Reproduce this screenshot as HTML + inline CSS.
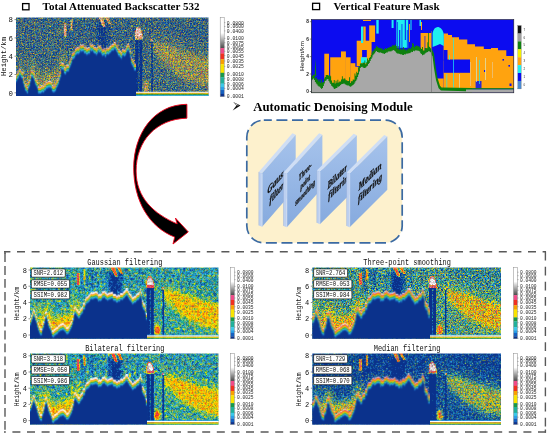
<!DOCTYPE html>
<html lang="en"><head><meta charset="utf-8"><title>Automatic Denoising Module</title>
<style>
html,body{margin:0;padding:0;background:#fff;}
body{width:550px;height:437px;overflow:hidden;}
svg{display:block;}
.mono{font-family:"Liberation Mono","DejaVu Sans Mono",monospace;}
.serif{font-family:"Liberation Serif","DejaVu Serif",serif;}
.sans{font-family:"Liberation Sans","DejaVu Sans",sans-serif;}
</style></head><body>
<svg width="550" height="437" viewBox="0 0 550 437">
<defs>
<linearGradient id="gg" x1="0" y1="0" x2="0" y2="1"><stop offset="0" stop-color="#fff"/><stop offset="1" stop-color="#484848"/></linearGradient>
<linearGradient id="pg" x1="0" y1="0" x2="0" y2="1"><stop offset="0" stop-color="#a6c3ec"/><stop offset="1" stop-color="#86aade"/></linearGradient>
<filter id="bl3" x="-20%" y="-20%" width="140%" height="140%"><feGaussianBlur stdDeviation="3"/></filter>
<filter id="soft" x="0" y="0" width="100%" height="100%" color-interpolation-filters="sRGB"><feConvolveMatrix order="3" kernelMatrix="0.07 0.26 0.07 0.26 1 0.26 0.07 0.26 0.07" divisor="2.32" edgeMode="duplicate" preserveAlpha="false"/></filter>
<filter id="bl2" x="-20%" y="-20%" width="140%" height="140%"><feGaussianBlur stdDeviation="2"/></filter>
<filter id="bl1" x="-20%" y="-20%" width="140%" height="140%"><feGaussianBlur stdDeviation="1"/></filter>
<filter id="nzraw" x="0" y="0" width="100%" height="100%" color-interpolation-filters="sRGB">
<feOffset in="SourceGraphic" dx="0" dy="0" result="b"/>
<feTurbulence type="fractalNoise" baseFrequency="0.620" numOctaves="2" seed="3" result="n0"/>
<feColorMatrix in="n0" type="matrix" values="1 0 0 0 0 1 0 0 0 0 1 0 0 0 0 0 0 0 0 1" result="g0"/>
<feComposite in="g0" in2="b" operator="arithmetic" k1="0" k2="1.5" k3="1" k4="-0.750" result="s0"/>
<feComponentTransfer in="s0" result="c0"><feFuncR type="discrete" tableValues="0.0431 0.0431 0.0431 0.0431 0.0431 0.0431 0.0431 0.0431 0.0431 0.0431 0.0431 0.0431 0.0431 0.0431 0.0431 0.0431 0.0431 0.0431 0.0431 0.0431 0.0431 0.0431 0.0431 0.0431 0.0431 0.0431 0.0431 0.0431 0.0431 0.0431 0.0431 0.0431 0.0431 0.0431 0.0431 0.0431 0.0431 0.0431 0.0431 0.0431 0.0431 0.0431 0.0431 0.0431 0.0431 0.0431 0.0431 0.0431 0.0431 0.0431 0.0431 0.0431 0.0431 0.0431 0.0431 0.0431 0.0431 0.0431 0.0431 0.0431 0.0824 0.0824 0.0824 0.0824 0.0824 0.0824 0.0824 0.165 0.165 0.165 0.165 0.165 0.165 0.235 0.235 0.235 0.235 0.125 0.125 0.125 0.125 0.0941 0.0941 0.0941 0.0941 0.0941 0.0941 0.973 0.973 0.973 0.973 0.973 0.973 0.973 0.973 0.973 0.973 0.973 0.973 0.973 0.973 0.973 0.973 0.973 0.973 0.973 0.973 0.973 0.973 0.973 0.973 0.973 0.973 0.973 0.973 0.973 0.973 0.973 0.973 0.973 0.973 0.973 0.973 0.973 0.973 0.973 0.941 0.941 0.941 0.941 0.941 0.941 0.941 0.941 0.941 0.941 0.941 0.941 0.941 0.941 0.941 0.941 0.941 0.941 0.941 0.941 0.941 0.941 0.941 0.941 0.941 0.941 0.941 0.941 0.376 0.376 0.565 0.565 0.565 0.565 0.565 0.565 0.565 0.565 0.784 0.784 0.784 0.784 0.784 0.784 0.784 0.784 0.784 0.784 1 1 1 1 1 1 1 1 1 1 1 1 1 1 1 1 1 1 1 1 1 1 1 1 1 1"/><feFuncG type="discrete" tableValues="0.196 0.196 0.196 0.196 0.196 0.196 0.196 0.196 0.196 0.196 0.196 0.196 0.196 0.196 0.196 0.196 0.196 0.196 0.196 0.196 0.196 0.196 0.196 0.196 0.196 0.196 0.196 0.196 0.196 0.196 0.196 0.196 0.196 0.196 0.196 0.196 0.196 0.196 0.196 0.196 0.196 0.196 0.196 0.196 0.196 0.196 0.196 0.196 0.196 0.196 0.196 0.196 0.196 0.196 0.196 0.196 0.196 0.196 0.196 0.196 0.376 0.376 0.376 0.376 0.376 0.376 0.376 0.627 0.627 0.627 0.627 0.627 0.627 0.784 0.784 0.784 0.784 0.69 0.69 0.69 0.69 0.596 0.596 0.596 0.596 0.596 0.596 0.894 0.894 0.894 0.894 0.894 0.894 0.894 0.894 0.894 0.894 0.894 0.894 0.894 0.894 0.894 0.894 0.894 0.894 0.894 0.894 0.894 0.894 0.894 0.894 0.894 0.627 0.627 0.627 0.627 0.627 0.627 0.627 0.627 0.627 0.627 0.627 0.627 0.627 0.627 0.188 0.188 0.188 0.188 0.188 0.188 0.188 0.188 0.188 0.188 0.188 0.188 0.188 0.188 0.29 0.29 0.29 0.29 0.29 0.29 0.29 0.29 0.29 0.29 0.29 0.29 0.29 0.29 0.376 0.376 0.565 0.565 0.565 0.565 0.565 0.565 0.565 0.565 0.784 0.784 0.784 0.784 0.784 0.784 0.784 0.784 0.784 0.784 1 1 1 1 1 1 1 1 1 1 1 1 1 1 1 1 1 1 1 1 1 1 1 1 1 1"/><feFuncB type="discrete" tableValues="0.549 0.549 0.549 0.549 0.549 0.549 0.549 0.549 0.549 0.549 0.549 0.549 0.549 0.549 0.549 0.549 0.549 0.549 0.549 0.549 0.549 0.549 0.549 0.549 0.549 0.549 0.549 0.549 0.549 0.549 0.549 0.549 0.549 0.549 0.549 0.549 0.549 0.549 0.549 0.549 0.549 0.549 0.549 0.549 0.549 0.549 0.549 0.549 0.549 0.549 0.549 0.549 0.549 0.549 0.549 0.549 0.549 0.549 0.549 0.549 0.753 0.753 0.753 0.753 0.753 0.753 0.753 0.91 0.91 0.91 0.91 0.91 0.91 0.91 0.91 0.91 0.91 0.604 0.604 0.604 0.604 0.282 0.282 0.282 0.282 0.282 0.282 0 0 0 0 0 0 0 0 0 0 0 0 0 0 0 0 0 0 0 0 0 0 0 0 0 0 0 0 0 0 0 0 0 0 0 0 0 0 0 0.125 0.125 0.125 0.125 0.125 0.125 0.125 0.125 0.125 0.125 0.125 0.125 0.125 0.125 0.533 0.533 0.533 0.533 0.533 0.533 0.533 0.533 0.533 0.533 0.533 0.533 0.533 0.533 0.376 0.376 0.565 0.565 0.565 0.565 0.565 0.565 0.565 0.565 0.784 0.784 0.784 0.784 0.784 0.784 0.784 0.784 0.784 0.784 1 1 1 1 1 1 1 1 1 1 1 1 1 1 1 1 1 1 1 1 1 1 1 1 1 1"/></feComponentTransfer>
<feColorMatrix in="n0" type="matrix" values="0 1 0 0 0 0 1 0 0 0 0 1 0 0 0 0 0 0 0 1" result="g1"/>
<feComposite in="g1" in2="b" operator="arithmetic" k1="0" k2="1.5" k3="1" k4="-0.750" result="s1"/>
<feComponentTransfer in="s1" result="c1"><feFuncR type="discrete" tableValues="0.0431 0.0431 0.0431 0.0431 0.0431 0.0431 0.0431 0.0431 0.0431 0.0431 0.0431 0.0431 0.0431 0.0431 0.0431 0.0431 0.0431 0.0431 0.0431 0.0431 0.0431 0.0431 0.0431 0.0431 0.0431 0.0431 0.0431 0.0431 0.0431 0.0431 0.0431 0.0431 0.0431 0.0431 0.0431 0.0431 0.0431 0.0431 0.0431 0.0431 0.0431 0.0431 0.0431 0.0431 0.0431 0.0431 0.0431 0.0431 0.0431 0.0431 0.0431 0.0431 0.0431 0.0431 0.0431 0.0431 0.0431 0.0431 0.0431 0.0431 0.0824 0.0824 0.0824 0.0824 0.0824 0.0824 0.0824 0.165 0.165 0.165 0.165 0.165 0.165 0.235 0.235 0.235 0.235 0.125 0.125 0.125 0.125 0.0941 0.0941 0.0941 0.0941 0.0941 0.0941 0.973 0.973 0.973 0.973 0.973 0.973 0.973 0.973 0.973 0.973 0.973 0.973 0.973 0.973 0.973 0.973 0.973 0.973 0.973 0.973 0.973 0.973 0.973 0.973 0.973 0.973 0.973 0.973 0.973 0.973 0.973 0.973 0.973 0.973 0.973 0.973 0.973 0.973 0.973 0.941 0.941 0.941 0.941 0.941 0.941 0.941 0.941 0.941 0.941 0.941 0.941 0.941 0.941 0.941 0.941 0.941 0.941 0.941 0.941 0.941 0.941 0.941 0.941 0.941 0.941 0.941 0.941 0.376 0.376 0.565 0.565 0.565 0.565 0.565 0.565 0.565 0.565 0.784 0.784 0.784 0.784 0.784 0.784 0.784 0.784 0.784 0.784 1 1 1 1 1 1 1 1 1 1 1 1 1 1 1 1 1 1 1 1 1 1 1 1 1 1"/><feFuncG type="discrete" tableValues="0.196 0.196 0.196 0.196 0.196 0.196 0.196 0.196 0.196 0.196 0.196 0.196 0.196 0.196 0.196 0.196 0.196 0.196 0.196 0.196 0.196 0.196 0.196 0.196 0.196 0.196 0.196 0.196 0.196 0.196 0.196 0.196 0.196 0.196 0.196 0.196 0.196 0.196 0.196 0.196 0.196 0.196 0.196 0.196 0.196 0.196 0.196 0.196 0.196 0.196 0.196 0.196 0.196 0.196 0.196 0.196 0.196 0.196 0.196 0.196 0.376 0.376 0.376 0.376 0.376 0.376 0.376 0.627 0.627 0.627 0.627 0.627 0.627 0.784 0.784 0.784 0.784 0.69 0.69 0.69 0.69 0.596 0.596 0.596 0.596 0.596 0.596 0.894 0.894 0.894 0.894 0.894 0.894 0.894 0.894 0.894 0.894 0.894 0.894 0.894 0.894 0.894 0.894 0.894 0.894 0.894 0.894 0.894 0.894 0.894 0.894 0.894 0.627 0.627 0.627 0.627 0.627 0.627 0.627 0.627 0.627 0.627 0.627 0.627 0.627 0.627 0.188 0.188 0.188 0.188 0.188 0.188 0.188 0.188 0.188 0.188 0.188 0.188 0.188 0.188 0.29 0.29 0.29 0.29 0.29 0.29 0.29 0.29 0.29 0.29 0.29 0.29 0.29 0.29 0.376 0.376 0.565 0.565 0.565 0.565 0.565 0.565 0.565 0.565 0.784 0.784 0.784 0.784 0.784 0.784 0.784 0.784 0.784 0.784 1 1 1 1 1 1 1 1 1 1 1 1 1 1 1 1 1 1 1 1 1 1 1 1 1 1"/><feFuncB type="discrete" tableValues="0.549 0.549 0.549 0.549 0.549 0.549 0.549 0.549 0.549 0.549 0.549 0.549 0.549 0.549 0.549 0.549 0.549 0.549 0.549 0.549 0.549 0.549 0.549 0.549 0.549 0.549 0.549 0.549 0.549 0.549 0.549 0.549 0.549 0.549 0.549 0.549 0.549 0.549 0.549 0.549 0.549 0.549 0.549 0.549 0.549 0.549 0.549 0.549 0.549 0.549 0.549 0.549 0.549 0.549 0.549 0.549 0.549 0.549 0.549 0.549 0.753 0.753 0.753 0.753 0.753 0.753 0.753 0.91 0.91 0.91 0.91 0.91 0.91 0.91 0.91 0.91 0.91 0.604 0.604 0.604 0.604 0.282 0.282 0.282 0.282 0.282 0.282 0 0 0 0 0 0 0 0 0 0 0 0 0 0 0 0 0 0 0 0 0 0 0 0 0 0 0 0 0 0 0 0 0 0 0 0 0 0 0 0.125 0.125 0.125 0.125 0.125 0.125 0.125 0.125 0.125 0.125 0.125 0.125 0.125 0.125 0.533 0.533 0.533 0.533 0.533 0.533 0.533 0.533 0.533 0.533 0.533 0.533 0.533 0.533 0.376 0.376 0.565 0.565 0.565 0.565 0.565 0.565 0.565 0.565 0.784 0.784 0.784 0.784 0.784 0.784 0.784 0.784 0.784 0.784 1 1 1 1 1 1 1 1 1 1 1 1 1 1 1 1 1 1 1 1 1 1 1 1 1 1"/></feComponentTransfer>
<feColorMatrix in="n0" type="matrix" values="0 0 1 0 0 0 0 1 0 0 0 0 1 0 0 0 0 0 0 1" result="g2"/>
<feComposite in="g2" in2="b" operator="arithmetic" k1="0" k2="1.5" k3="1" k4="-0.750" result="s2"/>
<feComponentTransfer in="s2" result="c2"><feFuncR type="discrete" tableValues="0.0431 0.0431 0.0431 0.0431 0.0431 0.0431 0.0431 0.0431 0.0431 0.0431 0.0431 0.0431 0.0431 0.0431 0.0431 0.0431 0.0431 0.0431 0.0431 0.0431 0.0431 0.0431 0.0431 0.0431 0.0431 0.0431 0.0431 0.0431 0.0431 0.0431 0.0431 0.0431 0.0431 0.0431 0.0431 0.0431 0.0431 0.0431 0.0431 0.0431 0.0431 0.0431 0.0431 0.0431 0.0431 0.0431 0.0431 0.0431 0.0431 0.0431 0.0431 0.0431 0.0431 0.0431 0.0431 0.0431 0.0431 0.0431 0.0431 0.0431 0.0824 0.0824 0.0824 0.0824 0.0824 0.0824 0.0824 0.165 0.165 0.165 0.165 0.165 0.165 0.235 0.235 0.235 0.235 0.125 0.125 0.125 0.125 0.0941 0.0941 0.0941 0.0941 0.0941 0.0941 0.973 0.973 0.973 0.973 0.973 0.973 0.973 0.973 0.973 0.973 0.973 0.973 0.973 0.973 0.973 0.973 0.973 0.973 0.973 0.973 0.973 0.973 0.973 0.973 0.973 0.973 0.973 0.973 0.973 0.973 0.973 0.973 0.973 0.973 0.973 0.973 0.973 0.973 0.973 0.941 0.941 0.941 0.941 0.941 0.941 0.941 0.941 0.941 0.941 0.941 0.941 0.941 0.941 0.941 0.941 0.941 0.941 0.941 0.941 0.941 0.941 0.941 0.941 0.941 0.941 0.941 0.941 0.376 0.376 0.565 0.565 0.565 0.565 0.565 0.565 0.565 0.565 0.784 0.784 0.784 0.784 0.784 0.784 0.784 0.784 0.784 0.784 1 1 1 1 1 1 1 1 1 1 1 1 1 1 1 1 1 1 1 1 1 1 1 1 1 1"/><feFuncG type="discrete" tableValues="0.196 0.196 0.196 0.196 0.196 0.196 0.196 0.196 0.196 0.196 0.196 0.196 0.196 0.196 0.196 0.196 0.196 0.196 0.196 0.196 0.196 0.196 0.196 0.196 0.196 0.196 0.196 0.196 0.196 0.196 0.196 0.196 0.196 0.196 0.196 0.196 0.196 0.196 0.196 0.196 0.196 0.196 0.196 0.196 0.196 0.196 0.196 0.196 0.196 0.196 0.196 0.196 0.196 0.196 0.196 0.196 0.196 0.196 0.196 0.196 0.376 0.376 0.376 0.376 0.376 0.376 0.376 0.627 0.627 0.627 0.627 0.627 0.627 0.784 0.784 0.784 0.784 0.69 0.69 0.69 0.69 0.596 0.596 0.596 0.596 0.596 0.596 0.894 0.894 0.894 0.894 0.894 0.894 0.894 0.894 0.894 0.894 0.894 0.894 0.894 0.894 0.894 0.894 0.894 0.894 0.894 0.894 0.894 0.894 0.894 0.894 0.894 0.627 0.627 0.627 0.627 0.627 0.627 0.627 0.627 0.627 0.627 0.627 0.627 0.627 0.627 0.188 0.188 0.188 0.188 0.188 0.188 0.188 0.188 0.188 0.188 0.188 0.188 0.188 0.188 0.29 0.29 0.29 0.29 0.29 0.29 0.29 0.29 0.29 0.29 0.29 0.29 0.29 0.29 0.376 0.376 0.565 0.565 0.565 0.565 0.565 0.565 0.565 0.565 0.784 0.784 0.784 0.784 0.784 0.784 0.784 0.784 0.784 0.784 1 1 1 1 1 1 1 1 1 1 1 1 1 1 1 1 1 1 1 1 1 1 1 1 1 1"/><feFuncB type="discrete" tableValues="0.549 0.549 0.549 0.549 0.549 0.549 0.549 0.549 0.549 0.549 0.549 0.549 0.549 0.549 0.549 0.549 0.549 0.549 0.549 0.549 0.549 0.549 0.549 0.549 0.549 0.549 0.549 0.549 0.549 0.549 0.549 0.549 0.549 0.549 0.549 0.549 0.549 0.549 0.549 0.549 0.549 0.549 0.549 0.549 0.549 0.549 0.549 0.549 0.549 0.549 0.549 0.549 0.549 0.549 0.549 0.549 0.549 0.549 0.549 0.549 0.753 0.753 0.753 0.753 0.753 0.753 0.753 0.91 0.91 0.91 0.91 0.91 0.91 0.91 0.91 0.91 0.91 0.604 0.604 0.604 0.604 0.282 0.282 0.282 0.282 0.282 0.282 0 0 0 0 0 0 0 0 0 0 0 0 0 0 0 0 0 0 0 0 0 0 0 0 0 0 0 0 0 0 0 0 0 0 0 0 0 0 0 0.125 0.125 0.125 0.125 0.125 0.125 0.125 0.125 0.125 0.125 0.125 0.125 0.125 0.125 0.533 0.533 0.533 0.533 0.533 0.533 0.533 0.533 0.533 0.533 0.533 0.533 0.533 0.533 0.376 0.376 0.565 0.565 0.565 0.565 0.565 0.565 0.565 0.565 0.784 0.784 0.784 0.784 0.784 0.784 0.784 0.784 0.784 0.784 1 1 1 1 1 1 1 1 1 1 1 1 1 1 1 1 1 1 1 1 1 1 1 1 1 1"/></feComponentTransfer>
<feTurbulence type="fractalNoise" baseFrequency="0.661" numOctaves="2" seed="20" result="n1"/>
<feColorMatrix in="n1" type="matrix" values="1 0 0 0 0 1 0 0 0 0 1 0 0 0 0 0 0 0 0 1" result="g3"/>
<feComposite in="g3" in2="b" operator="arithmetic" k1="0" k2="1.5" k3="1" k4="-0.750" result="s3"/>
<feComponentTransfer in="s3" result="c3"><feFuncR type="discrete" tableValues="0.0431 0.0431 0.0431 0.0431 0.0431 0.0431 0.0431 0.0431 0.0431 0.0431 0.0431 0.0431 0.0431 0.0431 0.0431 0.0431 0.0431 0.0431 0.0431 0.0431 0.0431 0.0431 0.0431 0.0431 0.0431 0.0431 0.0431 0.0431 0.0431 0.0431 0.0431 0.0431 0.0431 0.0431 0.0431 0.0431 0.0431 0.0431 0.0431 0.0431 0.0431 0.0431 0.0431 0.0431 0.0431 0.0431 0.0431 0.0431 0.0431 0.0431 0.0431 0.0431 0.0431 0.0431 0.0431 0.0431 0.0431 0.0431 0.0431 0.0431 0.0824 0.0824 0.0824 0.0824 0.0824 0.0824 0.0824 0.165 0.165 0.165 0.165 0.165 0.165 0.235 0.235 0.235 0.235 0.125 0.125 0.125 0.125 0.0941 0.0941 0.0941 0.0941 0.0941 0.0941 0.973 0.973 0.973 0.973 0.973 0.973 0.973 0.973 0.973 0.973 0.973 0.973 0.973 0.973 0.973 0.973 0.973 0.973 0.973 0.973 0.973 0.973 0.973 0.973 0.973 0.973 0.973 0.973 0.973 0.973 0.973 0.973 0.973 0.973 0.973 0.973 0.973 0.973 0.973 0.941 0.941 0.941 0.941 0.941 0.941 0.941 0.941 0.941 0.941 0.941 0.941 0.941 0.941 0.941 0.941 0.941 0.941 0.941 0.941 0.941 0.941 0.941 0.941 0.941 0.941 0.941 0.941 0.376 0.376 0.565 0.565 0.565 0.565 0.565 0.565 0.565 0.565 0.784 0.784 0.784 0.784 0.784 0.784 0.784 0.784 0.784 0.784 1 1 1 1 1 1 1 1 1 1 1 1 1 1 1 1 1 1 1 1 1 1 1 1 1 1"/><feFuncG type="discrete" tableValues="0.196 0.196 0.196 0.196 0.196 0.196 0.196 0.196 0.196 0.196 0.196 0.196 0.196 0.196 0.196 0.196 0.196 0.196 0.196 0.196 0.196 0.196 0.196 0.196 0.196 0.196 0.196 0.196 0.196 0.196 0.196 0.196 0.196 0.196 0.196 0.196 0.196 0.196 0.196 0.196 0.196 0.196 0.196 0.196 0.196 0.196 0.196 0.196 0.196 0.196 0.196 0.196 0.196 0.196 0.196 0.196 0.196 0.196 0.196 0.196 0.376 0.376 0.376 0.376 0.376 0.376 0.376 0.627 0.627 0.627 0.627 0.627 0.627 0.784 0.784 0.784 0.784 0.69 0.69 0.69 0.69 0.596 0.596 0.596 0.596 0.596 0.596 0.894 0.894 0.894 0.894 0.894 0.894 0.894 0.894 0.894 0.894 0.894 0.894 0.894 0.894 0.894 0.894 0.894 0.894 0.894 0.894 0.894 0.894 0.894 0.894 0.894 0.627 0.627 0.627 0.627 0.627 0.627 0.627 0.627 0.627 0.627 0.627 0.627 0.627 0.627 0.188 0.188 0.188 0.188 0.188 0.188 0.188 0.188 0.188 0.188 0.188 0.188 0.188 0.188 0.29 0.29 0.29 0.29 0.29 0.29 0.29 0.29 0.29 0.29 0.29 0.29 0.29 0.29 0.376 0.376 0.565 0.565 0.565 0.565 0.565 0.565 0.565 0.565 0.784 0.784 0.784 0.784 0.784 0.784 0.784 0.784 0.784 0.784 1 1 1 1 1 1 1 1 1 1 1 1 1 1 1 1 1 1 1 1 1 1 1 1 1 1"/><feFuncB type="discrete" tableValues="0.549 0.549 0.549 0.549 0.549 0.549 0.549 0.549 0.549 0.549 0.549 0.549 0.549 0.549 0.549 0.549 0.549 0.549 0.549 0.549 0.549 0.549 0.549 0.549 0.549 0.549 0.549 0.549 0.549 0.549 0.549 0.549 0.549 0.549 0.549 0.549 0.549 0.549 0.549 0.549 0.549 0.549 0.549 0.549 0.549 0.549 0.549 0.549 0.549 0.549 0.549 0.549 0.549 0.549 0.549 0.549 0.549 0.549 0.549 0.549 0.753 0.753 0.753 0.753 0.753 0.753 0.753 0.91 0.91 0.91 0.91 0.91 0.91 0.91 0.91 0.91 0.91 0.604 0.604 0.604 0.604 0.282 0.282 0.282 0.282 0.282 0.282 0 0 0 0 0 0 0 0 0 0 0 0 0 0 0 0 0 0 0 0 0 0 0 0 0 0 0 0 0 0 0 0 0 0 0 0 0 0 0 0.125 0.125 0.125 0.125 0.125 0.125 0.125 0.125 0.125 0.125 0.125 0.125 0.125 0.125 0.533 0.533 0.533 0.533 0.533 0.533 0.533 0.533 0.533 0.533 0.533 0.533 0.533 0.533 0.376 0.376 0.565 0.565 0.565 0.565 0.565 0.565 0.565 0.565 0.784 0.784 0.784 0.784 0.784 0.784 0.784 0.784 0.784 0.784 1 1 1 1 1 1 1 1 1 1 1 1 1 1 1 1 1 1 1 1 1 1 1 1 1 1"/></feComponentTransfer>
<feColorMatrix in="n1" type="matrix" values="0 1 0 0 0 0 1 0 0 0 0 1 0 0 0 0 0 0 0 1" result="g4"/>
<feComposite in="g4" in2="b" operator="arithmetic" k1="0" k2="1.5" k3="1" k4="-0.750" result="s4"/>
<feComponentTransfer in="s4" result="c4"><feFuncR type="discrete" tableValues="0.0431 0.0431 0.0431 0.0431 0.0431 0.0431 0.0431 0.0431 0.0431 0.0431 0.0431 0.0431 0.0431 0.0431 0.0431 0.0431 0.0431 0.0431 0.0431 0.0431 0.0431 0.0431 0.0431 0.0431 0.0431 0.0431 0.0431 0.0431 0.0431 0.0431 0.0431 0.0431 0.0431 0.0431 0.0431 0.0431 0.0431 0.0431 0.0431 0.0431 0.0431 0.0431 0.0431 0.0431 0.0431 0.0431 0.0431 0.0431 0.0431 0.0431 0.0431 0.0431 0.0431 0.0431 0.0431 0.0431 0.0431 0.0431 0.0431 0.0431 0.0824 0.0824 0.0824 0.0824 0.0824 0.0824 0.0824 0.165 0.165 0.165 0.165 0.165 0.165 0.235 0.235 0.235 0.235 0.125 0.125 0.125 0.125 0.0941 0.0941 0.0941 0.0941 0.0941 0.0941 0.973 0.973 0.973 0.973 0.973 0.973 0.973 0.973 0.973 0.973 0.973 0.973 0.973 0.973 0.973 0.973 0.973 0.973 0.973 0.973 0.973 0.973 0.973 0.973 0.973 0.973 0.973 0.973 0.973 0.973 0.973 0.973 0.973 0.973 0.973 0.973 0.973 0.973 0.973 0.941 0.941 0.941 0.941 0.941 0.941 0.941 0.941 0.941 0.941 0.941 0.941 0.941 0.941 0.941 0.941 0.941 0.941 0.941 0.941 0.941 0.941 0.941 0.941 0.941 0.941 0.941 0.941 0.376 0.376 0.565 0.565 0.565 0.565 0.565 0.565 0.565 0.565 0.784 0.784 0.784 0.784 0.784 0.784 0.784 0.784 0.784 0.784 1 1 1 1 1 1 1 1 1 1 1 1 1 1 1 1 1 1 1 1 1 1 1 1 1 1"/><feFuncG type="discrete" tableValues="0.196 0.196 0.196 0.196 0.196 0.196 0.196 0.196 0.196 0.196 0.196 0.196 0.196 0.196 0.196 0.196 0.196 0.196 0.196 0.196 0.196 0.196 0.196 0.196 0.196 0.196 0.196 0.196 0.196 0.196 0.196 0.196 0.196 0.196 0.196 0.196 0.196 0.196 0.196 0.196 0.196 0.196 0.196 0.196 0.196 0.196 0.196 0.196 0.196 0.196 0.196 0.196 0.196 0.196 0.196 0.196 0.196 0.196 0.196 0.196 0.376 0.376 0.376 0.376 0.376 0.376 0.376 0.627 0.627 0.627 0.627 0.627 0.627 0.784 0.784 0.784 0.784 0.69 0.69 0.69 0.69 0.596 0.596 0.596 0.596 0.596 0.596 0.894 0.894 0.894 0.894 0.894 0.894 0.894 0.894 0.894 0.894 0.894 0.894 0.894 0.894 0.894 0.894 0.894 0.894 0.894 0.894 0.894 0.894 0.894 0.894 0.894 0.627 0.627 0.627 0.627 0.627 0.627 0.627 0.627 0.627 0.627 0.627 0.627 0.627 0.627 0.188 0.188 0.188 0.188 0.188 0.188 0.188 0.188 0.188 0.188 0.188 0.188 0.188 0.188 0.29 0.29 0.29 0.29 0.29 0.29 0.29 0.29 0.29 0.29 0.29 0.29 0.29 0.29 0.376 0.376 0.565 0.565 0.565 0.565 0.565 0.565 0.565 0.565 0.784 0.784 0.784 0.784 0.784 0.784 0.784 0.784 0.784 0.784 1 1 1 1 1 1 1 1 1 1 1 1 1 1 1 1 1 1 1 1 1 1 1 1 1 1"/><feFuncB type="discrete" tableValues="0.549 0.549 0.549 0.549 0.549 0.549 0.549 0.549 0.549 0.549 0.549 0.549 0.549 0.549 0.549 0.549 0.549 0.549 0.549 0.549 0.549 0.549 0.549 0.549 0.549 0.549 0.549 0.549 0.549 0.549 0.549 0.549 0.549 0.549 0.549 0.549 0.549 0.549 0.549 0.549 0.549 0.549 0.549 0.549 0.549 0.549 0.549 0.549 0.549 0.549 0.549 0.549 0.549 0.549 0.549 0.549 0.549 0.549 0.549 0.549 0.753 0.753 0.753 0.753 0.753 0.753 0.753 0.91 0.91 0.91 0.91 0.91 0.91 0.91 0.91 0.91 0.91 0.604 0.604 0.604 0.604 0.282 0.282 0.282 0.282 0.282 0.282 0 0 0 0 0 0 0 0 0 0 0 0 0 0 0 0 0 0 0 0 0 0 0 0 0 0 0 0 0 0 0 0 0 0 0 0 0 0 0 0.125 0.125 0.125 0.125 0.125 0.125 0.125 0.125 0.125 0.125 0.125 0.125 0.125 0.125 0.533 0.533 0.533 0.533 0.533 0.533 0.533 0.533 0.533 0.533 0.533 0.533 0.533 0.533 0.376 0.376 0.565 0.565 0.565 0.565 0.565 0.565 0.565 0.565 0.784 0.784 0.784 0.784 0.784 0.784 0.784 0.784 0.784 0.784 1 1 1 1 1 1 1 1 1 1 1 1 1 1 1 1 1 1 1 1 1 1 1 1 1 1"/></feComponentTransfer>
<feColorMatrix in="n1" type="matrix" values="0 0 1 0 0 0 0 1 0 0 0 0 1 0 0 0 0 0 0 1" result="g5"/>
<feComposite in="g5" in2="b" operator="arithmetic" k1="0" k2="1.5" k3="1" k4="-0.750" result="s5"/>
<feComponentTransfer in="s5" result="c5"><feFuncR type="discrete" tableValues="0.0431 0.0431 0.0431 0.0431 0.0431 0.0431 0.0431 0.0431 0.0431 0.0431 0.0431 0.0431 0.0431 0.0431 0.0431 0.0431 0.0431 0.0431 0.0431 0.0431 0.0431 0.0431 0.0431 0.0431 0.0431 0.0431 0.0431 0.0431 0.0431 0.0431 0.0431 0.0431 0.0431 0.0431 0.0431 0.0431 0.0431 0.0431 0.0431 0.0431 0.0431 0.0431 0.0431 0.0431 0.0431 0.0431 0.0431 0.0431 0.0431 0.0431 0.0431 0.0431 0.0431 0.0431 0.0431 0.0431 0.0431 0.0431 0.0431 0.0431 0.0824 0.0824 0.0824 0.0824 0.0824 0.0824 0.0824 0.165 0.165 0.165 0.165 0.165 0.165 0.235 0.235 0.235 0.235 0.125 0.125 0.125 0.125 0.0941 0.0941 0.0941 0.0941 0.0941 0.0941 0.973 0.973 0.973 0.973 0.973 0.973 0.973 0.973 0.973 0.973 0.973 0.973 0.973 0.973 0.973 0.973 0.973 0.973 0.973 0.973 0.973 0.973 0.973 0.973 0.973 0.973 0.973 0.973 0.973 0.973 0.973 0.973 0.973 0.973 0.973 0.973 0.973 0.973 0.973 0.941 0.941 0.941 0.941 0.941 0.941 0.941 0.941 0.941 0.941 0.941 0.941 0.941 0.941 0.941 0.941 0.941 0.941 0.941 0.941 0.941 0.941 0.941 0.941 0.941 0.941 0.941 0.941 0.376 0.376 0.565 0.565 0.565 0.565 0.565 0.565 0.565 0.565 0.784 0.784 0.784 0.784 0.784 0.784 0.784 0.784 0.784 0.784 1 1 1 1 1 1 1 1 1 1 1 1 1 1 1 1 1 1 1 1 1 1 1 1 1 1"/><feFuncG type="discrete" tableValues="0.196 0.196 0.196 0.196 0.196 0.196 0.196 0.196 0.196 0.196 0.196 0.196 0.196 0.196 0.196 0.196 0.196 0.196 0.196 0.196 0.196 0.196 0.196 0.196 0.196 0.196 0.196 0.196 0.196 0.196 0.196 0.196 0.196 0.196 0.196 0.196 0.196 0.196 0.196 0.196 0.196 0.196 0.196 0.196 0.196 0.196 0.196 0.196 0.196 0.196 0.196 0.196 0.196 0.196 0.196 0.196 0.196 0.196 0.196 0.196 0.376 0.376 0.376 0.376 0.376 0.376 0.376 0.627 0.627 0.627 0.627 0.627 0.627 0.784 0.784 0.784 0.784 0.69 0.69 0.69 0.69 0.596 0.596 0.596 0.596 0.596 0.596 0.894 0.894 0.894 0.894 0.894 0.894 0.894 0.894 0.894 0.894 0.894 0.894 0.894 0.894 0.894 0.894 0.894 0.894 0.894 0.894 0.894 0.894 0.894 0.894 0.894 0.627 0.627 0.627 0.627 0.627 0.627 0.627 0.627 0.627 0.627 0.627 0.627 0.627 0.627 0.188 0.188 0.188 0.188 0.188 0.188 0.188 0.188 0.188 0.188 0.188 0.188 0.188 0.188 0.29 0.29 0.29 0.29 0.29 0.29 0.29 0.29 0.29 0.29 0.29 0.29 0.29 0.29 0.376 0.376 0.565 0.565 0.565 0.565 0.565 0.565 0.565 0.565 0.784 0.784 0.784 0.784 0.784 0.784 0.784 0.784 0.784 0.784 1 1 1 1 1 1 1 1 1 1 1 1 1 1 1 1 1 1 1 1 1 1 1 1 1 1"/><feFuncB type="discrete" tableValues="0.549 0.549 0.549 0.549 0.549 0.549 0.549 0.549 0.549 0.549 0.549 0.549 0.549 0.549 0.549 0.549 0.549 0.549 0.549 0.549 0.549 0.549 0.549 0.549 0.549 0.549 0.549 0.549 0.549 0.549 0.549 0.549 0.549 0.549 0.549 0.549 0.549 0.549 0.549 0.549 0.549 0.549 0.549 0.549 0.549 0.549 0.549 0.549 0.549 0.549 0.549 0.549 0.549 0.549 0.549 0.549 0.549 0.549 0.549 0.549 0.753 0.753 0.753 0.753 0.753 0.753 0.753 0.91 0.91 0.91 0.91 0.91 0.91 0.91 0.91 0.91 0.91 0.604 0.604 0.604 0.604 0.282 0.282 0.282 0.282 0.282 0.282 0 0 0 0 0 0 0 0 0 0 0 0 0 0 0 0 0 0 0 0 0 0 0 0 0 0 0 0 0 0 0 0 0 0 0 0 0 0 0 0.125 0.125 0.125 0.125 0.125 0.125 0.125 0.125 0.125 0.125 0.125 0.125 0.125 0.125 0.533 0.533 0.533 0.533 0.533 0.533 0.533 0.533 0.533 0.533 0.533 0.533 0.533 0.533 0.376 0.376 0.565 0.565 0.565 0.565 0.565 0.565 0.565 0.565 0.784 0.784 0.784 0.784 0.784 0.784 0.784 0.784 0.784 0.784 1 1 1 1 1 1 1 1 1 1 1 1 1 1 1 1 1 1 1 1 1 1 1 1 1 1"/></feComponentTransfer>
<feComposite in="c0" in2="c1" operator="arithmetic" k1="0" k2="0.5000" k3="0.5000" k4="0" result="a1"/>
<feComposite in="a1" in2="c2" operator="arithmetic" k1="0" k2="0.6667" k3="0.3333" k4="0" result="a2"/>
<feComposite in="a2" in2="c3" operator="arithmetic" k1="0" k2="0.7500" k3="0.2500" k4="0" result="a3"/>
<feComposite in="a3" in2="c4" operator="arithmetic" k1="0" k2="0.8000" k3="0.2000" k4="0" result="a4"/>
<feComposite in="a4" in2="c5" operator="arithmetic" k1="0" k2="0.8333" k3="0.1667" k4="0" result="a5"/>
<feOffset in="a5" dx="0" dy="0"/>
</filter>
<filter id="nzg" x="0" y="0" width="100%" height="100%" color-interpolation-filters="sRGB">
<feOffset in="SourceGraphic" dx="0" dy="0" result="b"/>
<feTurbulence type="fractalNoise" baseFrequency="0.360" numOctaves="2" seed="5" result="n0"/>
<feColorMatrix in="n0" type="matrix" values="1 0 0 0 0 1 0 0 0 0 1 0 0 0 0 0 0 0 0 1" result="g0"/>
<feComposite in="g0" in2="b" operator="arithmetic" k1="0" k2="0.48" k3="1" k4="-0.240" result="s0"/>
<feComponentTransfer in="s0" result="c0"><feFuncR type="discrete" tableValues="0.0431 0.0431 0.0431 0.0431 0.0431 0.0431 0.0431 0.0431 0.0431 0.0431 0.0431 0.0431 0.0431 0.0431 0.0431 0.0431 0.0431 0.0431 0.0431 0.0431 0.0431 0.0431 0.0431 0.0431 0.0431 0.0431 0.0431 0.0431 0.0431 0.0431 0.0431 0.0431 0.0431 0.0431 0.0431 0.0431 0.0431 0.0431 0.0431 0.0431 0.0431 0.0431 0.0431 0.0431 0.0431 0.0431 0.0431 0.0431 0.0431 0.0431 0.0431 0.0431 0.0431 0.0431 0.0431 0.0431 0.0431 0.0431 0.0431 0.0431 0.0824 0.0824 0.0824 0.0824 0.0824 0.165 0.165 0.165 0.165 0.165 0.235 0.235 0.235 0.235 0.235 0.125 0.125 0.125 0.125 0.125 0.0941 0.0941 0.0941 0.0941 0.0941 0.0941 0.973 0.973 0.973 0.973 0.973 0.973 0.973 0.973 0.973 0.973 0.973 0.973 0.973 0.973 0.973 0.973 0.973 0.973 0.973 0.973 0.973 0.973 0.973 0.973 0.973 0.973 0.973 0.973 0.973 0.973 0.941 0.941 0.941 0.941 0.941 0.941 0.941 0.941 0.941 0.941 0.941 0.941 0.941 0.941 0.941 0.941 0.941 0.941 0.941 0.941 0.941 0.941 0.941 0.941 0.941 0.941 0.941 0.941 0.941 0.941 0.941 0.941 0.941 0.941 0.376 0.376 0.376 0.376 0.376 0.376 0.565 0.565 0.565 0.565 0.565 0.565 0.565 0.565 0.784 0.784 0.784 0.784 0.784 0.784 0.784 0.784 0.784 0.784 1 1 1 1 1 1 1 1 1 1 1 1 1 1 1 1 1 1 1 1 1 1 1 1 1 1"/><feFuncG type="discrete" tableValues="0.196 0.196 0.196 0.196 0.196 0.196 0.196 0.196 0.196 0.196 0.196 0.196 0.196 0.196 0.196 0.196 0.196 0.196 0.196 0.196 0.196 0.196 0.196 0.196 0.196 0.196 0.196 0.196 0.196 0.196 0.196 0.196 0.196 0.196 0.196 0.196 0.196 0.196 0.196 0.196 0.196 0.196 0.196 0.196 0.196 0.196 0.196 0.196 0.196 0.196 0.196 0.196 0.196 0.196 0.196 0.196 0.196 0.196 0.196 0.196 0.376 0.376 0.376 0.376 0.376 0.627 0.627 0.627 0.627 0.627 0.784 0.784 0.784 0.784 0.784 0.69 0.69 0.69 0.69 0.69 0.596 0.596 0.596 0.596 0.596 0.596 0.894 0.894 0.894 0.894 0.894 0.894 0.894 0.894 0.894 0.894 0.894 0.894 0.894 0.894 0.894 0.894 0.894 0.894 0.627 0.627 0.627 0.627 0.627 0.627 0.627 0.627 0.627 0.627 0.627 0.627 0.188 0.188 0.188 0.188 0.188 0.188 0.188 0.188 0.188 0.188 0.188 0.188 0.188 0.188 0.188 0.188 0.188 0.188 0.29 0.29 0.29 0.29 0.29 0.29 0.29 0.29 0.29 0.29 0.29 0.29 0.29 0.29 0.29 0.29 0.376 0.376 0.376 0.376 0.376 0.376 0.565 0.565 0.565 0.565 0.565 0.565 0.565 0.565 0.784 0.784 0.784 0.784 0.784 0.784 0.784 0.784 0.784 0.784 1 1 1 1 1 1 1 1 1 1 1 1 1 1 1 1 1 1 1 1 1 1 1 1 1 1"/><feFuncB type="discrete" tableValues="0.549 0.549 0.549 0.549 0.549 0.549 0.549 0.549 0.549 0.549 0.549 0.549 0.549 0.549 0.549 0.549 0.549 0.549 0.549 0.549 0.549 0.549 0.549 0.549 0.549 0.549 0.549 0.549 0.549 0.549 0.549 0.549 0.549 0.549 0.549 0.549 0.549 0.549 0.549 0.549 0.549 0.549 0.549 0.549 0.549 0.549 0.549 0.549 0.549 0.549 0.549 0.549 0.549 0.549 0.549 0.549 0.549 0.549 0.549 0.549 0.753 0.753 0.753 0.753 0.753 0.91 0.91 0.91 0.91 0.91 0.91 0.91 0.91 0.91 0.91 0.604 0.604 0.604 0.604 0.604 0.282 0.282 0.282 0.282 0.282 0.282 0 0 0 0 0 0 0 0 0 0 0 0 0 0 0 0 0 0 0 0 0 0 0 0 0 0 0 0 0 0 0.125 0.125 0.125 0.125 0.125 0.125 0.125 0.125 0.125 0.125 0.125 0.125 0.125 0.125 0.125 0.125 0.125 0.125 0.533 0.533 0.533 0.533 0.533 0.533 0.533 0.533 0.533 0.533 0.533 0.533 0.533 0.533 0.533 0.533 0.376 0.376 0.376 0.376 0.376 0.376 0.565 0.565 0.565 0.565 0.565 0.565 0.565 0.565 0.784 0.784 0.784 0.784 0.784 0.784 0.784 0.784 0.784 0.784 1 1 1 1 1 1 1 1 1 1 1 1 1 1 1 1 1 1 1 1 1 1 1 1 1 1"/></feComponentTransfer>
<feColorMatrix in="n0" type="matrix" values="0 1 0 0 0 0 1 0 0 0 0 1 0 0 0 0 0 0 0 1" result="g1"/>
<feComposite in="g1" in2="b" operator="arithmetic" k1="0" k2="0.48" k3="1" k4="-0.240" result="s1"/>
<feComponentTransfer in="s1" result="c1"><feFuncR type="discrete" tableValues="0.0431 0.0431 0.0431 0.0431 0.0431 0.0431 0.0431 0.0431 0.0431 0.0431 0.0431 0.0431 0.0431 0.0431 0.0431 0.0431 0.0431 0.0431 0.0431 0.0431 0.0431 0.0431 0.0431 0.0431 0.0431 0.0431 0.0431 0.0431 0.0431 0.0431 0.0431 0.0431 0.0431 0.0431 0.0431 0.0431 0.0431 0.0431 0.0431 0.0431 0.0431 0.0431 0.0431 0.0431 0.0431 0.0431 0.0431 0.0431 0.0431 0.0431 0.0431 0.0431 0.0431 0.0431 0.0431 0.0431 0.0431 0.0431 0.0431 0.0431 0.0824 0.0824 0.0824 0.0824 0.0824 0.165 0.165 0.165 0.165 0.165 0.235 0.235 0.235 0.235 0.235 0.125 0.125 0.125 0.125 0.125 0.0941 0.0941 0.0941 0.0941 0.0941 0.0941 0.973 0.973 0.973 0.973 0.973 0.973 0.973 0.973 0.973 0.973 0.973 0.973 0.973 0.973 0.973 0.973 0.973 0.973 0.973 0.973 0.973 0.973 0.973 0.973 0.973 0.973 0.973 0.973 0.973 0.973 0.941 0.941 0.941 0.941 0.941 0.941 0.941 0.941 0.941 0.941 0.941 0.941 0.941 0.941 0.941 0.941 0.941 0.941 0.941 0.941 0.941 0.941 0.941 0.941 0.941 0.941 0.941 0.941 0.941 0.941 0.941 0.941 0.941 0.941 0.376 0.376 0.376 0.376 0.376 0.376 0.565 0.565 0.565 0.565 0.565 0.565 0.565 0.565 0.784 0.784 0.784 0.784 0.784 0.784 0.784 0.784 0.784 0.784 1 1 1 1 1 1 1 1 1 1 1 1 1 1 1 1 1 1 1 1 1 1 1 1 1 1"/><feFuncG type="discrete" tableValues="0.196 0.196 0.196 0.196 0.196 0.196 0.196 0.196 0.196 0.196 0.196 0.196 0.196 0.196 0.196 0.196 0.196 0.196 0.196 0.196 0.196 0.196 0.196 0.196 0.196 0.196 0.196 0.196 0.196 0.196 0.196 0.196 0.196 0.196 0.196 0.196 0.196 0.196 0.196 0.196 0.196 0.196 0.196 0.196 0.196 0.196 0.196 0.196 0.196 0.196 0.196 0.196 0.196 0.196 0.196 0.196 0.196 0.196 0.196 0.196 0.376 0.376 0.376 0.376 0.376 0.627 0.627 0.627 0.627 0.627 0.784 0.784 0.784 0.784 0.784 0.69 0.69 0.69 0.69 0.69 0.596 0.596 0.596 0.596 0.596 0.596 0.894 0.894 0.894 0.894 0.894 0.894 0.894 0.894 0.894 0.894 0.894 0.894 0.894 0.894 0.894 0.894 0.894 0.894 0.627 0.627 0.627 0.627 0.627 0.627 0.627 0.627 0.627 0.627 0.627 0.627 0.188 0.188 0.188 0.188 0.188 0.188 0.188 0.188 0.188 0.188 0.188 0.188 0.188 0.188 0.188 0.188 0.188 0.188 0.29 0.29 0.29 0.29 0.29 0.29 0.29 0.29 0.29 0.29 0.29 0.29 0.29 0.29 0.29 0.29 0.376 0.376 0.376 0.376 0.376 0.376 0.565 0.565 0.565 0.565 0.565 0.565 0.565 0.565 0.784 0.784 0.784 0.784 0.784 0.784 0.784 0.784 0.784 0.784 1 1 1 1 1 1 1 1 1 1 1 1 1 1 1 1 1 1 1 1 1 1 1 1 1 1"/><feFuncB type="discrete" tableValues="0.549 0.549 0.549 0.549 0.549 0.549 0.549 0.549 0.549 0.549 0.549 0.549 0.549 0.549 0.549 0.549 0.549 0.549 0.549 0.549 0.549 0.549 0.549 0.549 0.549 0.549 0.549 0.549 0.549 0.549 0.549 0.549 0.549 0.549 0.549 0.549 0.549 0.549 0.549 0.549 0.549 0.549 0.549 0.549 0.549 0.549 0.549 0.549 0.549 0.549 0.549 0.549 0.549 0.549 0.549 0.549 0.549 0.549 0.549 0.549 0.753 0.753 0.753 0.753 0.753 0.91 0.91 0.91 0.91 0.91 0.91 0.91 0.91 0.91 0.91 0.604 0.604 0.604 0.604 0.604 0.282 0.282 0.282 0.282 0.282 0.282 0 0 0 0 0 0 0 0 0 0 0 0 0 0 0 0 0 0 0 0 0 0 0 0 0 0 0 0 0 0 0.125 0.125 0.125 0.125 0.125 0.125 0.125 0.125 0.125 0.125 0.125 0.125 0.125 0.125 0.125 0.125 0.125 0.125 0.533 0.533 0.533 0.533 0.533 0.533 0.533 0.533 0.533 0.533 0.533 0.533 0.533 0.533 0.533 0.533 0.376 0.376 0.376 0.376 0.376 0.376 0.565 0.565 0.565 0.565 0.565 0.565 0.565 0.565 0.784 0.784 0.784 0.784 0.784 0.784 0.784 0.784 0.784 0.784 1 1 1 1 1 1 1 1 1 1 1 1 1 1 1 1 1 1 1 1 1 1 1 1 1 1"/></feComponentTransfer>
<feColorMatrix in="n0" type="matrix" values="0 0 1 0 0 0 0 1 0 0 0 0 1 0 0 0 0 0 0 1" result="g2"/>
<feComposite in="g2" in2="b" operator="arithmetic" k1="0" k2="0.48" k3="1" k4="-0.240" result="s2"/>
<feComponentTransfer in="s2" result="c2"><feFuncR type="discrete" tableValues="0.0431 0.0431 0.0431 0.0431 0.0431 0.0431 0.0431 0.0431 0.0431 0.0431 0.0431 0.0431 0.0431 0.0431 0.0431 0.0431 0.0431 0.0431 0.0431 0.0431 0.0431 0.0431 0.0431 0.0431 0.0431 0.0431 0.0431 0.0431 0.0431 0.0431 0.0431 0.0431 0.0431 0.0431 0.0431 0.0431 0.0431 0.0431 0.0431 0.0431 0.0431 0.0431 0.0431 0.0431 0.0431 0.0431 0.0431 0.0431 0.0431 0.0431 0.0431 0.0431 0.0431 0.0431 0.0431 0.0431 0.0431 0.0431 0.0431 0.0431 0.0824 0.0824 0.0824 0.0824 0.0824 0.165 0.165 0.165 0.165 0.165 0.235 0.235 0.235 0.235 0.235 0.125 0.125 0.125 0.125 0.125 0.0941 0.0941 0.0941 0.0941 0.0941 0.0941 0.973 0.973 0.973 0.973 0.973 0.973 0.973 0.973 0.973 0.973 0.973 0.973 0.973 0.973 0.973 0.973 0.973 0.973 0.973 0.973 0.973 0.973 0.973 0.973 0.973 0.973 0.973 0.973 0.973 0.973 0.941 0.941 0.941 0.941 0.941 0.941 0.941 0.941 0.941 0.941 0.941 0.941 0.941 0.941 0.941 0.941 0.941 0.941 0.941 0.941 0.941 0.941 0.941 0.941 0.941 0.941 0.941 0.941 0.941 0.941 0.941 0.941 0.941 0.941 0.376 0.376 0.376 0.376 0.376 0.376 0.565 0.565 0.565 0.565 0.565 0.565 0.565 0.565 0.784 0.784 0.784 0.784 0.784 0.784 0.784 0.784 0.784 0.784 1 1 1 1 1 1 1 1 1 1 1 1 1 1 1 1 1 1 1 1 1 1 1 1 1 1"/><feFuncG type="discrete" tableValues="0.196 0.196 0.196 0.196 0.196 0.196 0.196 0.196 0.196 0.196 0.196 0.196 0.196 0.196 0.196 0.196 0.196 0.196 0.196 0.196 0.196 0.196 0.196 0.196 0.196 0.196 0.196 0.196 0.196 0.196 0.196 0.196 0.196 0.196 0.196 0.196 0.196 0.196 0.196 0.196 0.196 0.196 0.196 0.196 0.196 0.196 0.196 0.196 0.196 0.196 0.196 0.196 0.196 0.196 0.196 0.196 0.196 0.196 0.196 0.196 0.376 0.376 0.376 0.376 0.376 0.627 0.627 0.627 0.627 0.627 0.784 0.784 0.784 0.784 0.784 0.69 0.69 0.69 0.69 0.69 0.596 0.596 0.596 0.596 0.596 0.596 0.894 0.894 0.894 0.894 0.894 0.894 0.894 0.894 0.894 0.894 0.894 0.894 0.894 0.894 0.894 0.894 0.894 0.894 0.627 0.627 0.627 0.627 0.627 0.627 0.627 0.627 0.627 0.627 0.627 0.627 0.188 0.188 0.188 0.188 0.188 0.188 0.188 0.188 0.188 0.188 0.188 0.188 0.188 0.188 0.188 0.188 0.188 0.188 0.29 0.29 0.29 0.29 0.29 0.29 0.29 0.29 0.29 0.29 0.29 0.29 0.29 0.29 0.29 0.29 0.376 0.376 0.376 0.376 0.376 0.376 0.565 0.565 0.565 0.565 0.565 0.565 0.565 0.565 0.784 0.784 0.784 0.784 0.784 0.784 0.784 0.784 0.784 0.784 1 1 1 1 1 1 1 1 1 1 1 1 1 1 1 1 1 1 1 1 1 1 1 1 1 1"/><feFuncB type="discrete" tableValues="0.549 0.549 0.549 0.549 0.549 0.549 0.549 0.549 0.549 0.549 0.549 0.549 0.549 0.549 0.549 0.549 0.549 0.549 0.549 0.549 0.549 0.549 0.549 0.549 0.549 0.549 0.549 0.549 0.549 0.549 0.549 0.549 0.549 0.549 0.549 0.549 0.549 0.549 0.549 0.549 0.549 0.549 0.549 0.549 0.549 0.549 0.549 0.549 0.549 0.549 0.549 0.549 0.549 0.549 0.549 0.549 0.549 0.549 0.549 0.549 0.753 0.753 0.753 0.753 0.753 0.91 0.91 0.91 0.91 0.91 0.91 0.91 0.91 0.91 0.91 0.604 0.604 0.604 0.604 0.604 0.282 0.282 0.282 0.282 0.282 0.282 0 0 0 0 0 0 0 0 0 0 0 0 0 0 0 0 0 0 0 0 0 0 0 0 0 0 0 0 0 0 0.125 0.125 0.125 0.125 0.125 0.125 0.125 0.125 0.125 0.125 0.125 0.125 0.125 0.125 0.125 0.125 0.125 0.125 0.533 0.533 0.533 0.533 0.533 0.533 0.533 0.533 0.533 0.533 0.533 0.533 0.533 0.533 0.533 0.533 0.376 0.376 0.376 0.376 0.376 0.376 0.565 0.565 0.565 0.565 0.565 0.565 0.565 0.565 0.784 0.784 0.784 0.784 0.784 0.784 0.784 0.784 0.784 0.784 1 1 1 1 1 1 1 1 1 1 1 1 1 1 1 1 1 1 1 1 1 1 1 1 1 1"/></feComponentTransfer>
<feComposite in="c0" in2="c1" operator="arithmetic" k1="0" k2="0.5000" k3="0.5000" k4="0" result="a1"/>
<feComposite in="a1" in2="c2" operator="arithmetic" k1="0" k2="0.6667" k3="0.3333" k4="0" result="a2"/>
<feConvolveMatrix in="a2" order="3" kernelMatrix="0.0019 0.0439 0.0019 0.0439 1 0.0439 0.0019 0.0439 0.0019" divisor="1.1835" edgeMode="duplicate" preserveAlpha="true"/>
</filter>
<filter id="nzb" x="0" y="0" width="100%" height="100%" color-interpolation-filters="sRGB">
<feOffset in="SourceGraphic" dx="0" dy="0" result="b"/>
<feTurbulence type="fractalNoise" baseFrequency="0.380" numOctaves="2" seed="11" result="n0"/>
<feColorMatrix in="n0" type="matrix" values="1 0 0 0 0 1 0 0 0 0 1 0 0 0 0 0 0 0 0 1" result="g0"/>
<feComposite in="g0" in2="b" operator="arithmetic" k1="0" k2="0.48" k3="1" k4="-0.240" result="s0"/>
<feComponentTransfer in="s0" result="c0"><feFuncR type="discrete" tableValues="0.0431 0.0431 0.0431 0.0431 0.0431 0.0431 0.0431 0.0431 0.0431 0.0431 0.0431 0.0431 0.0431 0.0431 0.0431 0.0431 0.0431 0.0431 0.0431 0.0431 0.0431 0.0431 0.0431 0.0431 0.0431 0.0431 0.0431 0.0431 0.0431 0.0431 0.0431 0.0431 0.0431 0.0431 0.0431 0.0431 0.0431 0.0431 0.0431 0.0431 0.0431 0.0431 0.0431 0.0431 0.0431 0.0431 0.0431 0.0431 0.0431 0.0431 0.0431 0.0431 0.0431 0.0431 0.0431 0.0431 0.0431 0.0431 0.0431 0.0431 0.0824 0.0824 0.0824 0.0824 0.0824 0.165 0.165 0.165 0.165 0.165 0.235 0.235 0.235 0.235 0.235 0.125 0.125 0.125 0.125 0.125 0.0941 0.0941 0.0941 0.0941 0.0941 0.0941 0.973 0.973 0.973 0.973 0.973 0.973 0.973 0.973 0.973 0.973 0.973 0.973 0.973 0.973 0.973 0.973 0.973 0.973 0.973 0.973 0.973 0.973 0.973 0.973 0.973 0.973 0.973 0.973 0.973 0.973 0.941 0.941 0.941 0.941 0.941 0.941 0.941 0.941 0.941 0.941 0.941 0.941 0.941 0.941 0.941 0.941 0.941 0.941 0.941 0.941 0.941 0.941 0.941 0.941 0.941 0.941 0.941 0.941 0.941 0.941 0.941 0.941 0.941 0.941 0.376 0.376 0.376 0.376 0.376 0.376 0.565 0.565 0.565 0.565 0.565 0.565 0.565 0.565 0.784 0.784 0.784 0.784 0.784 0.784 0.784 0.784 0.784 0.784 1 1 1 1 1 1 1 1 1 1 1 1 1 1 1 1 1 1 1 1 1 1 1 1 1 1"/><feFuncG type="discrete" tableValues="0.196 0.196 0.196 0.196 0.196 0.196 0.196 0.196 0.196 0.196 0.196 0.196 0.196 0.196 0.196 0.196 0.196 0.196 0.196 0.196 0.196 0.196 0.196 0.196 0.196 0.196 0.196 0.196 0.196 0.196 0.196 0.196 0.196 0.196 0.196 0.196 0.196 0.196 0.196 0.196 0.196 0.196 0.196 0.196 0.196 0.196 0.196 0.196 0.196 0.196 0.196 0.196 0.196 0.196 0.196 0.196 0.196 0.196 0.196 0.196 0.376 0.376 0.376 0.376 0.376 0.627 0.627 0.627 0.627 0.627 0.784 0.784 0.784 0.784 0.784 0.69 0.69 0.69 0.69 0.69 0.596 0.596 0.596 0.596 0.596 0.596 0.894 0.894 0.894 0.894 0.894 0.894 0.894 0.894 0.894 0.894 0.894 0.894 0.894 0.894 0.894 0.894 0.894 0.894 0.627 0.627 0.627 0.627 0.627 0.627 0.627 0.627 0.627 0.627 0.627 0.627 0.188 0.188 0.188 0.188 0.188 0.188 0.188 0.188 0.188 0.188 0.188 0.188 0.188 0.188 0.188 0.188 0.188 0.188 0.29 0.29 0.29 0.29 0.29 0.29 0.29 0.29 0.29 0.29 0.29 0.29 0.29 0.29 0.29 0.29 0.376 0.376 0.376 0.376 0.376 0.376 0.565 0.565 0.565 0.565 0.565 0.565 0.565 0.565 0.784 0.784 0.784 0.784 0.784 0.784 0.784 0.784 0.784 0.784 1 1 1 1 1 1 1 1 1 1 1 1 1 1 1 1 1 1 1 1 1 1 1 1 1 1"/><feFuncB type="discrete" tableValues="0.549 0.549 0.549 0.549 0.549 0.549 0.549 0.549 0.549 0.549 0.549 0.549 0.549 0.549 0.549 0.549 0.549 0.549 0.549 0.549 0.549 0.549 0.549 0.549 0.549 0.549 0.549 0.549 0.549 0.549 0.549 0.549 0.549 0.549 0.549 0.549 0.549 0.549 0.549 0.549 0.549 0.549 0.549 0.549 0.549 0.549 0.549 0.549 0.549 0.549 0.549 0.549 0.549 0.549 0.549 0.549 0.549 0.549 0.549 0.549 0.753 0.753 0.753 0.753 0.753 0.91 0.91 0.91 0.91 0.91 0.91 0.91 0.91 0.91 0.91 0.604 0.604 0.604 0.604 0.604 0.282 0.282 0.282 0.282 0.282 0.282 0 0 0 0 0 0 0 0 0 0 0 0 0 0 0 0 0 0 0 0 0 0 0 0 0 0 0 0 0 0 0.125 0.125 0.125 0.125 0.125 0.125 0.125 0.125 0.125 0.125 0.125 0.125 0.125 0.125 0.125 0.125 0.125 0.125 0.533 0.533 0.533 0.533 0.533 0.533 0.533 0.533 0.533 0.533 0.533 0.533 0.533 0.533 0.533 0.533 0.376 0.376 0.376 0.376 0.376 0.376 0.565 0.565 0.565 0.565 0.565 0.565 0.565 0.565 0.784 0.784 0.784 0.784 0.784 0.784 0.784 0.784 0.784 0.784 1 1 1 1 1 1 1 1 1 1 1 1 1 1 1 1 1 1 1 1 1 1 1 1 1 1"/></feComponentTransfer>
<feColorMatrix in="n0" type="matrix" values="0 1 0 0 0 0 1 0 0 0 0 1 0 0 0 0 0 0 0 1" result="g1"/>
<feComposite in="g1" in2="b" operator="arithmetic" k1="0" k2="0.48" k3="1" k4="-0.240" result="s1"/>
<feComponentTransfer in="s1" result="c1"><feFuncR type="discrete" tableValues="0.0431 0.0431 0.0431 0.0431 0.0431 0.0431 0.0431 0.0431 0.0431 0.0431 0.0431 0.0431 0.0431 0.0431 0.0431 0.0431 0.0431 0.0431 0.0431 0.0431 0.0431 0.0431 0.0431 0.0431 0.0431 0.0431 0.0431 0.0431 0.0431 0.0431 0.0431 0.0431 0.0431 0.0431 0.0431 0.0431 0.0431 0.0431 0.0431 0.0431 0.0431 0.0431 0.0431 0.0431 0.0431 0.0431 0.0431 0.0431 0.0431 0.0431 0.0431 0.0431 0.0431 0.0431 0.0431 0.0431 0.0431 0.0431 0.0431 0.0431 0.0824 0.0824 0.0824 0.0824 0.0824 0.165 0.165 0.165 0.165 0.165 0.235 0.235 0.235 0.235 0.235 0.125 0.125 0.125 0.125 0.125 0.0941 0.0941 0.0941 0.0941 0.0941 0.0941 0.973 0.973 0.973 0.973 0.973 0.973 0.973 0.973 0.973 0.973 0.973 0.973 0.973 0.973 0.973 0.973 0.973 0.973 0.973 0.973 0.973 0.973 0.973 0.973 0.973 0.973 0.973 0.973 0.973 0.973 0.941 0.941 0.941 0.941 0.941 0.941 0.941 0.941 0.941 0.941 0.941 0.941 0.941 0.941 0.941 0.941 0.941 0.941 0.941 0.941 0.941 0.941 0.941 0.941 0.941 0.941 0.941 0.941 0.941 0.941 0.941 0.941 0.941 0.941 0.376 0.376 0.376 0.376 0.376 0.376 0.565 0.565 0.565 0.565 0.565 0.565 0.565 0.565 0.784 0.784 0.784 0.784 0.784 0.784 0.784 0.784 0.784 0.784 1 1 1 1 1 1 1 1 1 1 1 1 1 1 1 1 1 1 1 1 1 1 1 1 1 1"/><feFuncG type="discrete" tableValues="0.196 0.196 0.196 0.196 0.196 0.196 0.196 0.196 0.196 0.196 0.196 0.196 0.196 0.196 0.196 0.196 0.196 0.196 0.196 0.196 0.196 0.196 0.196 0.196 0.196 0.196 0.196 0.196 0.196 0.196 0.196 0.196 0.196 0.196 0.196 0.196 0.196 0.196 0.196 0.196 0.196 0.196 0.196 0.196 0.196 0.196 0.196 0.196 0.196 0.196 0.196 0.196 0.196 0.196 0.196 0.196 0.196 0.196 0.196 0.196 0.376 0.376 0.376 0.376 0.376 0.627 0.627 0.627 0.627 0.627 0.784 0.784 0.784 0.784 0.784 0.69 0.69 0.69 0.69 0.69 0.596 0.596 0.596 0.596 0.596 0.596 0.894 0.894 0.894 0.894 0.894 0.894 0.894 0.894 0.894 0.894 0.894 0.894 0.894 0.894 0.894 0.894 0.894 0.894 0.627 0.627 0.627 0.627 0.627 0.627 0.627 0.627 0.627 0.627 0.627 0.627 0.188 0.188 0.188 0.188 0.188 0.188 0.188 0.188 0.188 0.188 0.188 0.188 0.188 0.188 0.188 0.188 0.188 0.188 0.29 0.29 0.29 0.29 0.29 0.29 0.29 0.29 0.29 0.29 0.29 0.29 0.29 0.29 0.29 0.29 0.376 0.376 0.376 0.376 0.376 0.376 0.565 0.565 0.565 0.565 0.565 0.565 0.565 0.565 0.784 0.784 0.784 0.784 0.784 0.784 0.784 0.784 0.784 0.784 1 1 1 1 1 1 1 1 1 1 1 1 1 1 1 1 1 1 1 1 1 1 1 1 1 1"/><feFuncB type="discrete" tableValues="0.549 0.549 0.549 0.549 0.549 0.549 0.549 0.549 0.549 0.549 0.549 0.549 0.549 0.549 0.549 0.549 0.549 0.549 0.549 0.549 0.549 0.549 0.549 0.549 0.549 0.549 0.549 0.549 0.549 0.549 0.549 0.549 0.549 0.549 0.549 0.549 0.549 0.549 0.549 0.549 0.549 0.549 0.549 0.549 0.549 0.549 0.549 0.549 0.549 0.549 0.549 0.549 0.549 0.549 0.549 0.549 0.549 0.549 0.549 0.549 0.753 0.753 0.753 0.753 0.753 0.91 0.91 0.91 0.91 0.91 0.91 0.91 0.91 0.91 0.91 0.604 0.604 0.604 0.604 0.604 0.282 0.282 0.282 0.282 0.282 0.282 0 0 0 0 0 0 0 0 0 0 0 0 0 0 0 0 0 0 0 0 0 0 0 0 0 0 0 0 0 0 0.125 0.125 0.125 0.125 0.125 0.125 0.125 0.125 0.125 0.125 0.125 0.125 0.125 0.125 0.125 0.125 0.125 0.125 0.533 0.533 0.533 0.533 0.533 0.533 0.533 0.533 0.533 0.533 0.533 0.533 0.533 0.533 0.533 0.533 0.376 0.376 0.376 0.376 0.376 0.376 0.565 0.565 0.565 0.565 0.565 0.565 0.565 0.565 0.784 0.784 0.784 0.784 0.784 0.784 0.784 0.784 0.784 0.784 1 1 1 1 1 1 1 1 1 1 1 1 1 1 1 1 1 1 1 1 1 1 1 1 1 1"/></feComponentTransfer>
<feColorMatrix in="n0" type="matrix" values="0 0 1 0 0 0 0 1 0 0 0 0 1 0 0 0 0 0 0 1" result="g2"/>
<feComposite in="g2" in2="b" operator="arithmetic" k1="0" k2="0.48" k3="1" k4="-0.240" result="s2"/>
<feComponentTransfer in="s2" result="c2"><feFuncR type="discrete" tableValues="0.0431 0.0431 0.0431 0.0431 0.0431 0.0431 0.0431 0.0431 0.0431 0.0431 0.0431 0.0431 0.0431 0.0431 0.0431 0.0431 0.0431 0.0431 0.0431 0.0431 0.0431 0.0431 0.0431 0.0431 0.0431 0.0431 0.0431 0.0431 0.0431 0.0431 0.0431 0.0431 0.0431 0.0431 0.0431 0.0431 0.0431 0.0431 0.0431 0.0431 0.0431 0.0431 0.0431 0.0431 0.0431 0.0431 0.0431 0.0431 0.0431 0.0431 0.0431 0.0431 0.0431 0.0431 0.0431 0.0431 0.0431 0.0431 0.0431 0.0431 0.0824 0.0824 0.0824 0.0824 0.0824 0.165 0.165 0.165 0.165 0.165 0.235 0.235 0.235 0.235 0.235 0.125 0.125 0.125 0.125 0.125 0.0941 0.0941 0.0941 0.0941 0.0941 0.0941 0.973 0.973 0.973 0.973 0.973 0.973 0.973 0.973 0.973 0.973 0.973 0.973 0.973 0.973 0.973 0.973 0.973 0.973 0.973 0.973 0.973 0.973 0.973 0.973 0.973 0.973 0.973 0.973 0.973 0.973 0.941 0.941 0.941 0.941 0.941 0.941 0.941 0.941 0.941 0.941 0.941 0.941 0.941 0.941 0.941 0.941 0.941 0.941 0.941 0.941 0.941 0.941 0.941 0.941 0.941 0.941 0.941 0.941 0.941 0.941 0.941 0.941 0.941 0.941 0.376 0.376 0.376 0.376 0.376 0.376 0.565 0.565 0.565 0.565 0.565 0.565 0.565 0.565 0.784 0.784 0.784 0.784 0.784 0.784 0.784 0.784 0.784 0.784 1 1 1 1 1 1 1 1 1 1 1 1 1 1 1 1 1 1 1 1 1 1 1 1 1 1"/><feFuncG type="discrete" tableValues="0.196 0.196 0.196 0.196 0.196 0.196 0.196 0.196 0.196 0.196 0.196 0.196 0.196 0.196 0.196 0.196 0.196 0.196 0.196 0.196 0.196 0.196 0.196 0.196 0.196 0.196 0.196 0.196 0.196 0.196 0.196 0.196 0.196 0.196 0.196 0.196 0.196 0.196 0.196 0.196 0.196 0.196 0.196 0.196 0.196 0.196 0.196 0.196 0.196 0.196 0.196 0.196 0.196 0.196 0.196 0.196 0.196 0.196 0.196 0.196 0.376 0.376 0.376 0.376 0.376 0.627 0.627 0.627 0.627 0.627 0.784 0.784 0.784 0.784 0.784 0.69 0.69 0.69 0.69 0.69 0.596 0.596 0.596 0.596 0.596 0.596 0.894 0.894 0.894 0.894 0.894 0.894 0.894 0.894 0.894 0.894 0.894 0.894 0.894 0.894 0.894 0.894 0.894 0.894 0.627 0.627 0.627 0.627 0.627 0.627 0.627 0.627 0.627 0.627 0.627 0.627 0.188 0.188 0.188 0.188 0.188 0.188 0.188 0.188 0.188 0.188 0.188 0.188 0.188 0.188 0.188 0.188 0.188 0.188 0.29 0.29 0.29 0.29 0.29 0.29 0.29 0.29 0.29 0.29 0.29 0.29 0.29 0.29 0.29 0.29 0.376 0.376 0.376 0.376 0.376 0.376 0.565 0.565 0.565 0.565 0.565 0.565 0.565 0.565 0.784 0.784 0.784 0.784 0.784 0.784 0.784 0.784 0.784 0.784 1 1 1 1 1 1 1 1 1 1 1 1 1 1 1 1 1 1 1 1 1 1 1 1 1 1"/><feFuncB type="discrete" tableValues="0.549 0.549 0.549 0.549 0.549 0.549 0.549 0.549 0.549 0.549 0.549 0.549 0.549 0.549 0.549 0.549 0.549 0.549 0.549 0.549 0.549 0.549 0.549 0.549 0.549 0.549 0.549 0.549 0.549 0.549 0.549 0.549 0.549 0.549 0.549 0.549 0.549 0.549 0.549 0.549 0.549 0.549 0.549 0.549 0.549 0.549 0.549 0.549 0.549 0.549 0.549 0.549 0.549 0.549 0.549 0.549 0.549 0.549 0.549 0.549 0.753 0.753 0.753 0.753 0.753 0.91 0.91 0.91 0.91 0.91 0.91 0.91 0.91 0.91 0.91 0.604 0.604 0.604 0.604 0.604 0.282 0.282 0.282 0.282 0.282 0.282 0 0 0 0 0 0 0 0 0 0 0 0 0 0 0 0 0 0 0 0 0 0 0 0 0 0 0 0 0 0 0.125 0.125 0.125 0.125 0.125 0.125 0.125 0.125 0.125 0.125 0.125 0.125 0.125 0.125 0.125 0.125 0.125 0.125 0.533 0.533 0.533 0.533 0.533 0.533 0.533 0.533 0.533 0.533 0.533 0.533 0.533 0.533 0.533 0.533 0.376 0.376 0.376 0.376 0.376 0.376 0.565 0.565 0.565 0.565 0.565 0.565 0.565 0.565 0.784 0.784 0.784 0.784 0.784 0.784 0.784 0.784 0.784 0.784 1 1 1 1 1 1 1 1 1 1 1 1 1 1 1 1 1 1 1 1 1 1 1 1 1 1"/></feComponentTransfer>
<feComposite in="c0" in2="c1" operator="arithmetic" k1="0" k2="0.5000" k3="0.5000" k4="0" result="a1"/>
<feComposite in="a1" in2="c2" operator="arithmetic" k1="0" k2="0.6667" k3="0.3333" k4="0" result="a2"/>
<feConvolveMatrix in="a2" order="3" kernelMatrix="0.0019 0.0439 0.0019 0.0439 1 0.0439 0.0019 0.0439 0.0019" divisor="1.1835" edgeMode="duplicate" preserveAlpha="true"/>
</filter>
<filter id="nzt" x="0" y="0" width="100%" height="100%" color-interpolation-filters="sRGB">
<feOffset in="SourceGraphic" dx="0" dy="0" result="b"/>
<feTurbulence type="fractalNoise" baseFrequency="0.600" numOctaves="2" seed="7" result="n0"/>
<feColorMatrix in="n0" type="matrix" values="1 0 0 0 0 1 0 0 0 0 1 0 0 0 0 0 0 0 0 1" result="g0"/>
<feComposite in="g0" in2="b" operator="arithmetic" k1="0" k2="0.72" k3="1" k4="-0.360" result="s0"/>
<feComponentTransfer in="s0" result="c0"><feFuncR type="discrete" tableValues="0.0431 0.0431 0.0431 0.0431 0.0431 0.0431 0.0431 0.0431 0.0431 0.0431 0.0431 0.0431 0.0431 0.0431 0.0431 0.0431 0.0431 0.0431 0.0431 0.0431 0.0431 0.0431 0.0431 0.0431 0.0431 0.0431 0.0431 0.0431 0.0431 0.0431 0.0431 0.0431 0.0431 0.0431 0.0431 0.0431 0.0431 0.0431 0.0431 0.0431 0.0431 0.0431 0.0431 0.0431 0.0431 0.0431 0.0431 0.0431 0.0431 0.0431 0.0431 0.0431 0.0431 0.0431 0.0431 0.0431 0.0431 0.0431 0.0431 0.0431 0.0824 0.0824 0.0824 0.0824 0.0824 0.165 0.165 0.165 0.165 0.165 0.235 0.235 0.235 0.235 0.235 0.125 0.125 0.125 0.125 0.125 0.0941 0.0941 0.0941 0.0941 0.0941 0.0941 0.973 0.973 0.973 0.973 0.973 0.973 0.973 0.973 0.973 0.973 0.973 0.973 0.973 0.973 0.973 0.973 0.973 0.973 0.973 0.973 0.973 0.973 0.973 0.973 0.973 0.973 0.973 0.973 0.973 0.973 0.941 0.941 0.941 0.941 0.941 0.941 0.941 0.941 0.941 0.941 0.941 0.941 0.941 0.941 0.941 0.941 0.941 0.941 0.941 0.941 0.941 0.941 0.941 0.941 0.941 0.941 0.941 0.941 0.941 0.941 0.941 0.941 0.941 0.941 0.376 0.376 0.376 0.376 0.376 0.376 0.565 0.565 0.565 0.565 0.565 0.565 0.565 0.565 0.784 0.784 0.784 0.784 0.784 0.784 0.784 0.784 0.784 0.784 1 1 1 1 1 1 1 1 1 1 1 1 1 1 1 1 1 1 1 1 1 1 1 1 1 1"/><feFuncG type="discrete" tableValues="0.196 0.196 0.196 0.196 0.196 0.196 0.196 0.196 0.196 0.196 0.196 0.196 0.196 0.196 0.196 0.196 0.196 0.196 0.196 0.196 0.196 0.196 0.196 0.196 0.196 0.196 0.196 0.196 0.196 0.196 0.196 0.196 0.196 0.196 0.196 0.196 0.196 0.196 0.196 0.196 0.196 0.196 0.196 0.196 0.196 0.196 0.196 0.196 0.196 0.196 0.196 0.196 0.196 0.196 0.196 0.196 0.196 0.196 0.196 0.196 0.376 0.376 0.376 0.376 0.376 0.627 0.627 0.627 0.627 0.627 0.784 0.784 0.784 0.784 0.784 0.69 0.69 0.69 0.69 0.69 0.596 0.596 0.596 0.596 0.596 0.596 0.894 0.894 0.894 0.894 0.894 0.894 0.894 0.894 0.894 0.894 0.894 0.894 0.894 0.894 0.894 0.894 0.894 0.894 0.627 0.627 0.627 0.627 0.627 0.627 0.627 0.627 0.627 0.627 0.627 0.627 0.188 0.188 0.188 0.188 0.188 0.188 0.188 0.188 0.188 0.188 0.188 0.188 0.188 0.188 0.188 0.188 0.188 0.188 0.29 0.29 0.29 0.29 0.29 0.29 0.29 0.29 0.29 0.29 0.29 0.29 0.29 0.29 0.29 0.29 0.376 0.376 0.376 0.376 0.376 0.376 0.565 0.565 0.565 0.565 0.565 0.565 0.565 0.565 0.784 0.784 0.784 0.784 0.784 0.784 0.784 0.784 0.784 0.784 1 1 1 1 1 1 1 1 1 1 1 1 1 1 1 1 1 1 1 1 1 1 1 1 1 1"/><feFuncB type="discrete" tableValues="0.549 0.549 0.549 0.549 0.549 0.549 0.549 0.549 0.549 0.549 0.549 0.549 0.549 0.549 0.549 0.549 0.549 0.549 0.549 0.549 0.549 0.549 0.549 0.549 0.549 0.549 0.549 0.549 0.549 0.549 0.549 0.549 0.549 0.549 0.549 0.549 0.549 0.549 0.549 0.549 0.549 0.549 0.549 0.549 0.549 0.549 0.549 0.549 0.549 0.549 0.549 0.549 0.549 0.549 0.549 0.549 0.549 0.549 0.549 0.549 0.753 0.753 0.753 0.753 0.753 0.91 0.91 0.91 0.91 0.91 0.91 0.91 0.91 0.91 0.91 0.604 0.604 0.604 0.604 0.604 0.282 0.282 0.282 0.282 0.282 0.282 0 0 0 0 0 0 0 0 0 0 0 0 0 0 0 0 0 0 0 0 0 0 0 0 0 0 0 0 0 0 0.125 0.125 0.125 0.125 0.125 0.125 0.125 0.125 0.125 0.125 0.125 0.125 0.125 0.125 0.125 0.125 0.125 0.125 0.533 0.533 0.533 0.533 0.533 0.533 0.533 0.533 0.533 0.533 0.533 0.533 0.533 0.533 0.533 0.533 0.376 0.376 0.376 0.376 0.376 0.376 0.565 0.565 0.565 0.565 0.565 0.565 0.565 0.565 0.784 0.784 0.784 0.784 0.784 0.784 0.784 0.784 0.784 0.784 1 1 1 1 1 1 1 1 1 1 1 1 1 1 1 1 1 1 1 1 1 1 1 1 1 1"/></feComponentTransfer>
<feColorMatrix in="n0" type="matrix" values="0 1 0 0 0 0 1 0 0 0 0 1 0 0 0 0 0 0 0 1" result="g1"/>
<feComposite in="g1" in2="b" operator="arithmetic" k1="0" k2="0.72" k3="1" k4="-0.360" result="s1"/>
<feComponentTransfer in="s1" result="c1"><feFuncR type="discrete" tableValues="0.0431 0.0431 0.0431 0.0431 0.0431 0.0431 0.0431 0.0431 0.0431 0.0431 0.0431 0.0431 0.0431 0.0431 0.0431 0.0431 0.0431 0.0431 0.0431 0.0431 0.0431 0.0431 0.0431 0.0431 0.0431 0.0431 0.0431 0.0431 0.0431 0.0431 0.0431 0.0431 0.0431 0.0431 0.0431 0.0431 0.0431 0.0431 0.0431 0.0431 0.0431 0.0431 0.0431 0.0431 0.0431 0.0431 0.0431 0.0431 0.0431 0.0431 0.0431 0.0431 0.0431 0.0431 0.0431 0.0431 0.0431 0.0431 0.0431 0.0431 0.0824 0.0824 0.0824 0.0824 0.0824 0.165 0.165 0.165 0.165 0.165 0.235 0.235 0.235 0.235 0.235 0.125 0.125 0.125 0.125 0.125 0.0941 0.0941 0.0941 0.0941 0.0941 0.0941 0.973 0.973 0.973 0.973 0.973 0.973 0.973 0.973 0.973 0.973 0.973 0.973 0.973 0.973 0.973 0.973 0.973 0.973 0.973 0.973 0.973 0.973 0.973 0.973 0.973 0.973 0.973 0.973 0.973 0.973 0.941 0.941 0.941 0.941 0.941 0.941 0.941 0.941 0.941 0.941 0.941 0.941 0.941 0.941 0.941 0.941 0.941 0.941 0.941 0.941 0.941 0.941 0.941 0.941 0.941 0.941 0.941 0.941 0.941 0.941 0.941 0.941 0.941 0.941 0.376 0.376 0.376 0.376 0.376 0.376 0.565 0.565 0.565 0.565 0.565 0.565 0.565 0.565 0.784 0.784 0.784 0.784 0.784 0.784 0.784 0.784 0.784 0.784 1 1 1 1 1 1 1 1 1 1 1 1 1 1 1 1 1 1 1 1 1 1 1 1 1 1"/><feFuncG type="discrete" tableValues="0.196 0.196 0.196 0.196 0.196 0.196 0.196 0.196 0.196 0.196 0.196 0.196 0.196 0.196 0.196 0.196 0.196 0.196 0.196 0.196 0.196 0.196 0.196 0.196 0.196 0.196 0.196 0.196 0.196 0.196 0.196 0.196 0.196 0.196 0.196 0.196 0.196 0.196 0.196 0.196 0.196 0.196 0.196 0.196 0.196 0.196 0.196 0.196 0.196 0.196 0.196 0.196 0.196 0.196 0.196 0.196 0.196 0.196 0.196 0.196 0.376 0.376 0.376 0.376 0.376 0.627 0.627 0.627 0.627 0.627 0.784 0.784 0.784 0.784 0.784 0.69 0.69 0.69 0.69 0.69 0.596 0.596 0.596 0.596 0.596 0.596 0.894 0.894 0.894 0.894 0.894 0.894 0.894 0.894 0.894 0.894 0.894 0.894 0.894 0.894 0.894 0.894 0.894 0.894 0.627 0.627 0.627 0.627 0.627 0.627 0.627 0.627 0.627 0.627 0.627 0.627 0.188 0.188 0.188 0.188 0.188 0.188 0.188 0.188 0.188 0.188 0.188 0.188 0.188 0.188 0.188 0.188 0.188 0.188 0.29 0.29 0.29 0.29 0.29 0.29 0.29 0.29 0.29 0.29 0.29 0.29 0.29 0.29 0.29 0.29 0.376 0.376 0.376 0.376 0.376 0.376 0.565 0.565 0.565 0.565 0.565 0.565 0.565 0.565 0.784 0.784 0.784 0.784 0.784 0.784 0.784 0.784 0.784 0.784 1 1 1 1 1 1 1 1 1 1 1 1 1 1 1 1 1 1 1 1 1 1 1 1 1 1"/><feFuncB type="discrete" tableValues="0.549 0.549 0.549 0.549 0.549 0.549 0.549 0.549 0.549 0.549 0.549 0.549 0.549 0.549 0.549 0.549 0.549 0.549 0.549 0.549 0.549 0.549 0.549 0.549 0.549 0.549 0.549 0.549 0.549 0.549 0.549 0.549 0.549 0.549 0.549 0.549 0.549 0.549 0.549 0.549 0.549 0.549 0.549 0.549 0.549 0.549 0.549 0.549 0.549 0.549 0.549 0.549 0.549 0.549 0.549 0.549 0.549 0.549 0.549 0.549 0.753 0.753 0.753 0.753 0.753 0.91 0.91 0.91 0.91 0.91 0.91 0.91 0.91 0.91 0.91 0.604 0.604 0.604 0.604 0.604 0.282 0.282 0.282 0.282 0.282 0.282 0 0 0 0 0 0 0 0 0 0 0 0 0 0 0 0 0 0 0 0 0 0 0 0 0 0 0 0 0 0 0.125 0.125 0.125 0.125 0.125 0.125 0.125 0.125 0.125 0.125 0.125 0.125 0.125 0.125 0.125 0.125 0.125 0.125 0.533 0.533 0.533 0.533 0.533 0.533 0.533 0.533 0.533 0.533 0.533 0.533 0.533 0.533 0.533 0.533 0.376 0.376 0.376 0.376 0.376 0.376 0.565 0.565 0.565 0.565 0.565 0.565 0.565 0.565 0.784 0.784 0.784 0.784 0.784 0.784 0.784 0.784 0.784 0.784 1 1 1 1 1 1 1 1 1 1 1 1 1 1 1 1 1 1 1 1 1 1 1 1 1 1"/></feComponentTransfer>
<feColorMatrix in="n0" type="matrix" values="0 0 1 0 0 0 0 1 0 0 0 0 1 0 0 0 0 0 0 1" result="g2"/>
<feComposite in="g2" in2="b" operator="arithmetic" k1="0" k2="0.72" k3="1" k4="-0.360" result="s2"/>
<feComponentTransfer in="s2" result="c2"><feFuncR type="discrete" tableValues="0.0431 0.0431 0.0431 0.0431 0.0431 0.0431 0.0431 0.0431 0.0431 0.0431 0.0431 0.0431 0.0431 0.0431 0.0431 0.0431 0.0431 0.0431 0.0431 0.0431 0.0431 0.0431 0.0431 0.0431 0.0431 0.0431 0.0431 0.0431 0.0431 0.0431 0.0431 0.0431 0.0431 0.0431 0.0431 0.0431 0.0431 0.0431 0.0431 0.0431 0.0431 0.0431 0.0431 0.0431 0.0431 0.0431 0.0431 0.0431 0.0431 0.0431 0.0431 0.0431 0.0431 0.0431 0.0431 0.0431 0.0431 0.0431 0.0431 0.0431 0.0824 0.0824 0.0824 0.0824 0.0824 0.165 0.165 0.165 0.165 0.165 0.235 0.235 0.235 0.235 0.235 0.125 0.125 0.125 0.125 0.125 0.0941 0.0941 0.0941 0.0941 0.0941 0.0941 0.973 0.973 0.973 0.973 0.973 0.973 0.973 0.973 0.973 0.973 0.973 0.973 0.973 0.973 0.973 0.973 0.973 0.973 0.973 0.973 0.973 0.973 0.973 0.973 0.973 0.973 0.973 0.973 0.973 0.973 0.941 0.941 0.941 0.941 0.941 0.941 0.941 0.941 0.941 0.941 0.941 0.941 0.941 0.941 0.941 0.941 0.941 0.941 0.941 0.941 0.941 0.941 0.941 0.941 0.941 0.941 0.941 0.941 0.941 0.941 0.941 0.941 0.941 0.941 0.376 0.376 0.376 0.376 0.376 0.376 0.565 0.565 0.565 0.565 0.565 0.565 0.565 0.565 0.784 0.784 0.784 0.784 0.784 0.784 0.784 0.784 0.784 0.784 1 1 1 1 1 1 1 1 1 1 1 1 1 1 1 1 1 1 1 1 1 1 1 1 1 1"/><feFuncG type="discrete" tableValues="0.196 0.196 0.196 0.196 0.196 0.196 0.196 0.196 0.196 0.196 0.196 0.196 0.196 0.196 0.196 0.196 0.196 0.196 0.196 0.196 0.196 0.196 0.196 0.196 0.196 0.196 0.196 0.196 0.196 0.196 0.196 0.196 0.196 0.196 0.196 0.196 0.196 0.196 0.196 0.196 0.196 0.196 0.196 0.196 0.196 0.196 0.196 0.196 0.196 0.196 0.196 0.196 0.196 0.196 0.196 0.196 0.196 0.196 0.196 0.196 0.376 0.376 0.376 0.376 0.376 0.627 0.627 0.627 0.627 0.627 0.784 0.784 0.784 0.784 0.784 0.69 0.69 0.69 0.69 0.69 0.596 0.596 0.596 0.596 0.596 0.596 0.894 0.894 0.894 0.894 0.894 0.894 0.894 0.894 0.894 0.894 0.894 0.894 0.894 0.894 0.894 0.894 0.894 0.894 0.627 0.627 0.627 0.627 0.627 0.627 0.627 0.627 0.627 0.627 0.627 0.627 0.188 0.188 0.188 0.188 0.188 0.188 0.188 0.188 0.188 0.188 0.188 0.188 0.188 0.188 0.188 0.188 0.188 0.188 0.29 0.29 0.29 0.29 0.29 0.29 0.29 0.29 0.29 0.29 0.29 0.29 0.29 0.29 0.29 0.29 0.376 0.376 0.376 0.376 0.376 0.376 0.565 0.565 0.565 0.565 0.565 0.565 0.565 0.565 0.784 0.784 0.784 0.784 0.784 0.784 0.784 0.784 0.784 0.784 1 1 1 1 1 1 1 1 1 1 1 1 1 1 1 1 1 1 1 1 1 1 1 1 1 1"/><feFuncB type="discrete" tableValues="0.549 0.549 0.549 0.549 0.549 0.549 0.549 0.549 0.549 0.549 0.549 0.549 0.549 0.549 0.549 0.549 0.549 0.549 0.549 0.549 0.549 0.549 0.549 0.549 0.549 0.549 0.549 0.549 0.549 0.549 0.549 0.549 0.549 0.549 0.549 0.549 0.549 0.549 0.549 0.549 0.549 0.549 0.549 0.549 0.549 0.549 0.549 0.549 0.549 0.549 0.549 0.549 0.549 0.549 0.549 0.549 0.549 0.549 0.549 0.549 0.753 0.753 0.753 0.753 0.753 0.91 0.91 0.91 0.91 0.91 0.91 0.91 0.91 0.91 0.91 0.604 0.604 0.604 0.604 0.604 0.282 0.282 0.282 0.282 0.282 0.282 0 0 0 0 0 0 0 0 0 0 0 0 0 0 0 0 0 0 0 0 0 0 0 0 0 0 0 0 0 0 0.125 0.125 0.125 0.125 0.125 0.125 0.125 0.125 0.125 0.125 0.125 0.125 0.125 0.125 0.125 0.125 0.125 0.125 0.533 0.533 0.533 0.533 0.533 0.533 0.533 0.533 0.533 0.533 0.533 0.533 0.533 0.533 0.533 0.533 0.376 0.376 0.376 0.376 0.376 0.376 0.565 0.565 0.565 0.565 0.565 0.565 0.565 0.565 0.784 0.784 0.784 0.784 0.784 0.784 0.784 0.784 0.784 0.784 1 1 1 1 1 1 1 1 1 1 1 1 1 1 1 1 1 1 1 1 1 1 1 1 1 1"/></feComponentTransfer>
<feComposite in="c0" in2="c1" operator="arithmetic" k1="0" k2="0.5000" k3="0.5000" k4="0" result="a1"/>
<feComposite in="a1" in2="c2" operator="arithmetic" k1="0" k2="0.6667" k3="0.3333" k4="0" result="a2"/>
<feConvolveMatrix in="a2" order="3" kernelMatrix="0.0000 0.0039 0.0000 0.0039 1 0.0039 0.0000 0.0039 0.0000" divisor="1.0155" edgeMode="duplicate" preserveAlpha="true"/>
</filter>
<filter id="nzm" x="0" y="0" width="100%" height="100%" color-interpolation-filters="sRGB">
<feOffset in="SourceGraphic" dx="0" dy="0" result="b"/>
<feTurbulence type="fractalNoise" baseFrequency="0.600" numOctaves="2" seed="9" result="n0"/>
<feColorMatrix in="n0" type="matrix" values="1 0 0 0 0 1 0 0 0 0 1 0 0 0 0 0 0 0 0 1" result="g0"/>
<feComposite in="g0" in2="b" operator="arithmetic" k1="0" k2="0.8" k3="1" k4="-0.400" result="s0"/>
<feComponentTransfer in="s0" result="c0"><feFuncR type="discrete" tableValues="0.0431 0.0431 0.0431 0.0431 0.0431 0.0431 0.0431 0.0431 0.0431 0.0431 0.0431 0.0431 0.0431 0.0431 0.0431 0.0431 0.0431 0.0431 0.0431 0.0431 0.0431 0.0431 0.0431 0.0431 0.0431 0.0431 0.0431 0.0431 0.0431 0.0431 0.0431 0.0431 0.0431 0.0431 0.0431 0.0431 0.0431 0.0431 0.0431 0.0431 0.0431 0.0431 0.0431 0.0431 0.0431 0.0431 0.0431 0.0431 0.0431 0.0431 0.0431 0.0431 0.0431 0.0431 0.0431 0.0431 0.0431 0.0431 0.0431 0.0431 0.0824 0.0824 0.0824 0.0824 0.0824 0.165 0.165 0.165 0.165 0.165 0.235 0.235 0.235 0.235 0.235 0.125 0.125 0.125 0.125 0.125 0.0941 0.0941 0.0941 0.0941 0.0941 0.0941 0.973 0.973 0.973 0.973 0.973 0.973 0.973 0.973 0.973 0.973 0.973 0.973 0.973 0.973 0.973 0.973 0.973 0.973 0.973 0.973 0.973 0.973 0.973 0.973 0.973 0.973 0.973 0.973 0.973 0.973 0.941 0.941 0.941 0.941 0.941 0.941 0.941 0.941 0.941 0.941 0.941 0.941 0.941 0.941 0.941 0.941 0.941 0.941 0.941 0.941 0.941 0.941 0.941 0.941 0.941 0.941 0.941 0.941 0.941 0.941 0.941 0.941 0.941 0.941 0.376 0.376 0.376 0.376 0.376 0.376 0.565 0.565 0.565 0.565 0.565 0.565 0.565 0.565 0.784 0.784 0.784 0.784 0.784 0.784 0.784 0.784 0.784 0.784 1 1 1 1 1 1 1 1 1 1 1 1 1 1 1 1 1 1 1 1 1 1 1 1 1 1"/><feFuncG type="discrete" tableValues="0.196 0.196 0.196 0.196 0.196 0.196 0.196 0.196 0.196 0.196 0.196 0.196 0.196 0.196 0.196 0.196 0.196 0.196 0.196 0.196 0.196 0.196 0.196 0.196 0.196 0.196 0.196 0.196 0.196 0.196 0.196 0.196 0.196 0.196 0.196 0.196 0.196 0.196 0.196 0.196 0.196 0.196 0.196 0.196 0.196 0.196 0.196 0.196 0.196 0.196 0.196 0.196 0.196 0.196 0.196 0.196 0.196 0.196 0.196 0.196 0.376 0.376 0.376 0.376 0.376 0.627 0.627 0.627 0.627 0.627 0.784 0.784 0.784 0.784 0.784 0.69 0.69 0.69 0.69 0.69 0.596 0.596 0.596 0.596 0.596 0.596 0.894 0.894 0.894 0.894 0.894 0.894 0.894 0.894 0.894 0.894 0.894 0.894 0.894 0.894 0.894 0.894 0.894 0.894 0.627 0.627 0.627 0.627 0.627 0.627 0.627 0.627 0.627 0.627 0.627 0.627 0.188 0.188 0.188 0.188 0.188 0.188 0.188 0.188 0.188 0.188 0.188 0.188 0.188 0.188 0.188 0.188 0.188 0.188 0.29 0.29 0.29 0.29 0.29 0.29 0.29 0.29 0.29 0.29 0.29 0.29 0.29 0.29 0.29 0.29 0.376 0.376 0.376 0.376 0.376 0.376 0.565 0.565 0.565 0.565 0.565 0.565 0.565 0.565 0.784 0.784 0.784 0.784 0.784 0.784 0.784 0.784 0.784 0.784 1 1 1 1 1 1 1 1 1 1 1 1 1 1 1 1 1 1 1 1 1 1 1 1 1 1"/><feFuncB type="discrete" tableValues="0.549 0.549 0.549 0.549 0.549 0.549 0.549 0.549 0.549 0.549 0.549 0.549 0.549 0.549 0.549 0.549 0.549 0.549 0.549 0.549 0.549 0.549 0.549 0.549 0.549 0.549 0.549 0.549 0.549 0.549 0.549 0.549 0.549 0.549 0.549 0.549 0.549 0.549 0.549 0.549 0.549 0.549 0.549 0.549 0.549 0.549 0.549 0.549 0.549 0.549 0.549 0.549 0.549 0.549 0.549 0.549 0.549 0.549 0.549 0.549 0.753 0.753 0.753 0.753 0.753 0.91 0.91 0.91 0.91 0.91 0.91 0.91 0.91 0.91 0.91 0.604 0.604 0.604 0.604 0.604 0.282 0.282 0.282 0.282 0.282 0.282 0 0 0 0 0 0 0 0 0 0 0 0 0 0 0 0 0 0 0 0 0 0 0 0 0 0 0 0 0 0 0.125 0.125 0.125 0.125 0.125 0.125 0.125 0.125 0.125 0.125 0.125 0.125 0.125 0.125 0.125 0.125 0.125 0.125 0.533 0.533 0.533 0.533 0.533 0.533 0.533 0.533 0.533 0.533 0.533 0.533 0.533 0.533 0.533 0.533 0.376 0.376 0.376 0.376 0.376 0.376 0.565 0.565 0.565 0.565 0.565 0.565 0.565 0.565 0.784 0.784 0.784 0.784 0.784 0.784 0.784 0.784 0.784 0.784 1 1 1 1 1 1 1 1 1 1 1 1 1 1 1 1 1 1 1 1 1 1 1 1 1 1"/></feComponentTransfer>
<feColorMatrix in="n0" type="matrix" values="0 1 0 0 0 0 1 0 0 0 0 1 0 0 0 0 0 0 0 1" result="g1"/>
<feComposite in="g1" in2="b" operator="arithmetic" k1="0" k2="0.8" k3="1" k4="-0.400" result="s1"/>
<feComponentTransfer in="s1" result="c1"><feFuncR type="discrete" tableValues="0.0431 0.0431 0.0431 0.0431 0.0431 0.0431 0.0431 0.0431 0.0431 0.0431 0.0431 0.0431 0.0431 0.0431 0.0431 0.0431 0.0431 0.0431 0.0431 0.0431 0.0431 0.0431 0.0431 0.0431 0.0431 0.0431 0.0431 0.0431 0.0431 0.0431 0.0431 0.0431 0.0431 0.0431 0.0431 0.0431 0.0431 0.0431 0.0431 0.0431 0.0431 0.0431 0.0431 0.0431 0.0431 0.0431 0.0431 0.0431 0.0431 0.0431 0.0431 0.0431 0.0431 0.0431 0.0431 0.0431 0.0431 0.0431 0.0431 0.0431 0.0824 0.0824 0.0824 0.0824 0.0824 0.165 0.165 0.165 0.165 0.165 0.235 0.235 0.235 0.235 0.235 0.125 0.125 0.125 0.125 0.125 0.0941 0.0941 0.0941 0.0941 0.0941 0.0941 0.973 0.973 0.973 0.973 0.973 0.973 0.973 0.973 0.973 0.973 0.973 0.973 0.973 0.973 0.973 0.973 0.973 0.973 0.973 0.973 0.973 0.973 0.973 0.973 0.973 0.973 0.973 0.973 0.973 0.973 0.941 0.941 0.941 0.941 0.941 0.941 0.941 0.941 0.941 0.941 0.941 0.941 0.941 0.941 0.941 0.941 0.941 0.941 0.941 0.941 0.941 0.941 0.941 0.941 0.941 0.941 0.941 0.941 0.941 0.941 0.941 0.941 0.941 0.941 0.376 0.376 0.376 0.376 0.376 0.376 0.565 0.565 0.565 0.565 0.565 0.565 0.565 0.565 0.784 0.784 0.784 0.784 0.784 0.784 0.784 0.784 0.784 0.784 1 1 1 1 1 1 1 1 1 1 1 1 1 1 1 1 1 1 1 1 1 1 1 1 1 1"/><feFuncG type="discrete" tableValues="0.196 0.196 0.196 0.196 0.196 0.196 0.196 0.196 0.196 0.196 0.196 0.196 0.196 0.196 0.196 0.196 0.196 0.196 0.196 0.196 0.196 0.196 0.196 0.196 0.196 0.196 0.196 0.196 0.196 0.196 0.196 0.196 0.196 0.196 0.196 0.196 0.196 0.196 0.196 0.196 0.196 0.196 0.196 0.196 0.196 0.196 0.196 0.196 0.196 0.196 0.196 0.196 0.196 0.196 0.196 0.196 0.196 0.196 0.196 0.196 0.376 0.376 0.376 0.376 0.376 0.627 0.627 0.627 0.627 0.627 0.784 0.784 0.784 0.784 0.784 0.69 0.69 0.69 0.69 0.69 0.596 0.596 0.596 0.596 0.596 0.596 0.894 0.894 0.894 0.894 0.894 0.894 0.894 0.894 0.894 0.894 0.894 0.894 0.894 0.894 0.894 0.894 0.894 0.894 0.627 0.627 0.627 0.627 0.627 0.627 0.627 0.627 0.627 0.627 0.627 0.627 0.188 0.188 0.188 0.188 0.188 0.188 0.188 0.188 0.188 0.188 0.188 0.188 0.188 0.188 0.188 0.188 0.188 0.188 0.29 0.29 0.29 0.29 0.29 0.29 0.29 0.29 0.29 0.29 0.29 0.29 0.29 0.29 0.29 0.29 0.376 0.376 0.376 0.376 0.376 0.376 0.565 0.565 0.565 0.565 0.565 0.565 0.565 0.565 0.784 0.784 0.784 0.784 0.784 0.784 0.784 0.784 0.784 0.784 1 1 1 1 1 1 1 1 1 1 1 1 1 1 1 1 1 1 1 1 1 1 1 1 1 1"/><feFuncB type="discrete" tableValues="0.549 0.549 0.549 0.549 0.549 0.549 0.549 0.549 0.549 0.549 0.549 0.549 0.549 0.549 0.549 0.549 0.549 0.549 0.549 0.549 0.549 0.549 0.549 0.549 0.549 0.549 0.549 0.549 0.549 0.549 0.549 0.549 0.549 0.549 0.549 0.549 0.549 0.549 0.549 0.549 0.549 0.549 0.549 0.549 0.549 0.549 0.549 0.549 0.549 0.549 0.549 0.549 0.549 0.549 0.549 0.549 0.549 0.549 0.549 0.549 0.753 0.753 0.753 0.753 0.753 0.91 0.91 0.91 0.91 0.91 0.91 0.91 0.91 0.91 0.91 0.604 0.604 0.604 0.604 0.604 0.282 0.282 0.282 0.282 0.282 0.282 0 0 0 0 0 0 0 0 0 0 0 0 0 0 0 0 0 0 0 0 0 0 0 0 0 0 0 0 0 0 0.125 0.125 0.125 0.125 0.125 0.125 0.125 0.125 0.125 0.125 0.125 0.125 0.125 0.125 0.125 0.125 0.125 0.125 0.533 0.533 0.533 0.533 0.533 0.533 0.533 0.533 0.533 0.533 0.533 0.533 0.533 0.533 0.533 0.533 0.376 0.376 0.376 0.376 0.376 0.376 0.565 0.565 0.565 0.565 0.565 0.565 0.565 0.565 0.784 0.784 0.784 0.784 0.784 0.784 0.784 0.784 0.784 0.784 1 1 1 1 1 1 1 1 1 1 1 1 1 1 1 1 1 1 1 1 1 1 1 1 1 1"/></feComponentTransfer>
<feColorMatrix in="n0" type="matrix" values="0 0 1 0 0 0 0 1 0 0 0 0 1 0 0 0 0 0 0 1" result="g2"/>
<feComposite in="g2" in2="b" operator="arithmetic" k1="0" k2="0.8" k3="1" k4="-0.400" result="s2"/>
<feComponentTransfer in="s2" result="c2"><feFuncR type="discrete" tableValues="0.0431 0.0431 0.0431 0.0431 0.0431 0.0431 0.0431 0.0431 0.0431 0.0431 0.0431 0.0431 0.0431 0.0431 0.0431 0.0431 0.0431 0.0431 0.0431 0.0431 0.0431 0.0431 0.0431 0.0431 0.0431 0.0431 0.0431 0.0431 0.0431 0.0431 0.0431 0.0431 0.0431 0.0431 0.0431 0.0431 0.0431 0.0431 0.0431 0.0431 0.0431 0.0431 0.0431 0.0431 0.0431 0.0431 0.0431 0.0431 0.0431 0.0431 0.0431 0.0431 0.0431 0.0431 0.0431 0.0431 0.0431 0.0431 0.0431 0.0431 0.0824 0.0824 0.0824 0.0824 0.0824 0.165 0.165 0.165 0.165 0.165 0.235 0.235 0.235 0.235 0.235 0.125 0.125 0.125 0.125 0.125 0.0941 0.0941 0.0941 0.0941 0.0941 0.0941 0.973 0.973 0.973 0.973 0.973 0.973 0.973 0.973 0.973 0.973 0.973 0.973 0.973 0.973 0.973 0.973 0.973 0.973 0.973 0.973 0.973 0.973 0.973 0.973 0.973 0.973 0.973 0.973 0.973 0.973 0.941 0.941 0.941 0.941 0.941 0.941 0.941 0.941 0.941 0.941 0.941 0.941 0.941 0.941 0.941 0.941 0.941 0.941 0.941 0.941 0.941 0.941 0.941 0.941 0.941 0.941 0.941 0.941 0.941 0.941 0.941 0.941 0.941 0.941 0.376 0.376 0.376 0.376 0.376 0.376 0.565 0.565 0.565 0.565 0.565 0.565 0.565 0.565 0.784 0.784 0.784 0.784 0.784 0.784 0.784 0.784 0.784 0.784 1 1 1 1 1 1 1 1 1 1 1 1 1 1 1 1 1 1 1 1 1 1 1 1 1 1"/><feFuncG type="discrete" tableValues="0.196 0.196 0.196 0.196 0.196 0.196 0.196 0.196 0.196 0.196 0.196 0.196 0.196 0.196 0.196 0.196 0.196 0.196 0.196 0.196 0.196 0.196 0.196 0.196 0.196 0.196 0.196 0.196 0.196 0.196 0.196 0.196 0.196 0.196 0.196 0.196 0.196 0.196 0.196 0.196 0.196 0.196 0.196 0.196 0.196 0.196 0.196 0.196 0.196 0.196 0.196 0.196 0.196 0.196 0.196 0.196 0.196 0.196 0.196 0.196 0.376 0.376 0.376 0.376 0.376 0.627 0.627 0.627 0.627 0.627 0.784 0.784 0.784 0.784 0.784 0.69 0.69 0.69 0.69 0.69 0.596 0.596 0.596 0.596 0.596 0.596 0.894 0.894 0.894 0.894 0.894 0.894 0.894 0.894 0.894 0.894 0.894 0.894 0.894 0.894 0.894 0.894 0.894 0.894 0.627 0.627 0.627 0.627 0.627 0.627 0.627 0.627 0.627 0.627 0.627 0.627 0.188 0.188 0.188 0.188 0.188 0.188 0.188 0.188 0.188 0.188 0.188 0.188 0.188 0.188 0.188 0.188 0.188 0.188 0.29 0.29 0.29 0.29 0.29 0.29 0.29 0.29 0.29 0.29 0.29 0.29 0.29 0.29 0.29 0.29 0.376 0.376 0.376 0.376 0.376 0.376 0.565 0.565 0.565 0.565 0.565 0.565 0.565 0.565 0.784 0.784 0.784 0.784 0.784 0.784 0.784 0.784 0.784 0.784 1 1 1 1 1 1 1 1 1 1 1 1 1 1 1 1 1 1 1 1 1 1 1 1 1 1"/><feFuncB type="discrete" tableValues="0.549 0.549 0.549 0.549 0.549 0.549 0.549 0.549 0.549 0.549 0.549 0.549 0.549 0.549 0.549 0.549 0.549 0.549 0.549 0.549 0.549 0.549 0.549 0.549 0.549 0.549 0.549 0.549 0.549 0.549 0.549 0.549 0.549 0.549 0.549 0.549 0.549 0.549 0.549 0.549 0.549 0.549 0.549 0.549 0.549 0.549 0.549 0.549 0.549 0.549 0.549 0.549 0.549 0.549 0.549 0.549 0.549 0.549 0.549 0.549 0.753 0.753 0.753 0.753 0.753 0.91 0.91 0.91 0.91 0.91 0.91 0.91 0.91 0.91 0.91 0.604 0.604 0.604 0.604 0.604 0.282 0.282 0.282 0.282 0.282 0.282 0 0 0 0 0 0 0 0 0 0 0 0 0 0 0 0 0 0 0 0 0 0 0 0 0 0 0 0 0 0 0.125 0.125 0.125 0.125 0.125 0.125 0.125 0.125 0.125 0.125 0.125 0.125 0.125 0.125 0.125 0.125 0.125 0.125 0.533 0.533 0.533 0.533 0.533 0.533 0.533 0.533 0.533 0.533 0.533 0.533 0.533 0.533 0.533 0.533 0.376 0.376 0.376 0.376 0.376 0.376 0.565 0.565 0.565 0.565 0.565 0.565 0.565 0.565 0.784 0.784 0.784 0.784 0.784 0.784 0.784 0.784 0.784 0.784 1 1 1 1 1 1 1 1 1 1 1 1 1 1 1 1 1 1 1 1 1 1 1 1 1 1"/></feComponentTransfer>
<feComposite in="c0" in2="c1" operator="arithmetic" k1="0" k2="0.5000" k3="0.5000" k4="0" result="a1"/>
<feComposite in="a1" in2="c2" operator="arithmetic" k1="0" k2="0.6667" k3="0.3333" k4="0" result="a2"/>
<feConvolveMatrix in="a2" order="3" kernelMatrix="0.0072 0.0847 0.0072 0.0847 1 0.0847 0.0072 0.0847 0.0072" divisor="1.3673" edgeMode="duplicate" preserveAlpha="true"/>
</filter>
</defs>
<rect width="550" height="437" fill="#fff"/>
<clipPath id="cptl"><rect x="16.0" y="17.5" width="192.5" height="78.5"/></clipPath>
<g clip-path="url(#cptl)">
<g filter="url(#nzraw)">
<rect x="13.0" y="14.5" width="198.5" height="84.5" fill="#494949"/>
<g filter="url(#bl3)">
<polygon points="16.0,61.3 16.6,60.2 17.7,56.1 18.9,52.0 20.0,49.1 21.1,53.6 22.2,56.5 23.4,61.6 24.7,65.9 26.0,69.7 27.3,74.2 28.5,68.1 29.6,63.9 30.7,58.7 32.6,50.6 33.7,54.4 34.7,60.2 36.0,64.2 37.3,67.6 38.7,72.8 40.0,74.8 41.2,72.5 42.3,71.8 43.5,71.2 44.7,69.1 45.8,67.2 46.9,66.5 48.1,66.1 50.0,65.3 51.4,67.5 52.8,69.1 54.1,69.7 55.4,69.0 56.7,66.5 58.1,64.7 59.1,61.1 60.1,57.9 61.4,47.8 62.8,47.0 64.7,51.4 66.1,52.0 67.5,50.6 68.0,88.2 68.0,97.4 16.0,97.4" fill="#575757"/>
<polygon points="24.7,71.4 26.0,75.2 27.3,79.7 28.5,73.6 29.6,69.4 30.7,64.2 32.6,56.1 33.7,59.8 34.7,65.6 36.0,69.7 37.3,73.1 38.7,78.3 40.0,80.3 41.2,77.9 42.3,77.2 43.5,76.7 44.7,74.5 45.8,72.7 46.9,72.0 48.1,71.6 50.0,70.8 51.4,73.0 52.8,74.5 54.1,75.2 55.4,74.5 56.7,72.0 58.1,70.2 59.1,66.5 60.1,63.4 61.4,53.3 62.8,52.5 64.7,56.9 66.1,97.4 23.7,97.4" fill="#707070"/>
<polygon points="150.8,12.3 216.2,12.3 216.2,45.2 181.6,34.2 158.4,28.8" fill="#454545"/>
<polygon points="148.8,36.1 170.0,37.0 216.2,51.6 216.2,98.3 148.8,98.3" fill="#535353"/>
<polygon points="152.7,63.5 170.0,77.2 189.2,88.2 189.2,98.3 152.7,98.3" fill="#4c4c4c"/>
</g>
<g filter="url(#bl2)">
<polygon points="152.7,41.6 162.3,42.5 189.2,53.5 216.2,60.8 216.2,90.1 189.2,81.8 170.0,69.9 156.5,54.4 152.7,49.8" fill="#757575"/>
</g>
<g filter="url(#bl1)">
<polygon points="95.3,21.4 111.3,21.4 109.9,50.7 96.5,50.7" fill="#383838"/>
<polygon points="98.4,25.1 106.5,25.1 106.1,52.5 99.2,52.5" fill="#1a1a1a"/>
<polygon points="68.0,15.9 70.3,15.9 70.3,43.4 68.0,43.4" fill="#383838"/>
<polygon points="78.0,19.6 80.7,19.6 80.7,38.8 78.0,38.8" fill="#383838"/>
<polygon points="73.8,15.9 75.3,15.9 75.3,34.2 73.8,34.2" fill="#383838"/>
<polygon points="83.8,15.9 85.3,15.9 85.3,37.9 83.8,37.9" fill="#404040"/>
<polygon points="90.1,15.9 92.0,15.9 92.0,42.5 90.1,42.5" fill="#404040"/>
<polygon points="116.1,19.6 118.0,19.6 118.0,39.7 116.1,39.7" fill="#404040"/>
<polygon points="126.7,15.9 128.6,15.9 128.6,37.9 126.7,37.9" fill="#404040"/>
</g>
<rect x="135.3" y="37.9" width="2.9" height="62.2" fill="#000000"/>
<rect x="139.5" y="37.9" width="2.7" height="62.2" fill="#000000"/>
<rect x="138.1" y="37.9" width="1.3" height="62.2" fill="#383838"/>
<rect x="151.5" y="41.6" width="1.1" height="56.7" fill="#000000"/>
<rect x="151.1" y="39.3" width="1.6" height="1.8" fill="#e6e6e6"/>
<polygon points="97.6,15.0 101.9,15.0 105.7,26.9 103.0,26.9" fill="#adadad"/>
<polygon points="103.8,15.0 107.2,15.0 111.1,24.2 108.8,24.2" fill="#a3a3a3"/>
<polygon points="70.7,18.7 72.6,18.7 72.6,30.6 70.7,30.6" fill="#9e9e9e"/>
<polygon points="63.9,23.3 66.4,23.3 66.4,36.5 63.9,36.5" fill="#bababa"/>
<g filter="url(#bl1)"><ellipse cx="145.9" cy="86.9" rx="2.5" ry="5.9" fill="#999999"/></g>
<path d="M135.0,39.7 L135.0,32.4 Q136.1,26.0 138.8,26.5 Q142.5,29.2 143.1,39.7 Z" fill="#a8a8a8"/>
<path d="M135.5,36.5 L135.5,32.4 Q136.7,27.4 138.8,27.8 Q141.7,30.1 142.3,36.5 Z" fill="#dbdbdb"/>
</g>
<rect x="135.0" y="91.75" width="74.5" height="1.15" fill="#ffffff"/>
<rect x="135.0" y="92.85" width="74.5" height="0.75" fill="#f8a000"/>
<rect x="135.0" y="93.55" width="74.5" height="0.85" fill="#f8e400"/>
<rect x="135.0" y="94.35" width="74.5" height="0.75" fill="#189848"/>
<rect x="135.0" y="95.05" width="74.5" height="0.85" fill="#3cc8e8"/>
<rect x="135.0" y="95.85" width="74.5" height="0.85" fill="#1560c0"/>
<rect x="135.0" y="96.65" width="74.5" height="3.65" fill="#0b328c"/>
<defs><polygon id="tptl" points="16.0,75.3 17.0,75.3 17.0,72.6 18.0,72.6 18.0,71.5 19.0,71.5 19.0,68.7 20.0,68.7 20.0,69.3 21.0,69.3 21.0,71.4 22.0,71.4 22.0,72.1 23.0,72.1 23.0,77.2 24.0,77.2 24.0,80.7 25.0,80.7 25.0,84.1 26.0,84.1 26.0,85.2 27.0,85.2 27.0,86.9 28.0,86.9 28.0,81.9 29.0,81.9 29.0,80.0 30.0,80.0 30.0,75.2 31.0,75.2 31.0,70.4 32.0,70.4 32.0,70.5 33.0,70.5 33.0,71.9 34.0,71.9 34.0,74.5 35.0,74.5 35.0,78.0 36.0,78.0 36.0,79.6 37.0,79.6 37.0,82.0 38.0,82.0 38.0,86.8 39.0,86.8 39.0,86.7 40.0,86.7 40.0,86.9 41.0,86.9 41.0,86.1 42.0,86.1 42.0,85.2 43.0,85.2 43.0,86.1 44.0,86.1 44.0,84.3 45.0,84.3 45.0,83.7 46.0,83.7 46.0,81.9 47.0,81.9 47.0,81.7 48.0,81.7 48.0,81.0 49.0,81.0 49.0,81.0 50.0,81.0 50.0,81.0 51.0,81.0 51.0,82.1 52.0,82.1 52.0,85.1 53.0,85.1 53.0,85.7 54.0,85.7 54.0,85.4 55.0,85.4 55.0,84.4 56.0,84.4 56.0,81.5 57.0,81.5 57.0,79.8 58.0,79.8 58.0,77.6 59.0,77.6 59.0,73.7 60.0,73.7 60.0,70.7 61.0,70.7 61.0,62.5 62.0,62.5 62.0,63.1 63.0,63.1 63.0,63.4 64.0,63.4 64.0,67.1 65.0,67.1 65.0,67.7 66.0,67.7 66.0,65.3 67.0,65.3 67.0,64.8 68.0,64.8 68.0,64.8 69.0,64.8 69.0,61.6 70.0,61.6 70.0,59.4 71.0,59.4 71.0,56.8 72.0,56.8 72.0,52.9 73.0,52.9 73.0,52.4 74.0,52.4 74.0,51.4 75.0,51.4 75.0,48.8 76.0,48.8 76.0,47.9 77.0,47.9 77.0,47.1 78.0,47.1 78.0,47.5 79.0,47.5 79.0,46.4 80.0,46.4 80.0,44.3 81.0,44.3 81.0,45.2 82.0,45.2 82.0,44.6 83.0,44.6 83.0,44.5 84.0,44.5 84.0,46.9 85.0,46.9 85.0,46.6 86.0,46.6 86.0,48.3 87.0,48.3 87.0,48.0 88.0,48.0 88.0,47.1 89.0,47.1 89.0,47.2 90.0,47.2 90.0,43.6 91.0,43.6 91.0,44.9 92.0,44.9 92.0,43.9 93.0,43.9 93.0,45.8 94.0,45.8 94.0,46.9 95.0,46.9 95.0,47.1 96.0,47.1 96.0,48.5 97.0,48.5 97.0,47.0 98.0,47.0 98.0,44.5 99.0,44.5 99.0,46.1 100.0,46.1 100.0,45.2 101.0,45.2 101.0,47.4 102.0,47.4 102.0,49.4 103.0,49.4 103.0,48.7 104.0,48.7 104.0,48.3 105.0,48.3 105.0,50.6 106.0,50.6 106.0,48.1 107.0,48.1 107.0,47.4 108.0,47.4 108.0,48.1 109.0,48.1 109.0,46.6 110.0,46.6 110.0,46.0 111.0,46.0 111.0,44.5 112.0,44.5 112.0,43.9 113.0,43.9 113.0,44.0 114.0,44.0 114.0,42.0 115.0,42.0 115.0,42.6 116.0,42.6 116.0,44.7 117.0,44.7 117.0,46.5 118.0,46.5 118.0,49.2 119.0,49.2 119.0,49.5 120.0,49.5 120.0,51.1 121.0,51.1 121.0,52.3 122.0,52.3 122.0,49.3 123.0,49.3 123.0,48.6 124.0,48.6 124.0,49.9 125.0,49.9 125.0,48.7 126.0,48.7 126.0,46.0 127.0,46.0 127.0,44.2 128.0,44.2 128.0,43.8 129.0,43.8 129.0,46.4 130.0,46.4 130.0,50.8 131.0,50.8 131.0,57.3 132.0,57.3 132.0,59.3 133.0,59.3 133.0,60.9 134.0,60.9 134.0,63.7 135.0,63.7 135.0,99.0 135.5,99.0 135.5,98.0 16.0,98.0"/></defs>
<g filter="url(#soft)">
<use href="#tptl" y="0.00" fill="#ffffff"/>
<use href="#tptl" y="0.90" fill="#f04a88"/>
<use href="#tptl" y="1.10" fill="#f03020"/>
<use href="#tptl" y="1.50" fill="#f8a000"/>
<use href="#tptl" y="2.10" fill="#f8e400"/>
<use href="#tptl" y="3.20" fill="#189848"/>
<use href="#tptl" y="4.40" fill="#3cc8e8"/>
<use href="#tptl" y="5.80" fill="#1560c0"/>
<use href="#tptl" y="7.20" fill="#0b328c"/>
</g>
</g>
<text x="13.0" y="95.5" font-size="7.4" class="mono" text-anchor="end" fill="#111">0</text>
<line x1="14.5" y1="92.8" x2="16.0" y2="92.8" stroke="#222" stroke-width="0.5"/>
<text x="13.0" y="77.2" font-size="7.4" class="mono" text-anchor="end" fill="#111">2</text>
<line x1="14.5" y1="74.5" x2="16.0" y2="74.5" stroke="#222" stroke-width="0.5"/>
<text x="13.0" y="58.9" font-size="7.4" class="mono" text-anchor="end" fill="#111">4</text>
<line x1="14.5" y1="56.2" x2="16.0" y2="56.2" stroke="#222" stroke-width="0.5"/>
<text x="13.0" y="40.6" font-size="7.4" class="mono" text-anchor="end" fill="#111">6</text>
<line x1="14.5" y1="37.9" x2="16.0" y2="37.9" stroke="#222" stroke-width="0.5"/>
<text x="13.0" y="22.3" font-size="7.4" class="mono" text-anchor="end" fill="#111">8</text>
<line x1="14.5" y1="19.6" x2="16.0" y2="19.6" stroke="#222" stroke-width="0.5"/>
<text transform="translate(6.4,56.5) rotate(-90)" font-size="7.8" class="mono" text-anchor="middle" fill="#111" textLength="39" lengthAdjust="spacingAndGlyphs">Height/km</text>
<rect x="220.2" y="17.50" width="4.0" height="15.68" fill="#ffffff"/>
<rect x="220.2" y="32.98" width="4.0" height="15.29" fill="url(#gg)"/>
<rect x="220.2" y="48.07" width="4.0" height="5.57" fill="#f04a88"/>
<rect x="220.2" y="53.45" width="4.0" height="6.05" fill="#f03020"/>
<rect x="220.2" y="59.29" width="4.0" height="5.10" fill="#f8a000"/>
<rect x="220.2" y="64.19" width="4.0" height="8.81" fill="#f8e400"/>
<rect x="220.2" y="72.80" width="4.0" height="4.55" fill="#189848"/>
<rect x="220.2" y="77.15" width="4.0" height="6.68" fill="#20b09a"/>
<rect x="220.2" y="83.62" width="4.0" height="3.60" fill="#3cc8e8"/>
<rect x="220.2" y="87.02" width="4.0" height="3.20" fill="#2aa0e8"/>
<rect x="220.2" y="90.02" width="4.0" height="4.07" fill="#1560c0"/>
<rect x="220.2" y="93.89" width="4.0" height="2.81" fill="#0b328c"/>
<rect x="220.2" y="17.5" width="4.0" height="79.00" fill="none" stroke="#8a8a8a" stroke-width="0.5"/>
<line x1="224.2" y1="22.6" x2="225.39999999999998" y2="22.6" stroke="#555" stroke-width="0.4"/>
<text x="226.8" y="24.5" font-size="5.8" class="mono" fill="#222" textLength="17.1" lengthAdjust="spacingAndGlyphs">0.0800</text>
<line x1="224.2" y1="26.5" x2="225.39999999999998" y2="26.5" stroke="#555" stroke-width="0.4"/>
<text x="226.8" y="28.4" font-size="5.8" class="mono" fill="#222" textLength="17.1" lengthAdjust="spacingAndGlyphs">0.0600</text>
<line x1="224.2" y1="30.9" x2="225.39999999999998" y2="30.9" stroke="#555" stroke-width="0.4"/>
<text x="226.8" y="32.8" font-size="5.8" class="mono" fill="#222" textLength="17.1" lengthAdjust="spacingAndGlyphs">0.0400</text>
<line x1="224.2" y1="38.4" x2="225.39999999999998" y2="38.4" stroke="#555" stroke-width="0.4"/>
<text x="226.8" y="40.3" font-size="5.8" class="mono" fill="#222" textLength="17.1" lengthAdjust="spacingAndGlyphs">0.0100</text>
<line x1="224.2" y1="42.7" x2="225.39999999999998" y2="42.7" stroke="#555" stroke-width="0.4"/>
<text x="226.8" y="44.6" font-size="5.8" class="mono" fill="#222" textLength="17.1" lengthAdjust="spacingAndGlyphs">0.0075</text>
<line x1="224.2" y1="47.0" x2="225.39999999999998" y2="47.0" stroke="#555" stroke-width="0.4"/>
<text x="226.8" y="48.9" font-size="5.8" class="mono" fill="#222" textLength="17.1" lengthAdjust="spacingAndGlyphs">0.0065</text>
<line x1="224.2" y1="51.3" x2="225.39999999999998" y2="51.3" stroke="#555" stroke-width="0.4"/>
<text x="226.8" y="53.2" font-size="5.8" class="mono" fill="#222" textLength="17.1" lengthAdjust="spacingAndGlyphs">0.0055</text>
<line x1="224.2" y1="55.6" x2="225.39999999999998" y2="55.6" stroke="#555" stroke-width="0.4"/>
<text x="226.8" y="57.5" font-size="5.8" class="mono" fill="#222" textLength="17.1" lengthAdjust="spacingAndGlyphs">0.0045</text>
<line x1="224.2" y1="61.0" x2="225.39999999999998" y2="61.0" stroke="#555" stroke-width="0.4"/>
<text x="226.8" y="62.9" font-size="5.8" class="mono" fill="#222" textLength="17.1" lengthAdjust="spacingAndGlyphs">0.0035</text>
<line x1="224.2" y1="66.4" x2="225.39999999999998" y2="66.4" stroke="#555" stroke-width="0.4"/>
<text x="226.8" y="68.3" font-size="5.8" class="mono" fill="#222" textLength="17.1" lengthAdjust="spacingAndGlyphs">0.0025</text>
<line x1="224.2" y1="73.9" x2="225.39999999999998" y2="73.9" stroke="#555" stroke-width="0.4"/>
<text x="226.8" y="75.8" font-size="5.8" class="mono" fill="#222" textLength="17.1" lengthAdjust="spacingAndGlyphs">0.0010</text>
<line x1="224.2" y1="78.6" x2="225.39999999999998" y2="78.6" stroke="#555" stroke-width="0.4"/>
<text x="226.8" y="80.5" font-size="5.8" class="mono" fill="#222" textLength="17.1" lengthAdjust="spacingAndGlyphs">0.0008</text>
<line x1="224.2" y1="83.6" x2="225.39999999999998" y2="83.6" stroke="#555" stroke-width="0.4"/>
<text x="226.8" y="85.5" font-size="5.8" class="mono" fill="#222" textLength="17.1" lengthAdjust="spacingAndGlyphs">0.0006</text>
<line x1="224.2" y1="88.5" x2="225.39999999999998" y2="88.5" stroke="#555" stroke-width="0.4"/>
<text x="226.8" y="90.4" font-size="5.8" class="mono" fill="#222" textLength="17.1" lengthAdjust="spacingAndGlyphs">0.0004</text>
<line x1="224.2" y1="96.1" x2="225.39999999999998" y2="96.1" stroke="#555" stroke-width="0.4"/>
<text x="226.8" y="98.0" font-size="5.8" class="mono" fill="#222" textLength="17.1" lengthAdjust="spacingAndGlyphs">0.0001</text>
<rect x="22.6" y="3.6" width="6.4" height="6.2" fill="#fff" stroke="#000" stroke-width="1.3"/>
<text x="42.6" y="10.2" font-size="10.4" font-weight="bold" class="serif" fill="#000" textLength="157" lengthAdjust="spacingAndGlyphs">Total Attenuated Backscatter 532</text>
<clipPath id="cpg"><rect x="30.0" y="267.6" width="188.5" height="71.09999999999997"/></clipPath>
<g clip-path="url(#cpg)">
<g filter="url(#nzg)">
<rect x="27.0" y="264.6" width="194.5" height="77.09999999999997" fill="#5d5d5d"/>
<g filter="url(#bl3)">
<polygon points="30.0,307.0 30.6,306.0 31.7,302.4 32.8,298.8 33.9,296.2 35.0,300.2 36.1,302.8 37.2,307.3 38.5,311.1 39.8,314.5 41.1,318.5 42.2,313.0 43.3,309.3 44.4,304.7 46.3,297.5 47.3,300.9 48.3,306.0 49.6,309.6 50.9,312.6 52.2,317.2 53.5,319.0 54.6,316.9 55.8,316.3 57.0,315.8 58.1,313.9 59.2,312.3 60.3,311.6 61.4,311.3 63.3,310.6 64.6,312.5 66.0,313.9 67.3,314.5 68.6,313.9 69.9,311.7 71.2,310.0 72.2,306.8 73.2,304.0 74.5,295.0 75.8,294.3 77.7,298.2 79.0,298.8 80.4,297.5 80.9,330.9 80.9,339.1 30.0,339.1" fill="#666666"/>
<polygon points="38.5,316.0 39.8,319.4 41.1,323.4 42.2,317.9 43.3,314.2 44.4,309.6 46.3,302.4 47.3,305.7 48.3,310.9 49.6,314.5 50.9,317.5 52.2,322.1 53.5,323.9 54.6,321.8 55.8,321.2 57.0,320.7 58.1,318.8 59.2,317.2 60.3,316.5 61.4,316.2 63.3,315.5 64.6,317.4 66.0,318.8 67.3,319.4 68.6,318.8 69.9,316.5 71.2,314.9 72.2,311.7 73.2,308.9 74.5,299.9 75.8,299.2 77.7,303.1 79.0,339.1 37.5,339.1" fill="#858585"/>
<polygon points="161.9,263.5 226.0,263.5 226.0,292.8 192.1,283.0 169.5,278.1" fill="#5b5b5b"/>
<polygon points="160.1,284.6 180.8,285.4 226.0,298.4 226.0,339.9 160.1,339.9" fill="#626262"/>
<polygon points="163.8,309.0 180.8,321.2 199.7,330.9 199.7,339.9 163.8,339.9" fill="#606060"/>
</g>
<g filter="url(#bl2)">
<polygon points="163.8,289.5 173.3,290.3 199.7,300.1 226.0,306.6 226.0,332.6 199.7,325.2 180.8,314.7 167.6,300.9 163.8,296.8" fill="#808080"/>
</g>
<g filter="url(#bl1)">
<polygon points="107.7,271.6 123.3,271.6 122.0,297.6 108.8,297.6" fill="#4c4c4c"/>
<polygon points="110.7,274.9 118.6,274.9 118.2,299.2 111.4,299.2" fill="#383838"/>
<polygon points="80.9,266.8 83.2,266.8 83.2,291.1 80.9,291.1" fill="#4c4c4c"/>
<polygon points="90.7,270.0 93.3,270.0 93.3,287.1 90.7,287.1" fill="#4c4c4c"/>
<polygon points="86.5,266.8 88.1,266.8 88.1,283.0 86.5,283.0" fill="#4c4c4c"/>
<polygon points="96.4,266.8 97.9,266.8 97.9,286.2 96.4,286.2" fill="#545454"/>
<polygon points="102.6,266.8 104.5,266.8 104.5,290.3 102.6,290.3" fill="#545454"/>
<polygon points="128.0,270.0 129.9,270.0 129.9,287.9 128.0,287.9" fill="#545454"/>
<polygon points="138.4,266.8 140.3,266.8 140.3,286.2 138.4,286.2" fill="#545454"/>
</g>
<rect x="146.8" y="286.2" width="2.8" height="55.2" fill="#1f1f1f"/>
<rect x="150.9" y="286.2" width="2.6" height="55.2" fill="#1f1f1f"/>
<rect x="149.6" y="286.2" width="1.3" height="55.2" fill="#4c4c4c"/>
<rect x="162.7" y="289.5" width="1.1" height="50.4" fill="#1f1f1f"/>
<rect x="162.3" y="287.5" width="1.6" height="1.8" fill="#e6e6e6"/>
<polygon points="109.9,265.9 114.1,265.9 117.8,276.5 115.2,276.5" fill="#9e9e9e"/>
<polygon points="116.0,265.9 119.3,265.9 123.1,274.1 120.9,274.1" fill="#949494"/>
<polygon points="83.5,269.2 85.4,269.2 85.4,279.8 83.5,279.8" fill="#8f8f8f"/>
<polygon points="76.9,273.2 79.4,273.2 79.4,285.0 76.9,285.0" fill="#ababab"/>
<g filter="url(#bl1)"><ellipse cx="157.2" cy="329.7" rx="2.5" ry="5.3" fill="#a1a1a1"/></g>
<path d="M146.5,287.9 L146.5,281.4 Q147.6,275.7 150.3,276.1 Q153.8,278.5 154.4,287.9 Z" fill="#adadad"/>
<path d="M147.1,285.0 L147.1,281.4 Q148.2,276.9 150.3,277.3 Q153.1,279.3 153.7,285.0 Z" fill="#e0e0e0"/>
</g>
<rect x="146.5" y="334.71" width="73.0" height="0.75" fill="#2aa0e8"/>
<rect x="146.5" y="335.41" width="73.0" height="1.35" fill="#ffffff"/>
<rect x="146.5" y="336.71" width="73.0" height="0.75" fill="#f8a000"/>
<rect x="146.5" y="337.41" width="73.0" height="0.85" fill="#f8e400"/>
<rect x="146.5" y="338.21" width="73.0" height="1.85" fill="#189848"/>
<defs><polygon id="tpg" points="30.0,318.3 31.0,318.3 31.0,315.3 32.0,315.3 32.0,312.6 33.0,312.6 33.0,309.3 34.0,309.3 34.0,310.6 35.0,310.6 35.0,313.7 36.0,313.7 36.0,316.2 37.0,316.2 37.0,320.4 38.0,320.4 38.0,323.5 39.0,323.5 39.0,326.3 40.0,326.3 40.0,328.3 41.0,328.3 41.0,328.4 42.0,328.4 42.0,323.6 43.0,323.6 43.0,321.1 44.0,321.1 44.0,316.8 45.0,316.8 45.0,312.1 46.0,312.1 46.0,311.0 47.0,311.0 47.0,314.7 48.0,314.7 48.0,319.0 49.0,319.0 49.0,321.7 50.0,321.7 50.0,323.4 51.0,323.4 51.0,326.3 52.0,326.3 52.0,329.9 53.0,329.9 53.0,330.6 54.0,330.6 54.0,329.0 55.0,329.0 55.0,328.3 56.0,328.3 56.0,327.5 57.0,327.5 57.0,327.0 58.0,327.0 58.0,325.4 59.0,325.4 59.0,324.8 60.0,324.8 60.0,323.8 61.0,323.8 61.0,323.7 62.0,323.7 62.0,323.1 63.0,323.1 63.0,323.3 64.0,323.3 64.0,324.4 65.0,324.4 65.0,325.3 66.0,325.3 66.0,327.0 67.0,327.0 67.0,327.3 68.0,327.3 68.0,326.6 69.0,326.6 69.0,324.8 70.0,324.8 70.0,322.8 71.0,322.8 71.0,320.9 72.0,320.9 72.0,317.9 73.0,317.9 73.0,313.5 74.0,313.5 74.0,307.6 75.0,307.6 75.0,306.5 76.0,306.5 76.0,308.4 77.0,308.4 77.0,309.8 78.0,309.8 78.0,311.4 79.0,311.4 79.0,311.0 80.0,311.0 80.0,308.8 81.0,308.8 81.0,307.4 82.0,307.4 82.0,306.4 83.0,306.4 83.0,302.8 84.0,302.8 84.0,302.6 85.0,302.6 85.0,298.8 86.0,298.8 86.0,296.8 87.0,296.8 87.0,296.4 88.0,296.4 88.0,295.6 89.0,295.6 89.0,294.5 90.0,294.5 90.0,292.7 91.0,292.7 91.0,292.1 92.0,292.1 92.0,292.6 93.0,292.6 93.0,292.0 94.0,292.0 94.0,291.8 95.0,291.8 95.0,291.3 96.0,291.3 96.0,291.5 97.0,291.5 97.0,292.3 98.0,292.3 98.0,294.5 99.0,294.5 99.0,293.8 100.0,293.8 100.0,294.2 101.0,294.2 101.0,293.4 102.0,293.4 102.0,291.4 103.0,291.4 103.0,291.2 104.0,291.2 104.0,290.6 105.0,290.6 105.0,292.1 106.0,292.1 106.0,292.7 107.0,292.7 107.0,293.8 108.0,293.8 108.0,293.1 109.0,293.1 109.0,292.5 110.0,292.5 110.0,292.4 111.0,292.4 111.0,291.9 112.0,291.9 112.0,291.8 113.0,291.8 113.0,293.9 114.0,293.9 114.0,294.1 115.0,294.1 115.0,294.1 116.0,294.1 116.0,295.6 117.0,295.6 117.0,295.5 118.0,295.5 118.0,294.4 119.0,294.4 119.0,294.9 120.0,294.9 120.0,293.1 121.0,293.1 121.0,292.9 122.0,292.9 122.0,293.2 123.0,293.2 123.0,291.7 124.0,291.7 124.0,291.1 125.0,291.1 125.0,289.7 126.0,289.7 126.0,288.7 127.0,288.7 127.0,289.3 128.0,289.3 128.0,291.2 129.0,291.2 129.0,293.1 130.0,293.1 130.0,294.1 131.0,294.1 131.0,295.6 132.0,295.6 132.0,297.4 133.0,297.4 133.0,296.8 134.0,296.8 134.0,295.8 135.0,295.8 135.0,295.8 136.0,295.8 136.0,294.2 137.0,294.2 137.0,293.2 138.0,293.2 138.0,293.1 139.0,293.1 139.0,291.4 140.0,291.4 140.0,289.3 141.0,289.3 141.0,292.3 142.0,292.3 142.0,300.3 143.0,300.3 143.0,302.7 144.0,302.7 144.0,303.7 145.0,303.7 145.0,307.2 146.0,307.2 146.0,312.9 147.0,312.9 147.0,340.7 30.0,340.7"/></defs>
<g filter="url(#soft)">
<use href="#tpg" y="0.00" fill="#ffffff"/>
<use href="#tpg" y="2.00" fill="#f03020"/>
<use href="#tpg" y="2.30" fill="#f8a000"/>
<use href="#tpg" y="2.90" fill="#f8e400"/>
<use href="#tpg" y="4.00" fill="#189848"/>
<use href="#tpg" y="5.00" fill="#3cc8e8"/>
<use href="#tpg" y="6.20" fill="#1560c0"/>
<use href="#tpg" y="7.40" fill="#0b328c"/>
</g>
</g>
<text x="27.0" y="337.5" font-size="7.0" class="mono" text-anchor="end" fill="#111">0</text>
<line x1="28.5" y1="335.0" x2="30.0" y2="335.0" stroke="#222" stroke-width="0.5"/>
<text x="27.0" y="321.3" font-size="7.0" class="mono" text-anchor="end" fill="#111">2</text>
<line x1="28.5" y1="318.8" x2="30.0" y2="318.8" stroke="#222" stroke-width="0.5"/>
<text x="27.0" y="305.0" font-size="7.0" class="mono" text-anchor="end" fill="#111">4</text>
<line x1="28.5" y1="302.5" x2="30.0" y2="302.5" stroke="#222" stroke-width="0.5"/>
<text x="27.0" y="288.8" font-size="7.0" class="mono" text-anchor="end" fill="#111">6</text>
<line x1="28.5" y1="286.2" x2="30.0" y2="286.2" stroke="#222" stroke-width="0.5"/>
<text x="27.0" y="272.5" font-size="7.0" class="mono" text-anchor="end" fill="#111">8</text>
<line x1="28.5" y1="270.0" x2="30.0" y2="270.0" stroke="#222" stroke-width="0.5"/>
<text transform="translate(19.0,303.65) rotate(-90)" font-size="7.2" class="mono" text-anchor="middle" fill="#111" textLength="33.6" lengthAdjust="spacingAndGlyphs">Height/km</text>
<rect x="230.5" y="267.60" width="3.9" height="14.14" fill="#ffffff"/>
<rect x="230.5" y="281.54" width="3.9" height="13.78" fill="url(#gg)"/>
<rect x="230.5" y="295.12" width="3.9" height="5.03" fill="#f04a88"/>
<rect x="230.5" y="299.95" width="3.9" height="5.46" fill="#f03020"/>
<rect x="230.5" y="305.21" width="3.9" height="4.61" fill="#f8a000"/>
<rect x="230.5" y="309.62" width="3.9" height="7.95" fill="#f8e400"/>
<rect x="230.5" y="317.37" width="3.9" height="4.11" fill="#189848"/>
<rect x="230.5" y="321.28" width="3.9" height="6.03" fill="#20b09a"/>
<rect x="230.5" y="327.11" width="3.9" height="3.26" fill="#3cc8e8"/>
<rect x="230.5" y="330.17" width="3.9" height="2.90" fill="#2aa0e8"/>
<rect x="230.5" y="332.87" width="3.9" height="3.68" fill="#1560c0"/>
<rect x="230.5" y="336.35" width="3.9" height="2.55" fill="#0b328c"/>
<rect x="230.5" y="267.6" width="3.9" height="71.10" fill="none" stroke="#8a8a8a" stroke-width="0.5"/>
<line x1="234.4" y1="272.2" x2="235.6" y2="272.2" stroke="#555" stroke-width="0.4"/>
<text x="237.0" y="274.1" font-size="5.6" class="mono" fill="#222" textLength="16.5" lengthAdjust="spacingAndGlyphs">0.0800</text>
<line x1="234.4" y1="275.7" x2="235.6" y2="275.7" stroke="#555" stroke-width="0.4"/>
<text x="237.0" y="277.6" font-size="5.6" class="mono" fill="#222" textLength="16.5" lengthAdjust="spacingAndGlyphs">0.0600</text>
<line x1="234.4" y1="279.6" x2="235.6" y2="279.6" stroke="#555" stroke-width="0.4"/>
<text x="237.0" y="281.5" font-size="5.6" class="mono" fill="#222" textLength="16.5" lengthAdjust="spacingAndGlyphs">0.0400</text>
<line x1="234.4" y1="286.4" x2="235.6" y2="286.4" stroke="#555" stroke-width="0.4"/>
<text x="237.0" y="288.3" font-size="5.6" class="mono" fill="#222" textLength="16.5" lengthAdjust="spacingAndGlyphs">0.0100</text>
<line x1="234.4" y1="290.3" x2="235.6" y2="290.3" stroke="#555" stroke-width="0.4"/>
<text x="237.0" y="292.2" font-size="5.6" class="mono" fill="#222" textLength="16.5" lengthAdjust="spacingAndGlyphs">0.0075</text>
<line x1="234.4" y1="294.1" x2="235.6" y2="294.1" stroke="#555" stroke-width="0.4"/>
<text x="237.0" y="296.0" font-size="5.6" class="mono" fill="#222" textLength="16.5" lengthAdjust="spacingAndGlyphs">0.0065</text>
<line x1="234.4" y1="298.0" x2="235.6" y2="298.0" stroke="#555" stroke-width="0.4"/>
<text x="237.0" y="299.9" font-size="5.6" class="mono" fill="#222" textLength="16.5" lengthAdjust="spacingAndGlyphs">0.0055</text>
<line x1="234.4" y1="301.9" x2="235.6" y2="301.9" stroke="#555" stroke-width="0.4"/>
<text x="237.0" y="303.8" font-size="5.6" class="mono" fill="#222" textLength="16.5" lengthAdjust="spacingAndGlyphs">0.0045</text>
<line x1="234.4" y1="306.7" x2="235.6" y2="306.7" stroke="#555" stroke-width="0.4"/>
<text x="237.0" y="308.6" font-size="5.6" class="mono" fill="#222" textLength="16.5" lengthAdjust="spacingAndGlyphs">0.0035</text>
<line x1="234.4" y1="311.6" x2="235.6" y2="311.6" stroke="#555" stroke-width="0.4"/>
<text x="237.0" y="313.5" font-size="5.6" class="mono" fill="#222" textLength="16.5" lengthAdjust="spacingAndGlyphs">0.0025</text>
<line x1="234.4" y1="318.4" x2="235.6" y2="318.4" stroke="#555" stroke-width="0.4"/>
<text x="237.0" y="320.3" font-size="5.6" class="mono" fill="#222" textLength="16.5" lengthAdjust="spacingAndGlyphs">0.0010</text>
<line x1="234.4" y1="322.6" x2="235.6" y2="322.6" stroke="#555" stroke-width="0.4"/>
<text x="237.0" y="324.5" font-size="5.6" class="mono" fill="#222" textLength="16.5" lengthAdjust="spacingAndGlyphs">0.0008</text>
<line x1="234.4" y1="327.1" x2="235.6" y2="327.1" stroke="#555" stroke-width="0.4"/>
<text x="237.0" y="329.0" font-size="5.6" class="mono" fill="#222" textLength="16.5" lengthAdjust="spacingAndGlyphs">0.0006</text>
<line x1="234.4" y1="331.5" x2="235.6" y2="331.5" stroke="#555" stroke-width="0.4"/>
<text x="237.0" y="333.4" font-size="5.6" class="mono" fill="#222" textLength="16.5" lengthAdjust="spacingAndGlyphs">0.0004</text>
<line x1="234.4" y1="338.3" x2="235.6" y2="338.3" stroke="#555" stroke-width="0.4"/>
<text x="237.0" y="340.2" font-size="5.6" class="mono" fill="#222" textLength="16.5" lengthAdjust="spacingAndGlyphs">0.0001</text>
<text x="124.8" y="265.0" font-size="8.2" class="mono" text-anchor="middle" fill="#111" textLength="75.1" lengthAdjust="spacingAndGlyphs">Gaussian filtering</text>
<rect x="31.3" y="268.90000000000003" width="34.0" height="8.3" rx="1.2" fill="#fff" stroke="#111" stroke-width="0.7"/><text x="33.5" y="275.3" font-size="6.9" class="mono" fill="#111" textLength="29.6" lengthAdjust="spacingAndGlyphs">SNR=2.612</text>
<rect x="31.3" y="279.8" width="38.3" height="8.3" rx="1.2" fill="#fff" stroke="#111" stroke-width="0.7"/><text x="33.5" y="286.2" font-size="6.9" class="mono" fill="#111" textLength="33.9" lengthAdjust="spacingAndGlyphs">RMSE=0.055</text>
<rect x="31.3" y="290.6" width="38.3" height="8.3" rx="1.2" fill="#fff" stroke="#111" stroke-width="0.7"/><text x="33.5" y="297.0" font-size="6.9" class="mono" fill="#111" textLength="33.9" lengthAdjust="spacingAndGlyphs">SSIM=0.982</text>
<clipPath id="cpt"><rect x="312.3" y="267.6" width="188.7" height="71.09999999999997"/></clipPath>
<g clip-path="url(#cpt)">
<g filter="url(#nzt)">
<rect x="309.3" y="264.6" width="194.7" height="77.09999999999997" fill="#5d5d5d"/>
<g filter="url(#bl3)">
<polygon points="312.3,307.0 312.9,306.0 314.0,302.4 315.1,298.8 316.2,296.2 317.3,300.2 318.4,302.8 319.5,307.3 320.8,311.1 322.1,314.5 323.4,318.5 324.5,313.0 325.6,309.3 326.7,304.7 328.6,297.5 329.6,300.9 330.6,306.0 331.9,309.6 333.2,312.6 334.5,317.2 335.8,319.0 337.0,316.9 338.1,316.3 339.3,315.8 340.4,313.9 341.5,312.3 342.6,311.6 343.7,311.3 345.6,310.6 347.0,312.5 348.3,313.9 349.6,314.5 350.9,313.9 352.2,311.7 353.5,310.0 354.5,306.8 355.5,304.0 356.8,295.0 358.1,294.3 360.1,298.2 361.4,298.8 362.8,297.5 363.2,330.9 363.2,339.1 312.3,339.1" fill="#696969"/>
<polygon points="320.8,316.0 322.1,319.4 323.4,323.4 324.5,317.9 325.6,314.2 326.7,309.6 328.6,302.4 329.6,305.7 330.6,310.9 331.9,314.5 333.2,317.5 334.5,322.1 335.8,323.9 337.0,321.8 338.1,321.2 339.3,320.7 340.4,318.8 341.5,317.2 342.6,316.5 343.7,316.2 345.6,315.5 347.0,317.4 348.3,318.8 349.6,319.4 350.9,318.8 352.2,316.5 353.5,314.9 354.5,311.7 355.5,308.9 356.8,299.9 358.1,299.2 360.1,303.1 361.4,339.1 319.8,339.1" fill="#878787"/>
<polygon points="444.4,263.5 508.5,263.5 508.5,292.8 474.6,283.0 451.9,278.1" fill="#595959"/>
<polygon points="442.5,284.6 463.3,285.4 508.5,298.4 508.5,339.9 442.5,339.9" fill="#626262"/>
<polygon points="446.3,309.0 463.3,321.2 482.1,330.9 482.1,339.9 446.3,339.9" fill="#5e5e5e"/>
</g>
<g filter="url(#bl2)">
<polygon points="446.3,289.5 455.7,290.3 482.1,300.1 508.5,306.6 508.5,332.6 482.1,325.2 463.3,314.7 450.1,300.9 446.3,296.8" fill="#808080"/>
</g>
<g filter="url(#bl1)">
<polygon points="390.0,271.6 405.7,271.6 404.4,297.6 391.2,297.6" fill="#454545"/>
<polygon points="393.1,274.9 401.0,274.9 400.6,299.2 393.8,299.2" fill="#262626"/>
<polygon points="363.2,266.8 365.5,266.8 365.5,291.1 363.2,291.1" fill="#454545"/>
<polygon points="373.1,270.0 375.7,270.0 375.7,287.1 373.1,287.1" fill="#454545"/>
<polygon points="368.9,266.8 370.4,266.8 370.4,283.0 368.9,283.0" fill="#454545"/>
<polygon points="378.7,266.8 380.2,266.8 380.2,286.2 378.7,286.2" fill="#4d4d4d"/>
<polygon points="384.9,266.8 386.8,266.8 386.8,290.3 384.9,290.3" fill="#4d4d4d"/>
<polygon points="410.4,270.0 412.3,270.0 412.3,287.9 410.4,287.9" fill="#4d4d4d"/>
<polygon points="420.8,266.8 422.7,266.8 422.7,286.2 420.8,286.2" fill="#4d4d4d"/>
</g>
<rect x="429.2" y="286.2" width="2.8" height="55.2" fill="#0d0d0d"/>
<rect x="433.3" y="286.2" width="2.6" height="55.2" fill="#0d0d0d"/>
<rect x="432.0" y="286.2" width="1.3" height="55.2" fill="#454545"/>
<rect x="445.1" y="289.5" width="1.1" height="50.4" fill="#0d0d0d"/>
<rect x="444.8" y="287.5" width="1.6" height="1.8" fill="#e6e6e6"/>
<polygon points="392.3,265.9 396.5,265.9 400.2,276.5 397.6,276.5" fill="#9e9e9e"/>
<polygon points="398.3,265.9 401.7,265.9 405.5,274.1 403.3,274.1" fill="#949494"/>
<polygon points="365.9,269.2 367.8,269.2 367.8,279.8 365.9,279.8" fill="#8f8f8f"/>
<polygon points="359.3,273.2 361.7,273.2 361.7,285.0 359.3,285.0" fill="#ababab"/>
<g filter="url(#bl1)"><ellipse cx="439.7" cy="329.7" rx="2.5" ry="5.3" fill="#9e9e9e"/></g>
<path d="M428.9,287.9 L428.9,281.4 Q430.0,275.7 432.7,276.1 Q436.3,278.5 436.8,287.9 Z" fill="#b2b2b2"/>
<path d="M429.5,285.0 L429.5,281.4 Q430.6,276.9 432.7,277.3 Q435.5,279.3 436.1,285.0 Z" fill="#e6e6e6"/>
</g>
<rect x="428.9" y="334.71" width="73.1" height="0.75" fill="#2aa0e8"/>
<rect x="428.9" y="335.41" width="73.1" height="1.35" fill="#ffffff"/>
<rect x="428.9" y="336.71" width="73.1" height="0.75" fill="#f8a000"/>
<rect x="428.9" y="337.41" width="73.1" height="0.85" fill="#f8e400"/>
<rect x="428.9" y="338.21" width="73.1" height="1.85" fill="#189848"/>
<defs><polygon id="tpt" points="312.3,318.3 313.3,318.3 313.3,315.4 314.3,315.4 314.3,312.9 315.3,312.9 315.3,309.3 316.3,309.3 316.3,310.6 317.3,310.6 317.3,313.7 318.3,313.7 318.3,315.9 319.3,315.9 319.3,320.4 320.3,320.4 320.3,323.6 321.3,323.6 321.3,326.5 322.3,326.5 322.3,327.9 323.3,327.9 323.3,328.3 324.3,328.3 324.3,323.4 325.3,323.4 325.3,321.4 326.3,321.4 326.3,317.0 327.3,317.0 327.3,311.8 328.3,311.8 328.3,311.4 329.3,311.4 329.3,315.0 330.3,315.0 330.3,319.0 331.3,319.0 331.3,321.7 332.3,321.7 332.3,323.1 333.3,323.1 333.3,325.8 334.3,325.8 334.3,329.8 335.3,329.8 335.3,330.2 336.3,330.2 336.3,328.8 337.3,328.8 337.3,328.1 338.3,328.1 338.3,327.2 339.3,327.2 339.3,327.1 340.3,327.1 340.3,325.4 341.3,325.4 341.3,325.1 342.3,325.1 342.3,323.8 343.3,323.8 343.3,323.8 344.3,323.8 344.3,323.1 345.3,323.1 345.3,323.4 346.3,323.4 346.3,324.3 347.3,324.3 347.3,325.1 348.3,325.1 348.3,327.4 349.3,327.4 349.3,327.7 350.3,327.7 350.3,326.9 351.3,326.9 351.3,325.1 352.3,325.1 352.3,322.7 353.3,322.7 353.3,320.8 354.3,320.8 354.3,317.8 355.3,317.8 355.3,313.5 356.3,313.5 356.3,308.1 357.3,308.1 357.3,306.5 358.3,306.5 358.3,308.6 359.3,308.6 359.3,309.6 360.3,309.6 360.3,311.7 361.3,311.7 361.3,311.4 362.3,311.4 362.3,308.5 363.3,308.5 363.3,307.3 364.3,307.3 364.3,306.9 365.3,306.9 365.3,302.9 366.3,302.9 366.3,303.0 367.3,303.0 367.3,298.9 368.3,298.9 368.3,296.6 369.3,296.6 369.3,296.6 370.3,296.6 370.3,295.9 371.3,295.9 371.3,294.3 372.3,294.3 372.3,292.5 373.3,292.5 373.3,292.0 374.3,292.0 374.3,293.0 375.3,293.0 375.3,292.1 376.3,292.1 376.3,291.6 377.3,291.6 377.3,291.2 378.3,291.2 378.3,291.2 379.3,291.2 379.3,291.8 380.3,291.8 380.3,294.6 381.3,294.6 381.3,293.5 382.3,293.5 382.3,294.3 383.3,294.3 383.3,293.4 384.3,293.4 384.3,291.3 385.3,291.3 385.3,291.3 386.3,291.3 386.3,290.3 387.3,290.3 387.3,292.1 388.3,292.1 388.3,292.2 389.3,292.2 389.3,293.7 390.3,293.7 390.3,292.9 391.3,292.9 391.3,292.4 392.3,292.4 392.3,292.8 393.3,292.8 393.3,292.1 394.3,292.1 394.3,291.5 395.3,291.5 395.3,294.0 396.3,294.0 396.3,293.9 397.3,293.9 397.3,294.0 398.3,294.0 398.3,295.8 399.3,295.8 399.3,295.6 400.3,295.6 400.3,294.1 401.3,294.1 401.3,295.3 402.3,295.3 402.3,292.9 403.3,292.9 403.3,292.8 404.3,292.8 404.3,293.4 405.3,293.4 405.3,291.7 406.3,291.7 406.3,291.0 407.3,291.0 407.3,289.5 408.3,289.5 408.3,288.4 409.3,288.4 409.3,289.1 410.3,289.1 410.3,290.8 411.3,290.8 411.3,293.0 412.3,293.0 412.3,293.9 413.3,293.9 413.3,295.4 414.3,295.4 414.3,297.7 415.3,297.7 415.3,296.9 416.3,296.9 416.3,296.0 417.3,296.0 417.3,296.2 418.3,296.2 418.3,294.0 419.3,294.0 419.3,293.0 420.3,293.0 420.3,293.6 421.3,293.6 421.3,291.8 422.3,291.8 422.3,288.9 423.3,288.9 423.3,291.7 424.3,291.7 424.3,300.1 425.3,300.1 425.3,302.8 426.3,302.8 426.3,303.2 427.3,303.2 427.3,307.2 428.3,307.2 428.3,311.1 429.3,311.1 429.3,405.0 429.4,405.0 429.4,340.7 312.3,340.7"/></defs>
<g filter="url(#soft)">
<use href="#tpt" y="0.00" fill="#ffffff"/>
<use href="#tpt" y="1.10" fill="#f04a88"/>
<use href="#tpt" y="1.50" fill="#f03020"/>
<use href="#tpt" y="2.10" fill="#f8a000"/>
<use href="#tpt" y="2.90" fill="#f8e400"/>
<use href="#tpt" y="4.00" fill="#189848"/>
<use href="#tpt" y="5.10" fill="#3cc8e8"/>
<use href="#tpt" y="6.30" fill="#1560c0"/>
<use href="#tpt" y="7.50" fill="#0b328c"/>
</g>
</g>
<text x="309.3" y="337.5" font-size="7.0" class="mono" text-anchor="end" fill="#111">0</text>
<line x1="310.8" y1="335.0" x2="312.3" y2="335.0" stroke="#222" stroke-width="0.5"/>
<text x="309.3" y="321.3" font-size="7.0" class="mono" text-anchor="end" fill="#111">2</text>
<line x1="310.8" y1="318.8" x2="312.3" y2="318.8" stroke="#222" stroke-width="0.5"/>
<text x="309.3" y="305.0" font-size="7.0" class="mono" text-anchor="end" fill="#111">4</text>
<line x1="310.8" y1="302.5" x2="312.3" y2="302.5" stroke="#222" stroke-width="0.5"/>
<text x="309.3" y="288.8" font-size="7.0" class="mono" text-anchor="end" fill="#111">6</text>
<line x1="310.8" y1="286.2" x2="312.3" y2="286.2" stroke="#222" stroke-width="0.5"/>
<text x="309.3" y="272.5" font-size="7.0" class="mono" text-anchor="end" fill="#111">8</text>
<line x1="310.8" y1="270.0" x2="312.3" y2="270.0" stroke="#222" stroke-width="0.5"/>
<text transform="translate(301.3,303.65) rotate(-90)" font-size="7.2" class="mono" text-anchor="middle" fill="#111" textLength="33.6" lengthAdjust="spacingAndGlyphs">Height/km</text>
<rect x="513.5" y="267.60" width="3.9" height="14.14" fill="#ffffff"/>
<rect x="513.5" y="281.54" width="3.9" height="13.78" fill="url(#gg)"/>
<rect x="513.5" y="295.12" width="3.9" height="5.03" fill="#f04a88"/>
<rect x="513.5" y="299.95" width="3.9" height="5.46" fill="#f03020"/>
<rect x="513.5" y="305.21" width="3.9" height="4.61" fill="#f8a000"/>
<rect x="513.5" y="309.62" width="3.9" height="7.95" fill="#f8e400"/>
<rect x="513.5" y="317.37" width="3.9" height="4.11" fill="#189848"/>
<rect x="513.5" y="321.28" width="3.9" height="6.03" fill="#20b09a"/>
<rect x="513.5" y="327.11" width="3.9" height="3.26" fill="#3cc8e8"/>
<rect x="513.5" y="330.17" width="3.9" height="2.90" fill="#2aa0e8"/>
<rect x="513.5" y="332.87" width="3.9" height="3.68" fill="#1560c0"/>
<rect x="513.5" y="336.35" width="3.9" height="2.55" fill="#0b328c"/>
<rect x="513.5" y="267.6" width="3.9" height="71.10" fill="none" stroke="#8a8a8a" stroke-width="0.5"/>
<line x1="517.4" y1="272.2" x2="518.6" y2="272.2" stroke="#555" stroke-width="0.4"/>
<text x="520.0" y="274.1" font-size="5.6" class="mono" fill="#222" textLength="16.5" lengthAdjust="spacingAndGlyphs">0.0800</text>
<line x1="517.4" y1="275.7" x2="518.6" y2="275.7" stroke="#555" stroke-width="0.4"/>
<text x="520.0" y="277.6" font-size="5.6" class="mono" fill="#222" textLength="16.5" lengthAdjust="spacingAndGlyphs">0.0600</text>
<line x1="517.4" y1="279.6" x2="518.6" y2="279.6" stroke="#555" stroke-width="0.4"/>
<text x="520.0" y="281.5" font-size="5.6" class="mono" fill="#222" textLength="16.5" lengthAdjust="spacingAndGlyphs">0.0400</text>
<line x1="517.4" y1="286.4" x2="518.6" y2="286.4" stroke="#555" stroke-width="0.4"/>
<text x="520.0" y="288.3" font-size="5.6" class="mono" fill="#222" textLength="16.5" lengthAdjust="spacingAndGlyphs">0.0100</text>
<line x1="517.4" y1="290.3" x2="518.6" y2="290.3" stroke="#555" stroke-width="0.4"/>
<text x="520.0" y="292.2" font-size="5.6" class="mono" fill="#222" textLength="16.5" lengthAdjust="spacingAndGlyphs">0.0075</text>
<line x1="517.4" y1="294.1" x2="518.6" y2="294.1" stroke="#555" stroke-width="0.4"/>
<text x="520.0" y="296.0" font-size="5.6" class="mono" fill="#222" textLength="16.5" lengthAdjust="spacingAndGlyphs">0.0065</text>
<line x1="517.4" y1="298.0" x2="518.6" y2="298.0" stroke="#555" stroke-width="0.4"/>
<text x="520.0" y="299.9" font-size="5.6" class="mono" fill="#222" textLength="16.5" lengthAdjust="spacingAndGlyphs">0.0055</text>
<line x1="517.4" y1="301.9" x2="518.6" y2="301.9" stroke="#555" stroke-width="0.4"/>
<text x="520.0" y="303.8" font-size="5.6" class="mono" fill="#222" textLength="16.5" lengthAdjust="spacingAndGlyphs">0.0045</text>
<line x1="517.4" y1="306.7" x2="518.6" y2="306.7" stroke="#555" stroke-width="0.4"/>
<text x="520.0" y="308.6" font-size="5.6" class="mono" fill="#222" textLength="16.5" lengthAdjust="spacingAndGlyphs">0.0035</text>
<line x1="517.4" y1="311.6" x2="518.6" y2="311.6" stroke="#555" stroke-width="0.4"/>
<text x="520.0" y="313.5" font-size="5.6" class="mono" fill="#222" textLength="16.5" lengthAdjust="spacingAndGlyphs">0.0025</text>
<line x1="517.4" y1="318.4" x2="518.6" y2="318.4" stroke="#555" stroke-width="0.4"/>
<text x="520.0" y="320.3" font-size="5.6" class="mono" fill="#222" textLength="16.5" lengthAdjust="spacingAndGlyphs">0.0010</text>
<line x1="517.4" y1="322.6" x2="518.6" y2="322.6" stroke="#555" stroke-width="0.4"/>
<text x="520.0" y="324.5" font-size="5.6" class="mono" fill="#222" textLength="16.5" lengthAdjust="spacingAndGlyphs">0.0008</text>
<line x1="517.4" y1="327.1" x2="518.6" y2="327.1" stroke="#555" stroke-width="0.4"/>
<text x="520.0" y="329.0" font-size="5.6" class="mono" fill="#222" textLength="16.5" lengthAdjust="spacingAndGlyphs">0.0006</text>
<line x1="517.4" y1="331.5" x2="518.6" y2="331.5" stroke="#555" stroke-width="0.4"/>
<text x="520.0" y="333.4" font-size="5.6" class="mono" fill="#222" textLength="16.5" lengthAdjust="spacingAndGlyphs">0.0004</text>
<line x1="517.4" y1="338.3" x2="518.6" y2="338.3" stroke="#555" stroke-width="0.4"/>
<text x="520.0" y="340.2" font-size="5.6" class="mono" fill="#222" textLength="16.5" lengthAdjust="spacingAndGlyphs">0.0001</text>
<text x="407.1" y="265.0" font-size="8.2" class="mono" text-anchor="middle" fill="#111" textLength="87.6" lengthAdjust="spacingAndGlyphs">Three-point smoothing</text>
<rect x="313.6" y="268.90000000000003" width="34.0" height="8.3" rx="1.2" fill="#fff" stroke="#111" stroke-width="0.7"/><text x="315.8" y="275.3" font-size="6.9" class="mono" fill="#111" textLength="29.6" lengthAdjust="spacingAndGlyphs">SNR=2.764</text>
<rect x="313.6" y="279.8" width="38.3" height="8.3" rx="1.2" fill="#fff" stroke="#111" stroke-width="0.7"/><text x="315.8" y="286.2" font-size="6.9" class="mono" fill="#111" textLength="33.9" lengthAdjust="spacingAndGlyphs">RMSE=0.053</text>
<rect x="313.6" y="290.6" width="38.3" height="8.3" rx="1.2" fill="#fff" stroke="#111" stroke-width="0.7"/><text x="315.8" y="297.0" font-size="6.9" class="mono" fill="#111" textLength="33.9" lengthAdjust="spacingAndGlyphs">SSIM=0.984</text>
<clipPath id="cpb"><rect x="30.0" y="353.4" width="188.5" height="71.0"/></clipPath>
<g clip-path="url(#cpb)">
<g filter="url(#nzb)">
<rect x="27.0" y="350.4" width="194.5" height="77.0" fill="#5d5d5d"/>
<g filter="url(#bl3)">
<polygon points="30.0,392.7 30.6,391.7 31.7,388.1 32.8,384.5 33.9,381.9 35.0,385.9 36.1,388.5 37.2,393.0 38.5,396.8 39.8,400.2 41.1,404.2 42.2,398.7 43.3,395.0 44.4,390.4 46.3,383.2 47.3,386.6 48.3,391.7 49.6,395.3 50.9,398.3 52.2,402.9 53.5,404.7 54.6,402.6 55.8,402.0 57.0,401.5 58.1,399.6 59.2,398.0 60.3,397.3 61.4,397.0 63.3,396.3 64.6,398.2 66.0,399.6 67.3,400.2 68.6,399.6 69.9,397.3 71.2,395.7 72.2,392.5 73.2,389.7 74.5,380.7 75.8,380.0 77.7,383.9 79.0,384.5 80.4,383.2 80.9,416.6 80.9,424.6 30.0,424.6" fill="#666666"/>
<polygon points="38.5,401.6 39.8,405.0 41.1,409.0 42.2,403.6 43.3,399.9 44.4,395.3 46.3,388.1 47.3,391.4 48.3,396.6 49.6,400.2 50.9,403.2 52.2,407.7 53.5,409.5 54.6,407.5 55.8,406.8 57.0,406.3 58.1,404.4 59.2,402.8 60.3,402.2 61.4,401.8 63.3,401.1 64.6,403.0 66.0,404.4 67.3,405.0 68.6,404.4 69.9,402.2 71.2,400.5 72.2,397.4 73.2,394.6 74.5,385.6 75.8,384.9 77.7,388.8 79.0,424.6 37.5,424.6" fill="#858585"/>
<polygon points="161.9,349.3 226.0,349.3 226.0,378.5 192.1,368.8 169.5,363.9" fill="#5b5b5b"/>
<polygon points="160.1,370.4 180.8,371.2 226.0,384.2 226.0,425.5 160.1,425.5" fill="#626262"/>
<polygon points="163.8,394.7 180.8,406.8 199.7,416.6 199.7,425.5 163.8,425.5" fill="#606060"/>
</g>
<g filter="url(#bl2)">
<polygon points="163.8,375.2 173.3,376.1 199.7,385.8 226.0,392.2 226.0,418.2 199.7,410.9 180.8,400.4 167.6,386.6 163.8,382.5" fill="#808080"/>
</g>
<g filter="url(#bl1)">
<polygon points="107.7,357.4 123.3,357.4 122.0,383.3 108.8,383.3" fill="#4c4c4c"/>
<polygon points="110.7,360.7 118.6,360.7 118.2,385.0 111.4,385.0" fill="#383838"/>
<polygon points="80.9,352.6 83.2,352.6 83.2,376.9 80.9,376.9" fill="#4c4c4c"/>
<polygon points="90.7,355.8 93.3,355.8 93.3,372.8 90.7,372.8" fill="#4c4c4c"/>
<polygon points="86.5,352.6 88.1,352.6 88.1,368.8 86.5,368.8" fill="#4c4c4c"/>
<polygon points="96.4,352.6 97.9,352.6 97.9,372.0 96.4,372.0" fill="#545454"/>
<polygon points="102.6,352.6 104.5,352.6 104.5,376.1 102.6,376.1" fill="#545454"/>
<polygon points="128.0,355.8 129.9,355.8 129.9,373.6 128.0,373.6" fill="#545454"/>
<polygon points="138.4,352.6 140.3,352.6 140.3,372.0 138.4,372.0" fill="#545454"/>
</g>
<rect x="146.8" y="372.0" width="2.8" height="55.1" fill="#1f1f1f"/>
<rect x="150.9" y="372.0" width="2.6" height="55.1" fill="#1f1f1f"/>
<rect x="149.6" y="372.0" width="1.3" height="55.1" fill="#4c4c4c"/>
<rect x="162.7" y="375.2" width="1.1" height="50.2" fill="#1f1f1f"/>
<rect x="162.3" y="373.2" width="1.6" height="1.8" fill="#e6e6e6"/>
<polygon points="109.9,351.8 114.1,351.8 117.8,362.3 115.2,362.3" fill="#9e9e9e"/>
<polygon points="116.0,351.8 119.3,351.8 123.1,359.9 120.9,359.9" fill="#949494"/>
<polygon points="83.5,355.0 85.4,355.0 85.4,365.5 83.5,365.5" fill="#8f8f8f"/>
<polygon points="76.9,359.0 79.4,359.0 79.4,370.8 76.9,370.8" fill="#ababab"/>
<g filter="url(#bl1)"><ellipse cx="157.2" cy="415.3" rx="2.5" ry="5.3" fill="#a1a1a1"/></g>
<path d="M146.5,373.6 L146.5,367.1 Q147.6,361.5 150.3,361.9 Q153.8,364.3 154.4,373.6 Z" fill="#adadad"/>
<path d="M147.1,370.8 L147.1,367.1 Q148.2,362.7 150.3,363.1 Q153.1,365.1 153.7,370.8 Z" fill="#e0e0e0"/>
</g>
<rect x="146.5" y="420.31" width="73.0" height="0.75" fill="#2aa0e8"/>
<rect x="146.5" y="421.01" width="73.0" height="1.35" fill="#ffffff"/>
<rect x="146.5" y="422.31" width="73.0" height="0.75" fill="#f8a000"/>
<rect x="146.5" y="423.01" width="73.0" height="0.85" fill="#f8e400"/>
<rect x="146.5" y="423.81" width="73.0" height="1.85" fill="#189848"/>
<defs><polygon id="tpb" points="30.0,404.0 31.0,404.0 31.0,401.0 32.0,401.0 32.0,398.2 33.0,398.2 33.0,395.0 34.0,395.0 34.0,396.3 35.0,396.3 35.0,399.4 36.0,399.4 36.0,401.8 37.0,401.8 37.0,406.0 38.0,406.0 38.0,409.1 39.0,409.1 39.0,412.0 40.0,412.0 40.0,413.9 41.0,413.9 41.0,414.1 42.0,414.1 42.0,409.3 43.0,409.3 43.0,406.8 44.0,406.8 44.0,402.4 45.0,402.4 45.0,397.8 46.0,397.8 46.0,396.7 47.0,396.7 47.0,400.4 48.0,400.4 48.0,404.6 49.0,404.6 49.0,407.3 50.0,407.3 50.0,409.1 51.0,409.1 51.0,411.9 52.0,411.9 52.0,415.5 53.0,415.5 53.0,416.2 54.0,416.2 54.0,414.6 55.0,414.6 55.0,413.9 56.0,413.9 56.0,413.2 57.0,413.2 57.0,412.7 58.0,412.7 58.0,411.1 59.0,411.1 59.0,410.4 60.0,410.4 60.0,409.4 61.0,409.4 61.0,409.3 62.0,409.3 62.0,408.7 63.0,408.7 63.0,408.9 64.0,408.9 64.0,410.1 65.0,410.1 65.0,410.9 66.0,410.9 66.0,412.7 67.0,412.7 67.0,412.9 68.0,412.9 68.0,412.2 69.0,412.2 69.0,410.5 70.0,410.5 70.0,408.5 71.0,408.5 71.0,406.5 72.0,406.5 72.0,403.5 73.0,403.5 73.0,399.2 74.0,399.2 74.0,393.3 75.0,393.3 75.0,392.2 76.0,392.2 76.0,394.1 77.0,394.1 77.0,395.5 78.0,395.5 78.0,397.1 79.0,397.1 79.0,396.7 80.0,396.7 80.0,394.5 81.0,394.5 81.0,393.1 82.0,393.1 82.0,392.1 83.0,392.1 83.0,388.5 84.0,388.5 84.0,388.3 85.0,388.3 85.0,384.5 86.0,384.5 86.0,382.6 87.0,382.6 87.0,382.1 88.0,382.1 88.0,381.4 89.0,381.4 89.0,380.2 90.0,380.2 90.0,378.4 91.0,378.4 91.0,377.9 92.0,377.9 92.0,378.3 93.0,378.3 93.0,377.7 94.0,377.7 94.0,377.6 95.0,377.6 95.0,377.1 96.0,377.1 96.0,377.3 97.0,377.3 97.0,378.0 98.0,378.0 98.0,380.2 99.0,380.2 99.0,379.5 100.0,379.5 100.0,379.9 101.0,379.9 101.0,379.1 102.0,379.1 102.0,377.2 103.0,377.2 103.0,376.9 104.0,376.9 104.0,376.4 105.0,376.4 105.0,377.8 106.0,377.8 106.0,378.4 107.0,378.4 107.0,379.5 108.0,379.5 108.0,378.8 109.0,378.8 109.0,378.2 110.0,378.2 110.0,378.1 111.0,378.1 111.0,377.6 112.0,377.6 112.0,377.5 113.0,377.5 113.0,379.6 114.0,379.6 114.0,379.8 115.0,379.8 115.0,379.8 116.0,379.8 116.0,381.3 117.0,381.3 117.0,381.2 118.0,381.2 118.0,380.1 119.0,380.1 119.0,380.6 120.0,380.6 120.0,378.8 121.0,378.8 121.0,378.6 122.0,378.6 122.0,378.9 123.0,378.9 123.0,377.5 124.0,377.5 124.0,376.9 125.0,376.9 125.0,375.4 126.0,375.4 126.0,374.4 127.0,374.4 127.0,375.1 128.0,375.1 128.0,376.9 129.0,376.9 129.0,378.8 130.0,378.8 130.0,379.8 131.0,379.8 131.0,381.3 132.0,381.3 132.0,383.1 133.0,383.1 133.0,382.5 134.0,382.5 134.0,381.5 135.0,381.5 135.0,381.6 136.0,381.6 136.0,379.9 137.0,379.9 137.0,378.9 138.0,378.9 138.0,378.8 139.0,378.8 139.0,377.1 140.0,377.1 140.0,375.1 141.0,375.1 141.0,378.0 142.0,378.0 142.0,386.1 143.0,386.1 143.0,388.4 144.0,388.4 144.0,389.4 145.0,389.4 145.0,392.9 146.0,392.9 146.0,398.6 147.0,398.6 147.0,426.4 30.0,426.4"/></defs>
<g filter="url(#soft)">
<use href="#tpb" y="0.00" fill="#ffffff"/>
<use href="#tpb" y="2.00" fill="#f03020"/>
<use href="#tpb" y="2.30" fill="#f8a000"/>
<use href="#tpb" y="2.90" fill="#f8e400"/>
<use href="#tpb" y="4.00" fill="#189848"/>
<use href="#tpb" y="5.00" fill="#3cc8e8"/>
<use href="#tpb" y="6.20" fill="#1560c0"/>
<use href="#tpb" y="7.40" fill="#0b328c"/>
</g>
</g>
<text x="27.0" y="423.1" font-size="7.0" class="mono" text-anchor="end" fill="#111">0</text>
<line x1="28.5" y1="420.6" x2="30.0" y2="420.6" stroke="#222" stroke-width="0.5"/>
<text x="27.0" y="406.9" font-size="7.0" class="mono" text-anchor="end" fill="#111">2</text>
<line x1="28.5" y1="404.4" x2="30.0" y2="404.4" stroke="#222" stroke-width="0.5"/>
<text x="27.0" y="390.7" font-size="7.0" class="mono" text-anchor="end" fill="#111">4</text>
<line x1="28.5" y1="388.2" x2="30.0" y2="388.2" stroke="#222" stroke-width="0.5"/>
<text x="27.0" y="374.5" font-size="7.0" class="mono" text-anchor="end" fill="#111">6</text>
<line x1="28.5" y1="372.0" x2="30.0" y2="372.0" stroke="#222" stroke-width="0.5"/>
<text x="27.0" y="358.3" font-size="7.0" class="mono" text-anchor="end" fill="#111">8</text>
<line x1="28.5" y1="355.8" x2="30.0" y2="355.8" stroke="#222" stroke-width="0.5"/>
<text transform="translate(19.0,389.4) rotate(-90)" font-size="7.2" class="mono" text-anchor="middle" fill="#111" textLength="33.6" lengthAdjust="spacingAndGlyphs">Height/km</text>
<rect x="230.5" y="353.40" width="3.9" height="14.12" fill="#ffffff"/>
<rect x="230.5" y="367.32" width="3.9" height="13.76" fill="url(#gg)"/>
<rect x="230.5" y="380.88" width="3.9" height="5.03" fill="#f04a88"/>
<rect x="230.5" y="385.70" width="3.9" height="5.45" fill="#f03020"/>
<rect x="230.5" y="390.96" width="3.9" height="4.60" fill="#f8a000"/>
<rect x="230.5" y="395.36" width="3.9" height="7.94" fill="#f8e400"/>
<rect x="230.5" y="403.10" width="3.9" height="4.11" fill="#189848"/>
<rect x="230.5" y="407.00" width="3.9" height="6.02" fill="#20b09a"/>
<rect x="230.5" y="412.83" width="3.9" height="3.25" fill="#3cc8e8"/>
<rect x="230.5" y="415.88" width="3.9" height="2.90" fill="#2aa0e8"/>
<rect x="230.5" y="418.58" width="3.9" height="3.68" fill="#1560c0"/>
<rect x="230.5" y="422.06" width="3.9" height="2.54" fill="#0b328c"/>
<rect x="230.5" y="353.4" width="3.9" height="71.00" fill="none" stroke="#8a8a8a" stroke-width="0.5"/>
<line x1="234.4" y1="358.0" x2="235.6" y2="358.0" stroke="#555" stroke-width="0.4"/>
<text x="237.0" y="359.9" font-size="5.6" class="mono" fill="#222" textLength="16.5" lengthAdjust="spacingAndGlyphs">0.0800</text>
<line x1="234.4" y1="361.5" x2="235.6" y2="361.5" stroke="#555" stroke-width="0.4"/>
<text x="237.0" y="363.4" font-size="5.6" class="mono" fill="#222" textLength="16.5" lengthAdjust="spacingAndGlyphs">0.0600</text>
<line x1="234.4" y1="365.4" x2="235.6" y2="365.4" stroke="#555" stroke-width="0.4"/>
<text x="237.0" y="367.3" font-size="5.6" class="mono" fill="#222" textLength="16.5" lengthAdjust="spacingAndGlyphs">0.0400</text>
<line x1="234.4" y1="372.1" x2="235.6" y2="372.1" stroke="#555" stroke-width="0.4"/>
<text x="237.0" y="374.0" font-size="5.6" class="mono" fill="#222" textLength="16.5" lengthAdjust="spacingAndGlyphs">0.0100</text>
<line x1="234.4" y1="376.0" x2="235.6" y2="376.0" stroke="#555" stroke-width="0.4"/>
<text x="237.0" y="377.9" font-size="5.6" class="mono" fill="#222" textLength="16.5" lengthAdjust="spacingAndGlyphs">0.0075</text>
<line x1="234.4" y1="379.9" x2="235.6" y2="379.9" stroke="#555" stroke-width="0.4"/>
<text x="237.0" y="381.8" font-size="5.6" class="mono" fill="#222" textLength="16.5" lengthAdjust="spacingAndGlyphs">0.0065</text>
<line x1="234.4" y1="383.8" x2="235.6" y2="383.8" stroke="#555" stroke-width="0.4"/>
<text x="237.0" y="385.7" font-size="5.6" class="mono" fill="#222" textLength="16.5" lengthAdjust="spacingAndGlyphs">0.0055</text>
<line x1="234.4" y1="387.6" x2="235.6" y2="387.6" stroke="#555" stroke-width="0.4"/>
<text x="237.0" y="389.5" font-size="5.6" class="mono" fill="#222" textLength="16.5" lengthAdjust="spacingAndGlyphs">0.0045</text>
<line x1="234.4" y1="392.4" x2="235.6" y2="392.4" stroke="#555" stroke-width="0.4"/>
<text x="237.0" y="394.3" font-size="5.6" class="mono" fill="#222" textLength="16.5" lengthAdjust="spacingAndGlyphs">0.0035</text>
<line x1="234.4" y1="397.3" x2="235.6" y2="397.3" stroke="#555" stroke-width="0.4"/>
<text x="237.0" y="399.2" font-size="5.6" class="mono" fill="#222" textLength="16.5" lengthAdjust="spacingAndGlyphs">0.0025</text>
<line x1="234.4" y1="404.1" x2="235.6" y2="404.1" stroke="#555" stroke-width="0.4"/>
<text x="237.0" y="406.0" font-size="5.6" class="mono" fill="#222" textLength="16.5" lengthAdjust="spacingAndGlyphs">0.0010</text>
<line x1="234.4" y1="408.4" x2="235.6" y2="408.4" stroke="#555" stroke-width="0.4"/>
<text x="237.0" y="410.3" font-size="5.6" class="mono" fill="#222" textLength="16.5" lengthAdjust="spacingAndGlyphs">0.0008</text>
<line x1="234.4" y1="412.8" x2="235.6" y2="412.8" stroke="#555" stroke-width="0.4"/>
<text x="237.0" y="414.7" font-size="5.6" class="mono" fill="#222" textLength="16.5" lengthAdjust="spacingAndGlyphs">0.0006</text>
<line x1="234.4" y1="417.2" x2="235.6" y2="417.2" stroke="#555" stroke-width="0.4"/>
<text x="237.0" y="419.1" font-size="5.6" class="mono" fill="#222" textLength="16.5" lengthAdjust="spacingAndGlyphs">0.0004</text>
<line x1="234.4" y1="424.0" x2="235.6" y2="424.0" stroke="#555" stroke-width="0.4"/>
<text x="237.0" y="425.9" font-size="5.6" class="mono" fill="#222" textLength="16.5" lengthAdjust="spacingAndGlyphs">0.0001</text>
<text x="124.8" y="350.8" font-size="8.2" class="mono" text-anchor="middle" fill="#111" textLength="79.2" lengthAdjust="spacingAndGlyphs">Bilateral filtering</text>
<rect x="31.3" y="354.7" width="34.0" height="8.3" rx="1.2" fill="#fff" stroke="#111" stroke-width="0.7"/><text x="33.5" y="361.1" font-size="6.9" class="mono" fill="#111" textLength="29.6" lengthAdjust="spacingAndGlyphs">SNR=3.318</text>
<rect x="31.3" y="365.59999999999997" width="38.3" height="8.3" rx="1.2" fill="#fff" stroke="#111" stroke-width="0.7"/><text x="33.5" y="372.0" font-size="6.9" class="mono" fill="#111" textLength="33.9" lengthAdjust="spacingAndGlyphs">RMSE=0.050</text>
<rect x="31.3" y="376.4" width="38.3" height="8.3" rx="1.2" fill="#fff" stroke="#111" stroke-width="0.7"/><text x="33.5" y="382.8" font-size="6.9" class="mono" fill="#111" textLength="33.9" lengthAdjust="spacingAndGlyphs">SSIM=0.986</text>
<clipPath id="cpm"><rect x="312.3" y="353.4" width="188.7" height="71.0"/></clipPath>
<g clip-path="url(#cpm)">
<g filter="url(#nzm)">
<rect x="309.3" y="350.4" width="194.7" height="77.0" fill="#414141"/>
<g filter="url(#bl3)">
<polygon points="312.3,392.7 312.9,391.7 314.0,388.1 315.1,384.5 316.2,381.9 317.3,385.9 318.4,388.5 319.5,393.0 320.8,396.8 322.1,400.2 323.4,404.2 324.5,398.7 325.6,395.0 326.7,390.4 328.6,383.2 329.6,386.6 330.6,391.7 331.9,395.3 333.2,398.3 334.5,402.9 335.8,404.7 337.0,402.6 338.1,402.0 339.3,401.5 340.4,399.6 341.5,398.0 342.6,397.3 343.7,397.0 345.6,396.3 347.0,398.2 348.3,399.6 349.6,400.2 350.9,399.6 352.2,397.3 353.5,395.7 354.5,392.5 355.5,389.7 356.8,380.7 358.1,380.0 360.1,383.9 361.4,384.5 362.8,383.2 363.2,416.6 363.2,424.6 312.3,424.6" fill="#595959"/>
<polygon points="320.8,401.6 322.1,405.0 323.4,409.0 324.5,403.6 325.6,399.9 326.7,395.3 328.6,388.1 329.6,391.4 330.6,396.6 331.9,400.2 333.2,403.2 334.5,407.7 335.8,409.5 337.0,407.5 338.1,406.8 339.3,406.3 340.4,404.4 341.5,402.8 342.6,402.2 343.7,401.8 345.6,401.1 347.0,403.0 348.3,404.4 349.6,405.0 350.9,404.4 352.2,402.2 353.5,400.5 354.5,397.4 355.5,394.6 356.8,385.6 358.1,384.9 360.1,388.8 361.4,424.6 319.8,424.6" fill="#808080"/>
<polygon points="444.4,349.3 508.5,349.3 508.5,378.5 474.6,368.8 451.9,363.9" fill="#3d3d3d"/>
<polygon points="442.5,370.4 463.3,371.2 508.5,384.2 508.5,425.5 442.5,425.5" fill="#4b4b4b"/>
<polygon points="446.3,394.7 463.3,406.8 482.1,416.6 482.1,425.5 446.3,425.5" fill="#454545"/>
</g>
<g filter="url(#bl2)">
<polygon points="446.3,375.2 455.7,376.1 482.1,385.8 508.5,392.2 508.5,418.2 482.1,410.9 463.3,400.4 450.1,386.6 446.3,382.5" fill="#6e6e6e"/>
</g>
<g filter="url(#bl1)">
<polygon points="390.0,357.4 405.7,357.4 404.4,383.3 391.2,383.3" fill="#262626"/>
<polygon points="393.1,360.7 401.0,360.7 400.6,385.0 393.8,385.0" fill="#1a1a1a"/>
<polygon points="363.2,352.6 365.5,352.6 365.5,376.9 363.2,376.9" fill="#262626"/>
<polygon points="373.1,355.8 375.7,355.8 375.7,372.8 373.1,372.8" fill="#262626"/>
<polygon points="368.9,352.6 370.4,352.6 370.4,368.8 368.9,368.8" fill="#262626"/>
<polygon points="378.7,352.6 380.2,352.6 380.2,372.0 378.7,372.0" fill="#2e2e2e"/>
<polygon points="384.9,352.6 386.8,352.6 386.8,376.1 384.9,376.1" fill="#2e2e2e"/>
<polygon points="410.4,355.8 412.3,355.8 412.3,373.6 410.4,373.6" fill="#2e2e2e"/>
<polygon points="420.8,352.6 422.7,352.6 422.7,372.0 420.8,372.0" fill="#2e2e2e"/>
</g>
<rect x="429.2" y="372.0" width="2.8" height="55.1" fill="#000000"/>
<rect x="433.3" y="372.0" width="2.6" height="55.1" fill="#000000"/>
<rect x="432.0" y="372.0" width="1.3" height="55.1" fill="#262626"/>
<rect x="445.1" y="375.2" width="1.1" height="50.2" fill="#000000"/>
<rect x="444.8" y="373.2" width="1.6" height="1.8" fill="#e6e6e6"/>
<polygon points="392.3,351.8 396.5,351.8 400.2,362.3 397.6,362.3" fill="#9e9e9e"/>
<polygon points="398.3,351.8 401.7,351.8 405.5,359.9 403.3,359.9" fill="#949494"/>
<polygon points="365.9,355.0 367.8,355.0 367.8,365.5 365.9,365.5" fill="#8f8f8f"/>
<polygon points="359.3,359.0 361.7,359.0 361.7,370.8 359.3,370.8" fill="#ababab"/>
<g filter="url(#bl1)"><ellipse cx="439.7" cy="415.3" rx="2.5" ry="5.3" fill="#999999"/></g>
<path d="M428.9,373.6 L428.9,367.1 Q430.0,361.5 432.7,361.9 Q436.3,364.3 436.8,373.6 Z" fill="#b2b2b2"/>
<path d="M429.5,370.8 L429.5,367.1 Q430.6,362.7 432.7,363.1 Q435.5,365.1 436.1,370.8 Z" fill="#e6e6e6"/>
</g>
<rect x="428.9" y="420.31" width="73.1" height="0.75" fill="#2aa0e8"/>
<rect x="428.9" y="421.01" width="73.1" height="1.35" fill="#ffffff"/>
<rect x="428.9" y="422.31" width="73.1" height="0.75" fill="#f8a000"/>
<rect x="428.9" y="423.01" width="73.1" height="0.85" fill="#f8e400"/>
<rect x="428.9" y="423.81" width="73.1" height="1.85" fill="#189848"/>
<defs><polygon id="tpm" points="312.3,403.9 313.3,403.9 313.3,401.1 314.3,401.1 314.3,398.9 315.3,398.9 315.3,394.9 316.3,394.9 316.3,396.3 317.3,396.3 317.3,399.5 318.3,399.5 318.3,401.3 319.3,401.3 319.3,406.0 320.3,406.0 320.3,409.3 321.3,409.3 321.3,412.4 322.3,412.4 322.3,413.2 323.3,413.2 323.3,413.8 324.3,413.8 324.3,408.7 325.3,408.7 325.3,407.3 326.3,407.3 326.3,402.8 327.3,402.8 327.3,397.1 328.3,397.1 328.3,397.4 329.3,397.4 329.3,401.0 330.3,401.0 330.3,404.8 331.3,404.8 331.3,407.5 332.3,407.5 332.3,408.5 333.3,408.5 333.3,411.0 334.3,411.0 334.3,415.5 335.3,415.5 335.3,415.5 336.3,415.5 336.3,414.1 337.3,414.1 337.3,413.5 338.3,413.5 338.3,412.4 339.3,412.4 339.3,412.7 340.3,412.7 340.3,411.0 341.3,411.0 341.3,411.0 342.3,411.0 342.3,409.5 343.3,409.5 343.3,409.5 344.3,409.5 344.3,408.7 345.3,408.7 345.3,409.2 346.3,409.2 346.3,409.9 347.3,409.9 347.3,410.5 348.3,410.5 348.3,413.4 349.3,413.4 349.3,413.7 350.3,413.7 350.3,412.8 351.3,412.8 351.3,410.9 352.3,410.9 352.3,408.2 353.3,408.2 353.3,406.2 354.3,406.2 354.3,403.3 355.3,403.3 355.3,398.8 356.3,398.8 356.3,394.0 357.3,394.0 357.3,392.1 358.3,392.1 358.3,394.6 359.3,394.6 359.3,395.2 360.3,395.2 360.3,397.8 361.3,397.8 361.3,397.3 362.3,397.3 362.3,393.8 363.3,393.8 363.3,392.8 364.3,392.8 364.3,393.0 365.3,393.0 365.3,388.5 366.3,388.5 366.3,389.1 367.3,389.1 367.3,384.5 368.3,384.5 368.3,382.0 369.3,382.0 369.3,382.4 370.3,382.4 370.3,381.8 371.3,381.8 371.3,379.9 372.3,379.9 372.3,377.9 373.3,377.9 373.3,377.6 374.3,377.6 374.3,379.1 375.3,379.1 375.3,378.1 376.3,378.1 376.3,377.0 377.3,377.0 377.3,376.7 378.3,376.7 378.3,376.6 379.3,376.6 379.3,377.2 380.3,377.2 380.3,380.6 381.3,380.6 381.3,379.0 382.3,379.0 382.3,380.0 383.3,380.0 383.3,379.1 384.3,379.1 384.3,376.8 385.3,376.8 385.3,377.2 386.3,377.2 386.3,375.7 387.3,375.7 387.3,377.9 388.3,377.9 388.3,377.6 389.3,377.6 389.3,379.4 390.3,379.4 390.3,378.4 391.3,378.4 391.3,377.9 392.3,377.9 392.3,379.0 393.3,379.0 393.3,378.1 394.3,378.1 394.3,377.1 395.3,377.1 395.3,380.1 396.3,380.1 396.3,379.4 397.3,379.4 397.3,379.7 398.3,379.7 398.3,381.8 399.3,381.8 399.3,381.4 400.3,381.4 400.3,379.5 401.3,379.5 401.3,381.5 402.3,381.5 402.3,378.4 403.3,378.4 403.3,378.3 404.3,378.3 404.3,379.4 405.3,379.4 405.3,377.3 406.3,377.3 406.3,376.6 407.3,376.6 407.3,374.8 408.3,374.8 408.3,373.8 409.3,373.8 409.3,374.9 410.3,374.9 410.3,376.4 411.3,376.4 411.3,378.9 412.3,378.9 412.3,379.5 413.3,379.5 413.3,381.0 414.3,381.0 414.3,383.8 415.3,383.8 415.3,382.6 416.3,382.6 416.3,381.8 417.3,381.8 417.3,382.2 418.3,382.2 418.3,379.5 419.3,379.5 419.3,378.5 420.3,378.5 420.3,379.7 421.3,379.7 421.3,377.8 422.3,377.8 422.3,374.4 423.3,374.4 423.3,377.1 424.3,377.1 424.3,386.0 425.3,386.0 425.3,388.9 426.3,388.9 426.3,388.6 427.3,388.6 427.3,393.3 428.3,393.3 428.3,397.1 429.3,397.1 429.3,490.5 429.4,490.5 429.4,426.4 312.3,426.4"/></defs>
<g filter="url(#soft)">
<use href="#tpm" y="0.00" fill="#ffffff"/>
<use href="#tpm" y="0.90" fill="#f04a88"/>
<use href="#tpm" y="1.30" fill="#f03020"/>
<use href="#tpm" y="2.00" fill="#f8a000"/>
<use href="#tpm" y="2.80" fill="#f8e400"/>
<use href="#tpm" y="3.90" fill="#189848"/>
<use href="#tpm" y="4.90" fill="#3cc8e8"/>
<use href="#tpm" y="6.00" fill="#1560c0"/>
<use href="#tpm" y="7.00" fill="#0b328c"/>
</g>
</g>
<text x="309.3" y="423.1" font-size="7.0" class="mono" text-anchor="end" fill="#111">0</text>
<line x1="310.8" y1="420.6" x2="312.3" y2="420.6" stroke="#222" stroke-width="0.5"/>
<text x="309.3" y="406.9" font-size="7.0" class="mono" text-anchor="end" fill="#111">2</text>
<line x1="310.8" y1="404.4" x2="312.3" y2="404.4" stroke="#222" stroke-width="0.5"/>
<text x="309.3" y="390.7" font-size="7.0" class="mono" text-anchor="end" fill="#111">4</text>
<line x1="310.8" y1="388.2" x2="312.3" y2="388.2" stroke="#222" stroke-width="0.5"/>
<text x="309.3" y="374.5" font-size="7.0" class="mono" text-anchor="end" fill="#111">6</text>
<line x1="310.8" y1="372.0" x2="312.3" y2="372.0" stroke="#222" stroke-width="0.5"/>
<text x="309.3" y="358.3" font-size="7.0" class="mono" text-anchor="end" fill="#111">8</text>
<line x1="310.8" y1="355.8" x2="312.3" y2="355.8" stroke="#222" stroke-width="0.5"/>
<text transform="translate(301.3,389.4) rotate(-90)" font-size="7.2" class="mono" text-anchor="middle" fill="#111" textLength="33.6" lengthAdjust="spacingAndGlyphs">Height/km</text>
<rect x="513.5" y="353.40" width="3.9" height="14.12" fill="#ffffff"/>
<rect x="513.5" y="367.32" width="3.9" height="13.76" fill="url(#gg)"/>
<rect x="513.5" y="380.88" width="3.9" height="5.03" fill="#f04a88"/>
<rect x="513.5" y="385.70" width="3.9" height="5.45" fill="#f03020"/>
<rect x="513.5" y="390.96" width="3.9" height="4.60" fill="#f8a000"/>
<rect x="513.5" y="395.36" width="3.9" height="7.94" fill="#f8e400"/>
<rect x="513.5" y="403.10" width="3.9" height="4.11" fill="#189848"/>
<rect x="513.5" y="407.00" width="3.9" height="6.02" fill="#20b09a"/>
<rect x="513.5" y="412.83" width="3.9" height="3.25" fill="#3cc8e8"/>
<rect x="513.5" y="415.88" width="3.9" height="2.90" fill="#2aa0e8"/>
<rect x="513.5" y="418.58" width="3.9" height="3.68" fill="#1560c0"/>
<rect x="513.5" y="422.06" width="3.9" height="2.54" fill="#0b328c"/>
<rect x="513.5" y="353.4" width="3.9" height="71.00" fill="none" stroke="#8a8a8a" stroke-width="0.5"/>
<line x1="517.4" y1="358.0" x2="518.6" y2="358.0" stroke="#555" stroke-width="0.4"/>
<text x="520.0" y="359.9" font-size="5.6" class="mono" fill="#222" textLength="16.5" lengthAdjust="spacingAndGlyphs">0.0800</text>
<line x1="517.4" y1="361.5" x2="518.6" y2="361.5" stroke="#555" stroke-width="0.4"/>
<text x="520.0" y="363.4" font-size="5.6" class="mono" fill="#222" textLength="16.5" lengthAdjust="spacingAndGlyphs">0.0600</text>
<line x1="517.4" y1="365.4" x2="518.6" y2="365.4" stroke="#555" stroke-width="0.4"/>
<text x="520.0" y="367.3" font-size="5.6" class="mono" fill="#222" textLength="16.5" lengthAdjust="spacingAndGlyphs">0.0400</text>
<line x1="517.4" y1="372.1" x2="518.6" y2="372.1" stroke="#555" stroke-width="0.4"/>
<text x="520.0" y="374.0" font-size="5.6" class="mono" fill="#222" textLength="16.5" lengthAdjust="spacingAndGlyphs">0.0100</text>
<line x1="517.4" y1="376.0" x2="518.6" y2="376.0" stroke="#555" stroke-width="0.4"/>
<text x="520.0" y="377.9" font-size="5.6" class="mono" fill="#222" textLength="16.5" lengthAdjust="spacingAndGlyphs">0.0075</text>
<line x1="517.4" y1="379.9" x2="518.6" y2="379.9" stroke="#555" stroke-width="0.4"/>
<text x="520.0" y="381.8" font-size="5.6" class="mono" fill="#222" textLength="16.5" lengthAdjust="spacingAndGlyphs">0.0065</text>
<line x1="517.4" y1="383.8" x2="518.6" y2="383.8" stroke="#555" stroke-width="0.4"/>
<text x="520.0" y="385.7" font-size="5.6" class="mono" fill="#222" textLength="16.5" lengthAdjust="spacingAndGlyphs">0.0055</text>
<line x1="517.4" y1="387.6" x2="518.6" y2="387.6" stroke="#555" stroke-width="0.4"/>
<text x="520.0" y="389.5" font-size="5.6" class="mono" fill="#222" textLength="16.5" lengthAdjust="spacingAndGlyphs">0.0045</text>
<line x1="517.4" y1="392.4" x2="518.6" y2="392.4" stroke="#555" stroke-width="0.4"/>
<text x="520.0" y="394.3" font-size="5.6" class="mono" fill="#222" textLength="16.5" lengthAdjust="spacingAndGlyphs">0.0035</text>
<line x1="517.4" y1="397.3" x2="518.6" y2="397.3" stroke="#555" stroke-width="0.4"/>
<text x="520.0" y="399.2" font-size="5.6" class="mono" fill="#222" textLength="16.5" lengthAdjust="spacingAndGlyphs">0.0025</text>
<line x1="517.4" y1="404.1" x2="518.6" y2="404.1" stroke="#555" stroke-width="0.4"/>
<text x="520.0" y="406.0" font-size="5.6" class="mono" fill="#222" textLength="16.5" lengthAdjust="spacingAndGlyphs">0.0010</text>
<line x1="517.4" y1="408.4" x2="518.6" y2="408.4" stroke="#555" stroke-width="0.4"/>
<text x="520.0" y="410.3" font-size="5.6" class="mono" fill="#222" textLength="16.5" lengthAdjust="spacingAndGlyphs">0.0008</text>
<line x1="517.4" y1="412.8" x2="518.6" y2="412.8" stroke="#555" stroke-width="0.4"/>
<text x="520.0" y="414.7" font-size="5.6" class="mono" fill="#222" textLength="16.5" lengthAdjust="spacingAndGlyphs">0.0006</text>
<line x1="517.4" y1="417.2" x2="518.6" y2="417.2" stroke="#555" stroke-width="0.4"/>
<text x="520.0" y="419.1" font-size="5.6" class="mono" fill="#222" textLength="16.5" lengthAdjust="spacingAndGlyphs">0.0004</text>
<line x1="517.4" y1="424.0" x2="518.6" y2="424.0" stroke="#555" stroke-width="0.4"/>
<text x="520.0" y="425.9" font-size="5.6" class="mono" fill="#222" textLength="16.5" lengthAdjust="spacingAndGlyphs">0.0001</text>
<text x="407.1" y="350.8" font-size="8.2" class="mono" text-anchor="middle" fill="#111" textLength="66.7" lengthAdjust="spacingAndGlyphs">Median filtering</text>
<rect x="313.6" y="354.7" width="34.0" height="8.3" rx="1.2" fill="#fff" stroke="#111" stroke-width="0.7"/><text x="315.8" y="361.1" font-size="6.9" class="mono" fill="#111" textLength="29.6" lengthAdjust="spacingAndGlyphs">SNR=1.729</text>
<rect x="313.6" y="365.59999999999997" width="38.3" height="8.3" rx="1.2" fill="#fff" stroke="#111" stroke-width="0.7"/><text x="315.8" y="372.0" font-size="6.9" class="mono" fill="#111" textLength="33.9" lengthAdjust="spacingAndGlyphs">RMSE=0.068</text>
<rect x="313.6" y="376.4" width="38.3" height="8.3" rx="1.2" fill="#fff" stroke="#111" stroke-width="0.7"/><text x="315.8" y="382.8" font-size="6.9" class="mono" fill="#111" textLength="33.9" lengthAdjust="spacingAndGlyphs">SSIM=0.970</text>
<clipPath id="cpv"><rect x="311.3" y="19.5" width="202.5" height="73.3"/></clipPath>
<g clip-path="url(#cpv)">
<rect x="311" y="19" width="204" height="75" fill="#0c0cf0"/>
<rect x="324.3" y="53.7" width="4.7" height="26.3" fill="#ffa30f"/>
<rect x="330.2" y="57.3" width="11.1" height="32.7" fill="#ffa30f"/>
<rect x="341.0" y="51.4" width="4.9" height="38.6" fill="#ffa30f"/>
<rect x="345.6" y="57.3" width="5.0" height="32.7" fill="#ffa30f"/>
<rect x="350.3" y="63.2" width="5.0" height="26.8" fill="#ffa30f"/>
<rect x="355.0" y="66.7" width="3.5" height="23.3" fill="#ffa30f"/>
<rect x="356.7" y="40.7" width="14.9" height="25.3" fill="#ffa30f"/>
<rect x="362.1" y="50.0" width="4.7" height="7.3" fill="#0c0cf0"/>
<rect x="361.0" y="57.3" width="5.8" height="5.9" fill="#1ef0f0"/>
<rect x="369.2" y="25.4" width="5.9" height="16.6" fill="#ffa30f"/>
<rect x="361.0" y="26.5" width="2.4" height="16.5" fill="#1ef0f0"/>
<rect x="363.4" y="26.5" width="2.3" height="16.5" fill="#ffa30f"/>
<rect x="363.0" y="19.5" width="8.0" height="1.5" fill="#ffa30f"/>
<rect x="376.3" y="19.5" width="2.4" height="14.1" fill="#1ef0f0"/>
<rect x="391.6" y="19.5" width="2.0" height="8.5" fill="#1ef0f0"/>
<rect x="396.4" y="19.5" width="11.8" height="28.3" fill="#1ef0f0"/>
<rect x="399.2" y="30.0" width="1.0" height="18.0" fill="#0c0cf0"/>
<rect x="401.6" y="24.0" width="0.7" height="24.0" fill="#0c0cf0"/>
<rect x="404.8" y="19.5" width="1.0" height="20.5" fill="#0c0cf0"/>
<rect x="406.9" y="30.0" width="0.7" height="18.0" fill="#0c0cf0"/>
<rect x="397.3" y="22.0" width="0.6" height="26.0" fill="#0c0cf0"/>
<rect x="409.0" y="24.0" width="0.9" height="18.0" fill="#ffa30f"/>
<rect x="410.5" y="19.5" width="1.0" height="10.5" fill="#1ef0f0"/>
<rect x="419.5" y="19.5" width="1.5" height="6.5" fill="#1ef0f0"/>
<rect x="421.0" y="22.0" width="1.0" height="8.0" fill="#ffa30f"/>
<rect x="420.6" y="33.0" width="10.8" height="25.0" fill="#ffa30f"/>
<rect x="424.6" y="36.0" width="0.7" height="20.0" fill="#0c0cf0"/>
<rect x="428.0" y="33.0" width="0.8" height="17.0" fill="#0e800e"/>
<polygon points="443.6,88.5 443.6,33.6 448,33.6 448,35 452,35 452,37.2 459,37.2 459,39.5 467.3,39.5 467.3,44.3 475,44.3 475,46.5 483.8,46.5 483.8,49 491,49 491,48 498,48 498,50.2 506.3,50.2 506.3,56.1 514,56.1 514,88.5" fill="#ffa30f"/>
<rect x="435.4" y="78.5" width="8.2" height="10.0" fill="#ffa30f"/>
<rect x="443.6" y="59.5" width="26.4" height="13.3" fill="#0c0cf0"/>
<rect x="443.6" y="50.0" width="3.9" height="10.8" fill="#0c0cf0"/>
<rect x="475.6" y="81.0" width="5.9" height="7.5" fill="#2a2ad0"/>
<rect x="502.5" y="59.0" width="1.5" height="1.6" fill="#0c0cf0"/>
<rect x="508.4" y="65.0" width="1.6" height="1.6" fill="#0c0cf0"/>
<rect x="509.5" y="83.5" width="2.0" height="2.5" fill="#0c0cf0"/>
<rect x="484.0" y="70.0" width="1.2" height="2.0" fill="#0c0cf0"/>
<path d="M432.6,47 L432.6,33 Q434,26.5 438.5,27 Q443.8,29 443.8,36 L443.8,46 L440,44 L436.5,45.5 Z" fill="#1ef0f0"/>
<rect x="453.2" y="38.0" width="0.7" height="50.0" fill="#1ef0f0"/>
<rect x="449.0" y="55.0" width="0.7" height="5.0" fill="#1ef0f0"/>
<rect x="476.0" y="57.0" width="0.7" height="25.0" fill="#bfe8d8"/>
<rect x="479.0" y="60.0" width="0.7" height="24.0" fill="#1ef0f0"/>
<rect x="485.0" y="58.0" width="0.7" height="22.0" fill="#d8e8c0"/>
<rect x="470.0" y="62.0" width="0.7" height="24.0" fill="#e8c890"/>
<rect x="459.0" y="74.0" width="0.7" height="14.0" fill="#e0e0c0"/>
<rect x="446.5" y="74.0" width="0.7" height="14.0" fill="#1ef0f0"/>
<rect x="492.0" y="62.0" width="0.7" height="16.0" fill="#e8c890"/>
<polygon points="311.3,76.1 312.2,76.1 312.2,75.5 313.1,75.5 313.1,74.5 314.0,74.5 314.0,74.7 314.9,74.7 314.9,78.3 315.8,78.3 315.8,77.1 316.7,77.1 316.7,79.4 317.6,79.4 317.6,79.3 318.5,79.3 318.5,81.4 319.4,81.4 319.4,79.4 320.3,79.4 320.3,82.8 321.2,82.8 321.2,79.6 322.1,79.6 322.1,82.5 323.0,82.5 323.0,82.0 323.9,82.0 323.9,78.5 324.8,78.5 324.8,77.0 325.7,77.0 325.7,75.1 326.6,75.1 326.6,75.1 327.5,75.1 327.5,75.1 328.4,75.1 328.4,75.8 329.3,75.8 329.3,75.1 330.2,75.1 330.2,76.2 331.1,76.2 331.1,80.4 332.0,80.4 332.0,82.8 332.9,82.8 332.9,82.7 333.8,82.7 333.8,79.9 334.7,79.9 334.7,83.5 335.6,83.5 335.6,80.7 336.5,80.7 336.5,82.8 337.4,82.8 337.4,79.8 338.3,79.8 338.3,82.6 339.2,82.6 339.2,81.6 340.1,81.6 340.1,81.4 341.0,81.4 341.0,79.6 341.9,79.6 341.9,76.2 342.8,76.2 342.8,79.3 343.7,79.3 343.7,78.3 344.6,78.3 344.6,78.8 345.5,78.8 345.5,80.3 346.4,80.3 346.4,80.2 347.3,80.2 347.3,81.1 348.2,81.1 348.2,81.0 349.1,81.0 349.1,77.3 350.0,77.3 350.0,82.9 350.9,82.9 350.9,81.3 351.8,81.3 351.8,81.3 352.7,81.3 352.7,79.6 353.6,79.6 353.6,79.7 354.5,79.7 354.5,73.5 355.4,73.5 355.4,75.8 356.3,75.8 356.3,71.8 357.2,71.8 357.2,72.9 358.1,72.9 358.1,67.4 359.0,67.4 359.0,65.9 359.9,65.9 359.9,63.4 360.8,63.4 360.8,63.2 361.7,63.2 361.7,63.4 362.6,63.4 362.6,62.6 363.5,62.6 363.5,62.8 364.4,62.8 364.4,60.6 365.3,60.6 365.3,64.2 366.2,64.2 366.2,62.3 367.1,62.3 367.1,58.5 368.0,58.5 368.0,60.2 368.9,60.2 368.9,58.0 369.8,58.0 369.8,57.0 370.7,57.0 370.7,55.0 371.6,55.0 371.6,52.5 372.5,52.5 372.5,50.7 373.4,50.7 373.4,50.5 374.3,50.5 374.3,48.4 375.2,48.4 375.2,47.9 376.1,47.9 376.1,45.9 377.0,45.9 377.0,46.7 377.9,46.7 377.9,47.4 378.8,47.4 378.8,48.1 379.7,48.1 379.7,47.8 380.6,47.8 380.6,48.8 381.5,48.8 381.5,48.2 382.4,48.2 382.4,49.4 383.3,49.4 383.3,49.9 384.2,49.9 384.2,49.1 385.1,49.1 385.1,48.0 386.0,48.0 386.0,49.1 386.9,49.1 386.9,48.1 387.8,48.1 387.8,47.8 388.7,47.8 388.7,47.4 389.6,47.4 389.6,46.9 390.5,46.9 390.5,46.6 391.4,46.6 391.4,46.4 392.3,46.4 392.3,45.0 393.2,45.0 393.2,45.6 394.1,45.6 394.1,45.6 395.0,45.6 395.0,44.6 395.9,44.6 395.9,45.9 396.8,45.9 396.8,48.4 397.7,48.4 397.7,46.0 398.6,46.0 398.6,49.2 399.5,49.2 399.5,49.8 400.4,49.8 400.4,48.1 401.3,48.1 401.3,49.5 402.2,49.5 402.2,49.4 403.1,49.4 403.1,46.9 404.0,46.9 404.0,49.2 404.9,49.2 404.9,49.5 405.8,49.5 405.8,50.5 406.7,50.5 406.7,49.2 407.6,49.2 407.6,49.4 408.5,49.4 408.5,48.0 409.4,48.0 409.4,48.4 410.3,48.4 410.3,48.8 411.2,48.8 411.2,47.1 412.1,47.1 412.1,43.0 413.0,43.0 413.0,43.7 413.9,43.7 413.9,47.2 414.8,47.2 414.8,46.1 415.7,46.1 415.7,45.6 416.6,45.6 416.6,45.5 417.5,45.5 417.5,46.6 418.4,46.6 418.4,46.1 419.3,46.1 419.3,47.3 420.2,47.3 420.2,47.7 421.1,47.7 421.1,49.1 422.0,49.1 422.0,47.0 422.9,47.0 422.9,50.5 423.8,50.5 423.8,50.4 424.7,50.4 424.7,48.1 425.6,48.1 425.6,47.9 426.5,47.9 426.5,48.3 427.4,48.3 427.4,42.2 428.3,42.2 428.3,46.2 429.2,46.2 429.2,47.0 430.1,47.0 430.1,48.2 431.0,48.2 431.0,48.2 431.4,48.2 431.4,48.0 433.9,53.5 435.4,65.5 437.4,77.5 440.0,85.8 441.5,87.6 472.0,88.0 472.0,94.0 311.0,94.0" fill="#0e800e"/>
<rect x="472.0" y="88.2" width="42.0" height="1.4" fill="#0e800e"/>
<polygon points="311.3,80.3 312.2,80.3 312.2,79.6 313.1,79.6 313.1,78.5 314.0,78.5 314.0,80.1 314.9,80.1 314.9,82.1 315.8,82.1 315.8,83.5 316.7,83.5 316.7,84.4 317.6,84.4 317.6,85.7 318.5,85.7 318.5,86.5 319.4,86.5 319.4,86.8 320.3,86.8 320.3,87.9 321.2,87.9 321.2,88.9 322.1,88.9 322.1,88.1 323.0,88.1 323.0,86.0 323.9,86.0 323.9,83.6 324.8,83.6 324.8,81.0 325.7,81.0 325.7,80.5 326.6,80.5 326.6,79.3 327.5,79.3 327.5,79.0 328.4,79.0 328.4,80.9 329.3,80.9 329.3,82.6 330.2,82.6 330.2,84.0 331.1,84.0 331.1,85.8 332.0,85.8 332.0,86.6 332.9,86.6 332.9,87.5 333.8,87.5 333.8,88.9 334.7,88.9 334.7,88.7 335.6,88.7 335.6,88.1 336.5,88.1 336.5,88.0 337.4,88.0 337.4,86.6 338.3,86.6 338.3,86.7 339.2,86.7 339.2,85.9 340.1,85.9 340.1,85.0 341.0,85.0 341.0,84.3 341.9,84.3 341.9,84.1 342.8,84.1 342.8,83.7 343.7,83.7 343.7,83.4 344.6,83.4 344.6,84.2 345.5,84.2 345.5,84.8 346.4,84.8 346.4,85.2 347.3,85.2 347.3,85.5 348.2,85.5 348.2,85.6 349.1,85.6 349.1,86.3 350.0,86.3 350.0,86.8 350.9,86.8 350.9,86.3 351.8,86.3 351.8,85.6 352.7,85.6 352.7,85.0 353.6,85.0 353.6,83.9 354.5,83.9 354.5,82.6 355.4,82.6 355.4,80.9 356.3,80.9 356.3,79.5 357.2,79.5 357.2,77.1 358.1,77.1 358.1,74.4 359.0,74.4 359.0,71.4 359.9,71.4 359.9,67.9 360.8,67.9 360.8,67.1 361.7,67.1 361.7,66.7 362.6,66.7 362.6,67.4 363.5,67.4 363.5,67.9 364.4,67.9 364.4,67.9 365.3,67.9 365.3,67.5 366.2,67.5 366.2,66.4 367.1,66.4 367.1,65.8 368.0,65.8 368.0,63.9 368.9,63.9 368.9,63.0 369.8,63.0 369.8,61.0 370.7,61.0 370.7,58.9 371.6,58.9 371.6,57.5 372.5,57.5 372.5,55.3 373.4,55.3 373.4,54.2 374.3,54.2 374.3,53.3 375.2,53.3 375.2,51.8 376.1,51.8 376.1,51.0 377.0,51.0 377.0,51.9 377.9,51.9 377.9,52.3 378.8,52.3 378.8,52.8 379.7,52.8 379.7,52.3 380.6,52.3 380.6,52.8 381.5,52.8 381.5,52.9 382.4,52.9 382.4,53.4 383.3,53.4 383.3,53.5 384.2,53.5 384.2,54.1 385.1,54.1 385.1,53.1 386.0,53.1 386.0,52.4 386.9,52.4 386.9,52.6 387.8,52.6 387.8,51.6 388.7,51.6 388.7,51.6 389.6,51.6 389.6,51.2 390.5,51.2 390.5,51.4 391.4,51.4 391.4,50.8 392.3,50.8 392.3,50.6 393.2,50.6 393.2,50.1 394.1,50.1 394.1,50.8 395.0,50.8 395.0,51.4 395.9,51.4 395.9,52.7 396.8,52.7 396.8,53.4 397.7,53.4 397.7,53.4 398.6,53.4 398.6,53.7 399.5,53.7 399.5,54.0 400.4,54.0 400.4,54.6 401.3,54.6 401.3,54.2 402.2,54.2 402.2,54.9 403.1,54.9 403.1,55.0 404.0,55.0 404.0,54.2 404.9,54.2 404.9,54.6 405.8,54.6 405.8,53.8 406.7,53.8 406.7,53.6 407.6,53.6 407.6,53.8 408.5,53.8 408.5,53.1 409.4,53.1 409.4,53.3 410.3,53.3 410.3,52.4 411.2,52.4 411.2,51.8 412.1,51.8 412.1,51.9 413.0,51.9 413.0,50.8 413.9,50.8 413.9,51.3 414.8,51.3 414.8,50.4 415.7,50.4 415.7,50.2 416.6,50.2 416.6,50.8 417.5,50.8 417.5,50.6 418.4,50.6 418.4,50.9 419.3,50.9 419.3,51.5 420.2,51.5 420.2,53.2 421.1,53.2 421.1,53.9 422.0,53.9 422.0,55.2 422.9,55.2 422.9,54.8 423.8,54.8 423.8,54.6 424.7,54.6 424.7,53.6 425.6,53.6 425.6,52.7 426.5,52.7 426.5,52.2 427.4,52.2 427.4,51.9 428.3,51.9 428.3,51.0 429.2,51.0 429.2,51.6 430.1,51.6 430.1,52.3 431.0,52.3 431.0,53.9 431.4,53.9 431.4,55.0 432.5,56.0 434.0,68.0 436.0,80.0 438.6,88.3 441.0,90.6 466.0,91.2 466.0,89.6 514.0,89.6 514.0,94.0 311.0,94.0" fill="#a8a8a8"/>
<rect x="431.2" y="31.0" width="0.7" height="61.0" fill="#777"/>
<polygon points="314.6,76 315.4,58.5 316.3,76" fill="#0e800e"/>
</g>
<rect x="311.3" y="19.5" width="202.5" height="73.3" fill="none" stroke="#222" stroke-width="0.6"/>
<text x="308.9" y="93.2" font-size="4.8" class="sans" font-weight="bold" text-anchor="end" fill="#222">0</text>
<line x1="309.8" y1="91.5" x2="311.3" y2="91.5" stroke="#222" stroke-width="0.5"/>
<text x="308.9" y="75.8" font-size="4.8" class="sans" font-weight="bold" text-anchor="end" fill="#222">2</text>
<line x1="309.8" y1="74.0" x2="311.3" y2="74.0" stroke="#222" stroke-width="0.5"/>
<text x="308.9" y="58.3" font-size="4.8" class="sans" font-weight="bold" text-anchor="end" fill="#222">4</text>
<line x1="309.8" y1="56.6" x2="311.3" y2="56.6" stroke="#222" stroke-width="0.5"/>
<text x="308.9" y="40.9" font-size="4.8" class="sans" font-weight="bold" text-anchor="end" fill="#222">6</text>
<line x1="309.8" y1="39.1" x2="311.3" y2="39.1" stroke="#222" stroke-width="0.5"/>
<text x="308.9" y="23.4" font-size="4.8" class="sans" font-weight="bold" text-anchor="end" fill="#222">8</text>
<line x1="309.8" y1="21.7" x2="311.3" y2="21.7" stroke="#222" stroke-width="0.5"/>
<text transform="translate(303.8,56.0) rotate(-90)" font-size="5.8" class="sans" text-anchor="middle" fill="#111" textLength="29.8" lengthAdjust="spacingAndGlyphs">Height/km</text>
<rect x="517.8" y="25.6" width="3.4" height="8.0" fill="#111111"/>
<text x="523.4" y="30.6" font-size="3" class="sans" fill="#333">7</text>
<rect x="517.8" y="33.5" width="3.4" height="8.0" fill="#a0a0a0"/>
<text x="523.4" y="38.5" font-size="3" class="sans" fill="#333">6</text>
<rect x="517.8" y="41.4" width="3.4" height="8.0" fill="#108010"/>
<text x="523.4" y="46.4" font-size="3" class="sans" fill="#333">5</text>
<rect x="517.8" y="49.3" width="3.4" height="8.0" fill="#f0f000"/>
<text x="523.4" y="54.3" font-size="3" class="sans" fill="#333">4</text>
<rect x="517.8" y="57.2" width="3.4" height="8.0" fill="#ffa30f"/>
<text x="523.4" y="62.2" font-size="3" class="sans" fill="#333">3</text>
<rect x="517.8" y="65.1" width="3.4" height="8.0" fill="#1ef0f0"/>
<text x="523.4" y="70.1" font-size="3" class="sans" fill="#333">2</text>
<rect x="517.8" y="73.0" width="3.4" height="8.0" fill="#0c0cf0"/>
<text x="523.4" y="78.0" font-size="3" class="sans" fill="#333">1</text>
<rect x="517.8" y="80.9" width="3.4" height="8.0" fill="#4a8ad0"/>
<text x="523.4" y="85.9" font-size="3" class="sans" fill="#333">0</text>
<rect x="517.8" y="25.6" width="3.4" height="63.3" fill="none" stroke="#666" stroke-width="0.3"/>
<rect x="312.6" y="3.3" width="7.0" height="6.3" fill="#fff" stroke="#000" stroke-width="1.3"/>
<text x="333.6" y="10.2" font-size="10.4" font-weight="bold" class="serif" fill="#000" textLength="106" lengthAdjust="spacingAndGlyphs">Vertical Feature Mask</text>
<path d="M233.2,101.9 L240.5,105.5 L232.7,110.5 L236.4,105.4 Z" fill="#111"/><path d="M233.6,102.6 L239,105.4 L236.6,105.2 Z" fill="#eee"/>
<text x="253.3" y="110.6" font-size="12.2" font-weight="bold" class="serif" fill="#000" textLength="159.3" lengthAdjust="spacingAndGlyphs">Automatic Denoising Module</text>
<rect x="246.8" y="120.2" width="155.4" height="122.6" rx="17" fill="#fdf1cd" stroke="#3b6aa2" stroke-width="1.7" stroke-dasharray="11 4.6" stroke-dashoffset="3"/>
<polygon points="258.8,171.9 262.1,173.3 295.7,134.7 292.4,133.3" fill="#cfdef5"/>
<polygon points="258.8,171.9 262.1,173.3 262.1,226.8 258.8,225.4" fill="#bdd0f0"/>
<polygon points="262.1,173.3 295.7,134.7 295.7,188.2 262.1,226.8" fill="url(#pg)"/>
<path d="M262.1,173.3 V226.8" stroke="#dfe9f8" stroke-width="0.6" fill="none"/>
<path d="M258.8,171.9 V225.4" stroke="#8fa9d6" stroke-width="0.4" fill="none"/>
<clipPath id="c1"><rect x="255" y="120" width="28.5" height="120"/></clipPath><g clip-path="url(#c1)"><text transform="matrix(0.68,-0.781,0,1,281.5,181.0)" x="0" y="-2.7" font-size="10.6" font-weight="bold" font-style="italic" class="serif" text-anchor="middle" fill="#111" stroke="#111" stroke-width="0.35">Gaussian</text>
<text transform="matrix(0.68,-0.781,0,1,281.5,181.0)" x="0" y="9.1" font-size="10.6" font-weight="bold" font-style="italic" class="serif" text-anchor="middle" fill="#111" stroke="#111" stroke-width="0.35">filtering</text></g>
<polygon points="283.5,172.6 286.8,174.0 322.4,134.7 319.09999999999997,133.3" fill="#cfdef5"/>
<polygon points="283.5,172.6 286.8,174.0 286.8,227.3 283.5,225.9" fill="#bdd0f0"/>
<polygon points="286.8,174.0 322.4,134.7 322.4,188.0 286.8,227.3" fill="url(#pg)"/>
<path d="M286.8,174.0 V227.3" stroke="#dfe9f8" stroke-width="0.6" fill="none"/>
<path d="M283.5,172.6 V225.9" stroke="#8fa9d6" stroke-width="0.4" fill="none"/>
<text transform="matrix(0.52,-0.574,0,1,305.2,182.0)" x="0" y="-8.0" font-size="8.8" font-weight="bold" font-style="italic" class="serif" text-anchor="middle" fill="#111" stroke="#111" stroke-width="0.35">Three-</text>
<text transform="matrix(0.52,-0.574,0,1,305.2,182.0)" x="0" y="2.6" font-size="8.8" font-weight="bold" font-style="italic" class="serif" text-anchor="middle" fill="#111" stroke="#111" stroke-width="0.35">point</text>
<text transform="matrix(0.52,-0.574,0,1,305.2,182.0)" x="0" y="13.2" font-size="8.8" font-weight="bold" font-style="italic" class="serif" text-anchor="middle" fill="#111" stroke="#111" stroke-width="0.35">smoothing</text>
<polygon points="316.8,170.6 319.9,172.0 356.8,135.2 353.70000000000005,133.8" fill="#cfdef5"/>
<polygon points="316.8,170.6 319.9,172.0 319.9,224.2 316.8,222.8" fill="#bdd0f0"/>
<polygon points="319.9,172.0 356.8,135.2 356.8,187.4 319.9,224.2" fill="url(#pg)"/>
<path d="M319.9,172.0 V224.2" stroke="#dfe9f8" stroke-width="0.6" fill="none"/>
<path d="M316.8,170.6 V222.8" stroke="#8fa9d6" stroke-width="0.4" fill="none"/>
<clipPath id="c3"><rect x="315" y="120" width="31.6" height="120"/></clipPath><g clip-path="url(#c3)"><text transform="matrix(0.66,-0.658,0,1,340,179.5)" x="0" y="-2.6" font-size="10.6" font-weight="bold" font-style="italic" class="serif" text-anchor="middle" fill="#111" stroke="#111" stroke-width="0.35">Bilateral</text>
<text transform="matrix(0.66,-0.658,0,1,340,179.5)" x="0" y="9.0" font-size="10.6" font-weight="bold" font-style="italic" class="serif" text-anchor="middle" fill="#111" stroke="#111" stroke-width="0.35">filtering</text></g>
<polygon points="346.6,172.6 349.7,174.0 387.3,136.5 384.20000000000005,135.1" fill="#cfdef5"/>
<polygon points="346.6,172.6 349.7,174.0 349.7,227.3 346.6,225.9" fill="#bdd0f0"/>
<polygon points="349.7,174.0 387.3,136.5 387.3,189.8 349.7,227.3" fill="url(#pg)"/>
<path d="M349.7,174.0 V227.3" stroke="#dfe9f8" stroke-width="0.6" fill="none"/>
<path d="M346.6,172.6 V225.9" stroke="#8fa9d6" stroke-width="0.4" fill="none"/>
<text transform="matrix(0.68,-0.678,0,1,370,182.0)" x="0" y="-2.7" font-size="10.6" font-weight="bold" font-style="italic" class="serif" text-anchor="middle" fill="#111" stroke="#111" stroke-width="0.35">Median</text>
<text transform="matrix(0.68,-0.678,0,1,370,182.0)" x="0" y="9.1" font-size="10.6" font-weight="bold" font-style="italic" class="serif" text-anchor="middle" fill="#111" stroke="#111" stroke-width="0.35">filtering</text>
<path d="M186.9,104.3 C153,104.5 133.7,135 133.7,167.6 C133.7,201 149,227 174.7,237.1 L173,244 L188.3,231.9 L175.4,218 L177.2,223.9 C154,214 136.1,198 136.1,171 C136.1,141 156,119 186.9,118.2 Z" fill="#000" stroke="#f00018" stroke-width="0.9" stroke-linejoin="miter"/>
<g stroke="#595959" stroke-width="1.6" fill="none">
<path d="M4,251.7 H546" stroke-dasharray="8 6.6" stroke-dashoffset="1.6"/>
<path d="M4,432 H546.2" stroke-dasharray="8 6.6" stroke-dashoffset="6.2"/>
<path d="M5,251 V432.8" stroke-dasharray="8.8 4.1" stroke-dashoffset="10.7" stroke-width="1.4"/>
<path d="M545.4,251 V432.8" stroke-dasharray="8.8 6.3" stroke-dashoffset="14.5" stroke-width="1.4"/>
<path d="M5,250.9 V254 M545.4,429.5 V432.8" stroke-width="1.4"/>
</g>
</svg></body></html>
